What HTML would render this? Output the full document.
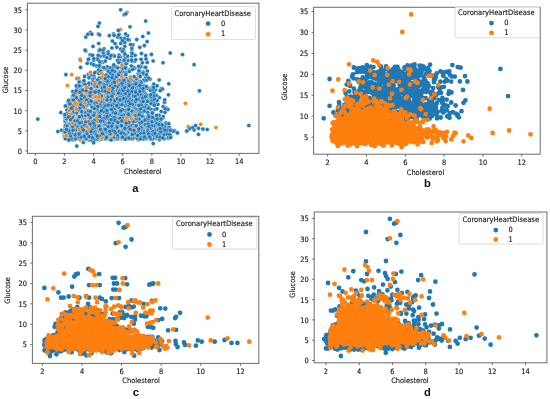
<!DOCTYPE html>
<html><head><meta charset="utf-8"><title>Scatter plots</title>
<style>html,body{margin:0;padding:0;background:#fff}svg{display:block}
text{font-family:"DejaVu Sans Condensed","DejaVu Sans","Liberation Sans",sans-serif;font-stretch:condensed;font-size:7.4px;fill:#161616;stroke:#161616;stroke-width:.12px}
text.lt{font-size:7.55px}
text.lab{font-family:"Liberation Sans",sans-serif;font-stretch:normal;font-weight:bold;font-size:11.2px;fill:#111;stroke:none}
.sa circle{r:2.1px;fill:#1f77b4;stroke:#fff;stroke-width:.38px}
.sa circle.o{fill:#ff7f0e}
</style></head>
<body><svg width="550" height="399" viewBox="0 0 550 399">
<rect width="550" height="399" fill="#fff"/>
<rect x="27.4" y="3.2" width="231.5" height="150.2" fill="#fff" stroke="#6c6c6c" stroke-width="1"/>
<text x="35.3" y="164.3" text-anchor="middle">0</text>
<text x="64.4" y="164.3" text-anchor="middle">2</text>
<text x="93.6" y="164.3" text-anchor="middle">4</text>
<text x="122.7" y="164.3" text-anchor="middle">6</text>
<text x="151.9" y="164.3" text-anchor="middle">8</text>
<text x="181.0" y="164.3" text-anchor="middle">10</text>
<text x="210.1" y="164.3" text-anchor="middle">12</text>
<text x="239.3" y="164.3" text-anchor="middle">14</text>
<text x="22.0" y="153.8" text-anchor="end">0</text>
<text x="22.0" y="133.7" text-anchor="end">5</text>
<text x="22.0" y="113.5" text-anchor="end">10</text>
<text x="22.0" y="93.4" text-anchor="end">15</text>
<text x="22.0" y="73.2" text-anchor="end">20</text>
<text x="22.0" y="53.1" text-anchor="end">25</text>
<text x="22.0" y="32.9" text-anchor="end">30</text>
<text x="22.0" y="12.7" text-anchor="end">35</text>
<path d="M35.3 153.4v2.4M64.4 153.4v2.4M93.6 153.4v2.4M122.7 153.4v2.4M151.9 153.4v2.4M181.0 153.4v2.4M210.1 153.4v2.4M239.3 153.4v2.4M27.4 150.9h-2.1M27.4 130.8h-2.1M27.4 110.6h-2.1M27.4 90.5h-2.1M27.4 70.3h-2.1M27.4 50.2h-2.1M27.4 30.0h-2.1M27.4 9.8h-2.1" stroke="#4d4d4d" stroke-width="0.8" fill="none"/>
<text x="142.8" y="174.2" text-anchor="middle">Cholesterol</text>
<text transform="translate(8.3 80.0) rotate(-90)" text-anchor="middle">Glucose</text>
<text class="lab" x="135.4" y="191.6" text-anchor="middle">a</text>
<g class="sa"><circle cx="111.1" cy="133.9"/><circle cx="141.1" cy="130.6"/><circle cx="87.3" cy="132.5"/><circle cx="82.2" cy="112.9"/><circle cx="103.3" cy="105.8"/><circle cx="91.2" cy="92.4"/><circle cx="147.1" cy="133.2"/><circle cx="73.0" cy="116.2"/><circle cx="88.5" cy="74.3"/><circle cx="93.8" cy="95.0"/><circle cx="148.0" cy="134.3"/><circle cx="109.2" cy="136.5"/><circle cx="139.4" cy="77.3"/><circle cx="105.2" cy="132.5"/><circle cx="93.8" cy="90.6"/><circle cx="105.6" cy="119.6"/><circle cx="110.2" cy="81.5"/><circle cx="114.3" cy="108.3"/><circle cx="163.5" cy="127.2"/><circle cx="79.0" cy="127.5"/><circle cx="131.8" cy="49.4"/><circle cx="143.7" cy="129.0"/><circle cx="119.1" cy="129.4"/><circle cx="134.4" cy="91.2"/><circle cx="121.5" cy="63.7"/><circle cx="86.9" cy="103.6"/><circle cx="123.6" cy="138.7"/><circle cx="92.1" cy="128.4"/><circle cx="115.0" cy="130.5"/><circle cx="117.5" cy="104.6"/><circle cx="133.7" cy="134.1"/><circle cx="113.6" cy="127.0"/><circle cx="82.4" cy="108.1" class="o"/><circle cx="154.2" cy="131.5"/><circle cx="161.6" cy="88.6"/><circle cx="117.0" cy="128.4"/><circle cx="90.2" cy="54.8"/><circle cx="102.8" cy="127.8"/><circle cx="109.0" cy="135.0"/><circle cx="141.0" cy="127.3"/><circle cx="116.9" cy="127.0"/><circle cx="126.5" cy="134.9"/><circle cx="131.6" cy="125.4"/><circle cx="116.6" cy="119.1"/><circle cx="109.2" cy="125.8"/><circle cx="99.4" cy="132.1"/><circle cx="118.3" cy="133.6"/><circle cx="104.8" cy="79.6"/><circle cx="75.5" cy="123.3"/><circle cx="105.7" cy="98.2"/><circle cx="79.2" cy="126.5"/><circle cx="93.8" cy="93.2"/><circle cx="151.3" cy="98.6"/><circle cx="84.9" cy="136.9"/><circle cx="103.2" cy="120.9"/><circle cx="112.5" cy="136.3"/><circle cx="131.9" cy="48.0"/><circle cx="98.9" cy="135.1"/><circle cx="90.1" cy="126.4"/><circle cx="132.7" cy="125.5"/><circle cx="104.3" cy="56.5"/><circle cx="160.2" cy="137.6"/><circle cx="139.9" cy="133.7" class="o"/><circle cx="145.1" cy="132.9"/><circle cx="74.2" cy="123.4"/><circle cx="135.2" cy="127.3"/><circle cx="126.8" cy="119.9"/><circle cx="139.8" cy="119.0"/><circle cx="125.0" cy="125.1"/><circle cx="113.6" cy="87.5"/><circle cx="85.0" cy="135.6"/><circle cx="92.2" cy="101.4"/><circle cx="131.2" cy="130.5"/><circle cx="80.2" cy="134.7"/><circle cx="83.2" cy="127.4"/><circle cx="69.0" cy="128.9"/><circle cx="91.3" cy="115.2"/><circle cx="123.9" cy="132.8"/><circle cx="143.1" cy="132.7" class="o"/><circle cx="77.3" cy="131.4"/><circle cx="106.3" cy="129.3"/><circle cx="110.2" cy="124.8"/><circle cx="147.4" cy="130.2"/><circle cx="68.2" cy="119.8"/><circle cx="108.5" cy="100.8"/><circle cx="129.9" cy="129.1" class="o"/><circle cx="102.1" cy="137.3"/><circle cx="125.1" cy="86.1"/><circle cx="121.3" cy="90.0" class="o"/><circle cx="95.2" cy="126.8"/><circle cx="70.2" cy="106.2"/><circle cx="113.5" cy="34.0"/><circle cx="153.7" cy="125.2"/><circle cx="113.2" cy="129.4"/><circle cx="118.2" cy="133.9"/><circle cx="131.4" cy="129.2"/><circle cx="106.3" cy="128.5"/><circle cx="124.1" cy="126.0"/><circle cx="108.4" cy="67.8"/><circle cx="97.1" cy="134.7"/><circle cx="81.3" cy="138.6" class="o"/><circle cx="150.2" cy="129.3"/><circle cx="91.3" cy="91.3"/><circle cx="120.9" cy="130.2" class="o"/><circle cx="79.2" cy="127.1"/><circle cx="65.1" cy="134.9"/><circle cx="108.6" cy="92.6"/><circle cx="98.0" cy="131.9"/><circle cx="99.3" cy="140.0" class="o"/><circle cx="120.2" cy="135.2"/><circle cx="126.4" cy="80.0"/><circle cx="116.6" cy="127.9"/><circle cx="105.4" cy="130.7"/><circle cx="123.7" cy="110.1"/><circle cx="64.3" cy="136.0"/><circle cx="135.4" cy="96.6"/><circle cx="98.9" cy="137.4"/><circle cx="118.5" cy="120.2"/><circle cx="74.0" cy="128.5"/><circle cx="73.7" cy="129.6"/><circle cx="107.3" cy="52.9"/><circle cx="102.0" cy="129.9" class="o"/><circle cx="69.0" cy="134.5"/><circle cx="97.5" cy="124.3"/><circle cx="125.7" cy="108.8"/><circle cx="86.9" cy="125.5"/><circle cx="124.0" cy="129.1"/><circle cx="98.3" cy="95.7" class="o"/><circle cx="121.9" cy="125.7"/><circle cx="98.3" cy="131.8"/><circle cx="88.6" cy="95.2"/><circle cx="102.3" cy="89.9"/><circle cx="154.2" cy="126.3"/><circle cx="86.3" cy="96.8"/><circle cx="80.4" cy="97.9" class="o"/><circle cx="94.4" cy="80.9"/><circle cx="106.8" cy="130.6"/><circle cx="130.7" cy="91.8"/><circle cx="143.7" cy="117.9"/><circle cx="124.4" cy="138.4" class="o"/><circle cx="123.1" cy="134.7"/><circle cx="90.6" cy="120.2" class="o"/><circle cx="101.4" cy="95.0"/><circle cx="95.2" cy="93.3"/><circle cx="145.4" cy="128.5"/><circle cx="119.4" cy="34.3"/><circle cx="93.7" cy="133.3"/><circle cx="110.5" cy="77.9"/><circle cx="67.1" cy="138.7"/><circle cx="115.4" cy="111.7"/><circle cx="115.3" cy="130.7"/><circle cx="113.7" cy="114.9"/><circle cx="117.0" cy="97.3"/><circle cx="91.8" cy="85.3"/><circle cx="126.4" cy="129.4" class="o"/><circle cx="95.5" cy="134.0"/><circle cx="78.1" cy="122.4"/><circle cx="137.7" cy="126.7"/><circle cx="199.5" cy="90.9"/><circle cx="124.9" cy="98.1"/><circle cx="114.3" cy="76.1" class="o"/><circle cx="87.7" cy="121.8"/><circle cx="93.5" cy="65.1"/><circle cx="107.8" cy="118.7"/><circle cx="151.0" cy="136.4"/><circle cx="87.0" cy="111.9"/><circle cx="75.6" cy="131.4"/><circle cx="89.4" cy="86.6"/><circle cx="126.1" cy="123.9"/><circle cx="124.2" cy="14.7"/><circle cx="101.9" cy="129.5"/><circle cx="135.3" cy="129.9"/><circle cx="78.2" cy="134.4"/><circle cx="83.4" cy="101.9"/><circle cx="131.9" cy="61.5"/><circle cx="148.2" cy="129.8"/><circle cx="120.9" cy="113.5"/><circle cx="122.7" cy="135.8"/><circle cx="182.5" cy="54.6"/><circle cx="128.6" cy="129.3"/><circle cx="101.2" cy="138.4"/><circle cx="126.2" cy="128.5"/><circle cx="75.2" cy="110.8"/><circle cx="120.2" cy="130.5"/><circle cx="132.0" cy="130.0"/><circle cx="127.6" cy="93.6"/><circle cx="67.5" cy="134.4"/><circle cx="98.3" cy="88.0"/><circle cx="96.5" cy="82.1"/><circle cx="73.9" cy="138.4"/><circle cx="143.4" cy="133.3"/><circle cx="103.9" cy="129.0"/><circle cx="75.4" cy="135.3" class="o"/><circle cx="121.0" cy="121.8"/><circle cx="101.1" cy="132.6"/><circle cx="91.9" cy="132.4"/><circle cx="144.6" cy="134.6"/><circle cx="91.9" cy="88.3" class="o"/><circle cx="69.7" cy="127.1"/><circle cx="159.3" cy="117.6"/><circle cx="86.8" cy="137.5"/><circle cx="109.9" cy="115.0"/><circle cx="84.2" cy="117.7"/><circle cx="104.9" cy="135.5"/><circle cx="100.3" cy="56.3"/><circle cx="144.0" cy="130.7"/><circle cx="73.9" cy="123.3"/><circle cx="110.4" cy="127.6"/><circle cx="107.2" cy="92.4"/><circle cx="88.3" cy="133.8"/><circle cx="118.4" cy="137.9"/><circle cx="69.5" cy="133.5"/><circle cx="113.2" cy="130.0"/><circle cx="96.0" cy="113.1"/><circle cx="113.4" cy="129.2"/><circle cx="117.5" cy="129.9"/><circle cx="98.2" cy="133.5"/><circle cx="151.0" cy="89.1"/><circle cx="104.1" cy="48.8"/><circle cx="114.7" cy="128.0"/><circle cx="69.3" cy="132.6" class="o"/><circle cx="94.5" cy="126.2"/><circle cx="136.0" cy="132.6"/><circle cx="113.4" cy="93.1"/><circle cx="90.5" cy="94.2"/><circle cx="99.7" cy="98.9" class="o"/><circle cx="95.8" cy="129.5" class="o"/><circle cx="102.6" cy="132.7"/><circle cx="86.5" cy="134.4"/><circle cx="67.4" cy="85.6" class="o"/><circle cx="150.0" cy="119.9"/><circle cx="185.4" cy="103.3" class="o"/><circle cx="105.4" cy="136.4"/><circle cx="135.5" cy="134.6"/><circle cx="102.6" cy="134.8"/><circle cx="129.1" cy="70.0"/><circle cx="113.0" cy="134.3"/><circle cx="138.6" cy="92.8"/><circle cx="69.7" cy="127.3"/><circle cx="153.2" cy="99.4"/><circle cx="84.6" cy="130.5"/><circle cx="108.6" cy="114.0"/><circle cx="112.5" cy="130.8"/><circle cx="71.8" cy="131.8"/><circle cx="129.8" cy="116.8"/><circle cx="144.7" cy="124.0"/><circle cx="103.7" cy="87.1"/><circle cx="92.8" cy="127.6"/><circle cx="118.7" cy="132.0"/><circle cx="122.1" cy="133.3"/><circle cx="146.9" cy="136.8"/><circle cx="120.6" cy="57.0"/><circle cx="69.4" cy="119.8" class="o"/><circle cx="158.6" cy="130.8"/><circle cx="81.4" cy="139.1"/><circle cx="119.1" cy="55.2"/><circle cx="86.8" cy="96.4"/><circle cx="135.4" cy="134.8"/><circle cx="108.9" cy="113.0" class="o"/><circle cx="131.7" cy="133.2"/><circle cx="188.3" cy="126.7" class="o"/><circle cx="91.7" cy="134.0" class="o"/><circle cx="111.9" cy="86.6"/><circle cx="100.9" cy="101.1"/><circle cx="98.2" cy="112.5"/><circle cx="141.8" cy="130.0"/><circle cx="96.7" cy="97.9"/><circle cx="133.6" cy="133.3"/><circle cx="85.8" cy="37.1"/><circle cx="116.4" cy="120.6"/><circle cx="136.9" cy="136.0"/><circle cx="102.3" cy="78.2"/><circle cx="120.9" cy="137.6"/><circle cx="96.3" cy="65.9"/><circle cx="102.6" cy="127.2"/><circle cx="121.9" cy="95.0"/><circle cx="107.7" cy="136.5"/><circle cx="154.8" cy="127.9"/><circle cx="163.1" cy="129.1"/><circle cx="140.6" cy="132.4"/><circle cx="146.6" cy="86.5"/><circle cx="140.8" cy="125.9"/><circle cx="99.6" cy="129.4"/><circle cx="143.0" cy="92.8"/><circle cx="86.0" cy="112.8"/><circle cx="95.5" cy="108.9"/><circle cx="89.8" cy="137.1"/><circle cx="73.3" cy="135.5"/><circle cx="121.8" cy="119.0"/><circle cx="77.0" cy="92.5"/><circle cx="94.0" cy="88.0"/><circle cx="83.1" cy="138.2" class="o"/><circle cx="90.7" cy="86.2"/><circle cx="84.3" cy="100.0"/><circle cx="118.9" cy="57.2"/><circle cx="84.6" cy="76.4"/><circle cx="121.2" cy="129.1"/><circle cx="111.9" cy="133.5" class="o"/><circle cx="79.8" cy="136.8" class="o"/><circle cx="115.9" cy="128.3"/><circle cx="83.6" cy="91.6"/><circle cx="109.5" cy="124.6"/><circle cx="103.1" cy="129.9"/><circle cx="101.8" cy="133.8" class="o"/><circle cx="114.6" cy="117.9"/><circle cx="119.0" cy="94.1"/><circle cx="112.3" cy="72.5"/><circle cx="118.7" cy="124.1"/><circle cx="75.7" cy="94.5"/><circle cx="93.0" cy="131.1"/><circle cx="91.5" cy="89.6"/><circle cx="96.5" cy="133.3"/><circle cx="123.0" cy="128.6"/><circle cx="93.5" cy="138.5" class="o"/><circle cx="150.5" cy="99.5"/><circle cx="87.1" cy="130.8" class="o"/><circle cx="120.9" cy="129.3"/><circle cx="106.9" cy="91.8"/><circle cx="83.7" cy="94.9"/><circle cx="147.1" cy="41.6"/><circle cx="136.0" cy="86.8"/><circle cx="154.5" cy="123.7"/><circle cx="138.7" cy="132.9"/><circle cx="120.2" cy="127.6"/><circle cx="115.6" cy="121.7"/><circle cx="121.2" cy="132.4"/><circle cx="112.0" cy="126.8"/><circle cx="105.4" cy="99.3"/><circle cx="102.8" cy="62.3"/><circle cx="134.1" cy="81.7"/><circle cx="96.3" cy="125.7"/><circle cx="105.3" cy="131.4"/><circle cx="145.4" cy="86.2"/><circle cx="90.1" cy="128.7"/><circle cx="137.5" cy="134.3"/><circle cx="129.2" cy="135.3"/><circle cx="157.1" cy="138.4"/><circle cx="82.7" cy="137.7"/><circle cx="129.2" cy="82.9"/><circle cx="95.6" cy="130.4"/><circle cx="117.7" cy="139.1"/><circle cx="96.9" cy="129.5"/><circle cx="78.6" cy="132.2"/><circle cx="99.8" cy="127.1"/><circle cx="127.9" cy="119.5" class="o"/><circle cx="104.8" cy="126.9"/><circle cx="132.6" cy="105.9"/><circle cx="144.8" cy="67.5"/><circle cx="81.7" cy="113.9"/><circle cx="88.3" cy="96.9"/><circle cx="81.2" cy="132.0"/><circle cx="98.5" cy="113.5"/><circle cx="118.3" cy="81.8"/><circle cx="109.5" cy="132.2"/><circle cx="127.3" cy="134.9"/><circle cx="115.6" cy="134.9"/><circle cx="89.6" cy="134.3"/><circle cx="92.2" cy="118.7"/><circle cx="155.6" cy="137.9"/><circle cx="114.4" cy="126.5"/><circle cx="144.7" cy="130.4"/><circle cx="90.4" cy="32.6"/><circle cx="86.7" cy="136.0"/><circle cx="117.0" cy="93.6"/><circle cx="134.9" cy="117.3"/><circle cx="162.1" cy="137.3"/><circle cx="91.4" cy="126.3"/><circle cx="99.2" cy="132.1"/><circle cx="123.4" cy="132.5"/><circle cx="82.5" cy="129.3"/><circle cx="106.7" cy="99.2"/><circle cx="149.0" cy="123.7"/><circle cx="89.6" cy="90.5" class="o"/><circle cx="86.9" cy="118.6"/><circle cx="117.5" cy="120.6"/><circle cx="116.0" cy="128.5"/><circle cx="121.3" cy="91.3"/><circle cx="105.9" cy="108.2" class="o"/><circle cx="125.5" cy="131.1"/><circle cx="96.2" cy="94.3" class="o"/><circle cx="101.5" cy="91.2"/><circle cx="75.4" cy="127.2"/><circle cx="115.0" cy="134.2"/><circle cx="111.5" cy="92.3"/><circle cx="118.5" cy="122.9"/><circle cx="194.1" cy="129.9"/><circle cx="124.1" cy="100.9"/><circle cx="96.5" cy="134.1"/><circle cx="91.1" cy="133.9" class="o"/><circle cx="131.1" cy="134.2"/><circle cx="124.9" cy="126.6"/><circle cx="103.2" cy="136.2"/><circle cx="86.2" cy="98.2"/><circle cx="116.9" cy="68.1"/><circle cx="90.7" cy="128.3"/><circle cx="81.7" cy="123.4"/><circle cx="108.8" cy="72.1"/><circle cx="136.3" cy="135.3"/><circle cx="100.9" cy="97.3"/><circle cx="155.2" cy="132.2"/><circle cx="85.3" cy="122.4"/><circle cx="98.0" cy="133.0" class="o"/><circle cx="98.6" cy="86.2" class="o"/><circle cx="127.1" cy="134.6"/><circle cx="97.1" cy="133.2"/><circle cx="130.6" cy="127.4"/><circle cx="148.5" cy="127.2"/><circle cx="141.3" cy="93.9"/><circle cx="118.5" cy="136.5"/><circle cx="146.2" cy="132.4"/><circle cx="134.9" cy="131.3"/><circle cx="137.0" cy="124.5"/><circle cx="80.5" cy="126.8"/><circle cx="123.0" cy="120.8"/><circle cx="135.7" cy="129.4"/><circle cx="119.6" cy="130.2"/><circle cx="142.4" cy="128.2"/><circle cx="139.3" cy="135.1"/><circle cx="135.5" cy="136.9"/><circle cx="118.3" cy="127.0"/><circle cx="108.2" cy="131.8"/><circle cx="104.2" cy="104.3"/><circle cx="131.3" cy="128.5"/><circle cx="97.6" cy="83.8"/><circle cx="101.1" cy="85.1"/><circle cx="118.4" cy="103.9"/><circle cx="127.1" cy="12.3" class="o"/><circle cx="124.1" cy="128.5"/><circle cx="140.5" cy="133.6" class="o"/><circle cx="135.2" cy="129.7"/><circle cx="74.8" cy="128.4"/><circle cx="133.4" cy="130.8"/><circle cx="67.2" cy="130.4"/><circle cx="112.1" cy="128.9"/><circle cx="74.1" cy="134.2"/><circle cx="165.8" cy="122.9"/><circle cx="139.1" cy="89.9"/><circle cx="96.4" cy="131.0"/><circle cx="121.0" cy="86.4"/><circle cx="105.8" cy="133.7"/><circle cx="142.5" cy="127.5"/><circle cx="90.7" cy="136.1"/><circle cx="123.2" cy="129.0"/><circle cx="94.6" cy="124.1"/><circle cx="152.3" cy="136.1"/><circle cx="101.1" cy="132.6"/><circle cx="74.5" cy="103.9"/><circle cx="77.9" cy="98.8"/><circle cx="111.7" cy="99.7"/><circle cx="80.2" cy="119.1"/><circle cx="104.3" cy="125.8"/><circle cx="86.1" cy="94.7"/><circle cx="100.9" cy="131.3"/><circle cx="136.1" cy="95.3"/><circle cx="80.3" cy="124.5"/><circle cx="78.7" cy="132.0"/><circle cx="128.4" cy="137.6"/><circle cx="131.9" cy="117.7"/><circle cx="131.7" cy="131.2"/><circle cx="96.4" cy="133.0"/><circle cx="127.1" cy="57.6"/><circle cx="103.5" cy="89.7" class="o"/><circle cx="105.8" cy="133.3"/><circle cx="90.9" cy="131.0"/><circle cx="79.9" cy="124.6"/><circle cx="129.6" cy="112.6"/><circle cx="68.8" cy="140.4"/><circle cx="125.3" cy="118.1"/><circle cx="123.7" cy="103.0"/><circle cx="126.5" cy="95.8"/><circle cx="79.6" cy="132.6"/><circle cx="105.4" cy="115.0"/><circle cx="90.4" cy="128.0"/><circle cx="107.7" cy="101.8"/><circle cx="95.1" cy="139.2"/><circle cx="120.1" cy="136.5" class="o"/><circle cx="99.4" cy="87.7"/><circle cx="101.2" cy="100.3"/><circle cx="85.7" cy="128.3"/><circle cx="76.1" cy="98.7"/><circle cx="105.9" cy="129.1"/><circle cx="127.0" cy="130.4"/><circle cx="71.4" cy="129.0"/><circle cx="70.6" cy="131.3"/><circle cx="99.2" cy="136.8"/><circle cx="74.5" cy="129.7"/><circle cx="79.3" cy="124.7"/><circle cx="120.1" cy="88.2"/><circle cx="131.1" cy="136.8"/><circle cx="88.7" cy="132.4"/><circle cx="129.9" cy="132.2"/><circle cx="159.2" cy="80.0"/><circle cx="81.8" cy="134.2" class="o"/><circle cx="66.2" cy="131.0"/><circle cx="95.4" cy="84.3"/><circle cx="120.3" cy="136.0"/><circle cx="106.3" cy="68.8"/><circle cx="66.6" cy="128.1" class="o"/><circle cx="117.6" cy="85.3"/><circle cx="124.5" cy="129.1"/><circle cx="119.2" cy="107.6"/><circle cx="104.6" cy="129.1"/><circle cx="83.1" cy="135.3" class="o"/><circle cx="91.0" cy="129.6"/><circle cx="104.2" cy="97.6"/><circle cx="126.7" cy="105.6"/><circle cx="134.6" cy="91.6"/><circle cx="109.2" cy="94.6"/><circle cx="137.0" cy="128.5"/><circle cx="108.4" cy="88.3"/><circle cx="103.8" cy="131.9"/><circle cx="118.5" cy="90.3"/><circle cx="73.0" cy="114.5"/><circle cx="103.0" cy="85.5"/><circle cx="104.1" cy="90.9"/><circle cx="80.9" cy="119.4"/><circle cx="108.1" cy="91.2"/><circle cx="112.0" cy="128.1"/><circle cx="132.6" cy="134.9"/><circle cx="117.1" cy="132.1"/><circle cx="137.4" cy="120.4"/><circle cx="130.0" cy="119.4"/><circle cx="109.7" cy="129.1"/><circle cx="106.0" cy="131.7"/><circle cx="130.1" cy="130.1"/><circle cx="115.9" cy="81.8"/><circle cx="76.5" cy="128.3"/><circle cx="165.6" cy="132.0"/><circle cx="106.0" cy="136.1"/><circle cx="153.4" cy="92.9"/><circle cx="104.8" cy="108.8"/><circle cx="154.0" cy="132.8"/><circle cx="130.0" cy="135.4"/><circle cx="86.0" cy="127.4" class="o"/><circle cx="168.9" cy="129.6"/><circle cx="164.4" cy="134.6"/><circle cx="105.2" cy="94.6"/><circle cx="83.0" cy="98.6"/><circle cx="124.1" cy="110.4"/><circle cx="118.1" cy="129.7"/><circle cx="109.0" cy="130.3"/><circle cx="119.7" cy="129.7"/><circle cx="75.3" cy="135.4"/><circle cx="112.8" cy="134.9"/><circle cx="113.1" cy="139.4"/><circle cx="136.9" cy="129.1"/><circle cx="102.5" cy="133.1"/><circle cx="69.3" cy="127.1"/><circle cx="111.8" cy="125.5"/><circle cx="88.8" cy="58.8"/><circle cx="120.4" cy="82.2"/><circle cx="72.3" cy="126.8"/><circle cx="128.7" cy="86.7"/><circle cx="82.4" cy="100.5" class="o"/><circle cx="109.2" cy="125.6"/><circle cx="168.9" cy="134.9"/><circle cx="141.3" cy="132.3"/><circle cx="73.9" cy="133.5"/><circle cx="81.4" cy="106.4"/><circle cx="124.1" cy="91.3"/><circle cx="120.5" cy="99.1"/><circle cx="66.0" cy="136.4"/><circle cx="115.4" cy="99.7"/><circle cx="120.7" cy="115.0"/><circle cx="108.7" cy="138.5"/><circle cx="119.8" cy="138.9"/><circle cx="125.0" cy="133.4"/><circle cx="104.5" cy="119.6"/><circle cx="76.4" cy="102.4"/><circle cx="79.3" cy="134.1"/><circle cx="122.4" cy="115.2"/><circle cx="107.5" cy="128.0"/><circle cx="82.4" cy="121.6"/><circle cx="91.3" cy="63.7"/><circle cx="108.4" cy="131.5"/><circle cx="124.0" cy="72.6"/><circle cx="117.5" cy="130.6"/><circle cx="86.6" cy="106.3"/><circle cx="78.5" cy="129.0"/><circle cx="151.1" cy="109.4"/><circle cx="132.6" cy="100.0" class="o"/><circle cx="140.9" cy="123.5"/><circle cx="142.1" cy="130.2"/><circle cx="122.3" cy="136.9"/><circle cx="176.9" cy="132.6"/><circle cx="142.4" cy="62.8"/><circle cx="129.5" cy="90.3"/><circle cx="100.0" cy="72.3"/><circle cx="141.4" cy="131.4"/><circle cx="109.8" cy="69.7"/><circle cx="141.4" cy="129.1"/><circle cx="102.0" cy="137.4" class="o"/><circle cx="82.1" cy="125.0"/><circle cx="132.7" cy="126.0"/><circle cx="57.9" cy="131.6"/><circle cx="81.3" cy="103.4"/><circle cx="101.0" cy="128.3"/><circle cx="86.3" cy="84.8"/><circle cx="124.5" cy="113.6"/><circle cx="103.9" cy="55.4"/><circle cx="135.3" cy="130.7"/><circle cx="117.3" cy="74.6" class="o"/><circle cx="104.3" cy="93.9"/><circle cx="130.5" cy="121.8"/><circle cx="88.3" cy="103.1"/><circle cx="110.2" cy="129.6"/><circle cx="159.4" cy="140.0"/><circle cx="142.6" cy="131.7"/><circle cx="114.3" cy="126.2"/><circle cx="119.9" cy="133.4"/><circle cx="72.6" cy="131.5"/><circle cx="118.4" cy="130.7"/><circle cx="116.8" cy="131.2"/><circle cx="150.0" cy="100.8"/><circle cx="138.1" cy="124.4"/><circle cx="96.7" cy="112.3"/><circle cx="109.9" cy="134.0"/><circle cx="121.0" cy="131.7"/><circle cx="77.9" cy="101.0"/><circle cx="83.5" cy="129.2"/><circle cx="99.2" cy="89.5"/><circle cx="67.5" cy="128.2" class="o"/><circle cx="126.3" cy="134.2"/><circle cx="162.8" cy="129.8"/><circle cx="126.4" cy="106.6"/><circle cx="80.5" cy="133.8"/><circle cx="145.7" cy="55.7"/><circle cx="87.9" cy="130.7"/><circle cx="112.1" cy="89.9"/><circle cx="127.9" cy="97.1"/><circle cx="124.3" cy="38.4"/><circle cx="80.3" cy="132.1"/><circle cx="135.2" cy="113.6"/><circle cx="140.4" cy="133.1"/><circle cx="97.1" cy="131.3"/><circle cx="105.8" cy="135.2"/><circle cx="108.5" cy="128.3"/><circle cx="83.4" cy="125.8" class="o"/><circle cx="77.6" cy="131.6"/><circle cx="109.3" cy="35.7"/><circle cx="121.2" cy="125.0"/><circle cx="102.1" cy="98.7"/><circle cx="145.7" cy="128.5"/><circle cx="157.9" cy="104.4"/><circle cx="124.9" cy="122.5"/><circle cx="138.3" cy="140.0" class="o"/><circle cx="115.0" cy="89.6"/><circle cx="92.4" cy="112.4"/><circle cx="141.1" cy="59.3"/><circle cx="120.9" cy="139.1"/><circle cx="160.7" cy="124.8"/><circle cx="151.3" cy="124.7"/><circle cx="67.2" cy="130.8"/><circle cx="107.7" cy="136.5"/><circle cx="114.6" cy="88.0"/><circle cx="106.7" cy="80.6"/><circle cx="149.0" cy="107.0"/><circle cx="159.1" cy="132.2"/><circle cx="156.0" cy="131.5"/><circle cx="148.4" cy="33.1"/><circle cx="126.7" cy="71.7"/><circle cx="128.3" cy="106.9"/><circle cx="118.3" cy="118.8"/><circle cx="100.9" cy="132.4"/><circle cx="83.5" cy="129.4"/><circle cx="109.8" cy="91.8"/><circle cx="81.9" cy="131.0" class="o"/><circle cx="113.6" cy="120.2"/><circle cx="97.3" cy="124.1"/><circle cx="102.3" cy="82.4"/><circle cx="69.2" cy="133.2"/><circle cx="113.8" cy="89.0"/><circle cx="78.6" cy="138.5" class="o"/><circle cx="97.2" cy="139.1"/><circle cx="76.5" cy="131.6"/><circle cx="113.1" cy="130.4" class="o"/><circle cx="86.8" cy="131.5"/><circle cx="106.3" cy="69.3"/><circle cx="81.7" cy="131.8"/><circle cx="114.7" cy="129.7"/><circle cx="82.7" cy="109.6" class="o"/><circle cx="162.4" cy="89.2"/><circle cx="95.7" cy="135.0"/><circle cx="104.5" cy="128.7"/><circle cx="110.3" cy="137.5"/><circle cx="114.6" cy="135.6"/><circle cx="134.0" cy="135.6"/><circle cx="120.7" cy="133.9" class="o"/><circle cx="159.1" cy="128.2"/><circle cx="137.1" cy="105.9"/><circle cx="103.9" cy="111.4"/><circle cx="87.8" cy="34.3"/><circle cx="145.0" cy="129.1"/><circle cx="76.8" cy="131.7"/><circle cx="115.2" cy="135.9"/><circle cx="151.0" cy="90.1"/><circle cx="86.3" cy="125.4"/><circle cx="125.3" cy="133.6" class="o"/><circle cx="86.0" cy="134.4"/><circle cx="115.9" cy="98.4"/><circle cx="138.4" cy="131.5"/><circle cx="141.9" cy="95.4"/><circle cx="137.7" cy="123.3"/><circle cx="139.1" cy="130.5"/><circle cx="168.8" cy="83.8"/><circle cx="104.8" cy="104.7"/><circle cx="119.5" cy="127.9"/><circle cx="72.1" cy="98.8" class="o"/><circle cx="65.4" cy="133.0"/><circle cx="132.5" cy="119.8"/><circle cx="116.8" cy="91.9"/><circle cx="135.8" cy="128.5"/><circle cx="135.0" cy="128.7" class="o"/><circle cx="90.2" cy="124.7"/><circle cx="73.8" cy="129.2" class="o"/><circle cx="128.3" cy="129.3"/><circle cx="93.8" cy="60.2"/><circle cx="138.0" cy="89.6"/><circle cx="96.0" cy="132.1"/><circle cx="81.3" cy="97.5"/><circle cx="98.5" cy="114.1"/><circle cx="124.7" cy="93.1"/><circle cx="104.8" cy="134.0"/><circle cx="100.3" cy="134.2"/><circle cx="120.7" cy="49.2"/><circle cx="148.8" cy="132.6"/><circle cx="114.8" cy="68.2"/><circle cx="74.4" cy="136.8"/><circle cx="115.1" cy="136.2" class="o"/><circle cx="113.7" cy="55.3"/><circle cx="91.1" cy="129.1"/><circle cx="113.0" cy="85.9"/><circle cx="118.6" cy="130.0"/><circle cx="140.9" cy="67.0"/><circle cx="144.7" cy="81.0"/><circle cx="134.5" cy="115.4"/><circle cx="102.3" cy="77.2"/><circle cx="122.9" cy="127.0"/><circle cx="101.5" cy="132.2"/><circle cx="103.6" cy="97.6"/><circle cx="137.1" cy="98.1"/><circle cx="81.1" cy="135.0"/><circle cx="91.6" cy="132.2"/><circle cx="126.2" cy="131.3"/><circle cx="133.4" cy="109.5"/><circle cx="71.6" cy="113.6"/><circle cx="72.7" cy="132.5"/><circle cx="112.2" cy="117.9"/><circle cx="147.7" cy="121.5"/><circle cx="73.8" cy="113.1"/><circle cx="88.1" cy="132.2" class="o"/><circle cx="89.3" cy="121.5"/><circle cx="149.0" cy="129.6"/><circle cx="131.3" cy="82.9"/><circle cx="138.5" cy="134.4" class="o"/><circle cx="70.2" cy="135.8"/><circle cx="118.8" cy="123.1"/><circle cx="125.6" cy="105.0"/><circle cx="118.3" cy="128.1"/><circle cx="87.9" cy="98.0"/><circle cx="83.8" cy="92.0"/><circle cx="104.9" cy="136.9"/><circle cx="121.9" cy="130.2"/><circle cx="111.7" cy="106.3"/><circle cx="92.6" cy="114.6"/><circle cx="103.8" cy="76.4"/><circle cx="99.8" cy="90.1"/><circle cx="145.1" cy="138.3"/><circle cx="130.4" cy="79.5"/><circle cx="86.8" cy="134.1"/><circle cx="117.3" cy="129.9"/><circle cx="80.3" cy="137.8" class="o"/><circle cx="101.5" cy="120.3"/><circle cx="124.8" cy="136.0"/><circle cx="68.7" cy="134.3" class="o"/><circle cx="96.9" cy="112.4"/><circle cx="126.4" cy="85.3" class="o"/><circle cx="92.5" cy="112.0"/><circle cx="134.8" cy="115.0"/><circle cx="154.0" cy="124.9"/><circle cx="96.2" cy="106.3"/><circle cx="65.9" cy="126.4"/><circle cx="99.7" cy="49.4"/><circle cx="122.6" cy="76.5"/><circle cx="136.7" cy="39.6"/><circle cx="117.4" cy="95.5"/><circle cx="94.3" cy="126.3"/><circle cx="131.9" cy="130.4"/><circle cx="90.3" cy="132.9"/><circle cx="67.1" cy="137.9"/><circle cx="169.4" cy="128.3"/><circle cx="120.3" cy="121.7"/><circle cx="98.0" cy="26.4"/><circle cx="117.5" cy="129.6"/><circle cx="146.1" cy="104.8"/><circle cx="128.3" cy="125.0"/><circle cx="100.4" cy="113.3"/><circle cx="107.9" cy="134.7"/><circle cx="93.8" cy="113.3"/><circle cx="115.8" cy="67.1"/><circle cx="103.6" cy="113.6"/><circle cx="106.3" cy="109.9"/><circle cx="73.1" cy="136.7"/><circle cx="113.1" cy="138.1" class="o"/><circle cx="110.9" cy="114.0"/><circle cx="155.2" cy="130.7"/><circle cx="113.9" cy="129.3"/><circle cx="128.8" cy="113.0"/><circle cx="106.6" cy="130.0"/><circle cx="145.2" cy="97.2"/><circle cx="74.3" cy="124.7" class="o"/><circle cx="127.9" cy="135.2"/><circle cx="71.2" cy="133.9"/><circle cx="145.2" cy="137.9"/><circle cx="81.2" cy="100.6" class="o"/><circle cx="114.4" cy="56.1"/><circle cx="143.2" cy="110.2"/><circle cx="147.1" cy="128.8"/><circle cx="153.1" cy="134.1"/><circle cx="151.1" cy="132.4"/><circle cx="164.3" cy="138.8"/><circle cx="104.1" cy="86.4" class="o"/><circle cx="96.2" cy="133.4"/><circle cx="69.0" cy="135.0" class="o"/><circle cx="101.1" cy="61.5"/><circle cx="110.9" cy="55.6"/><circle cx="102.5" cy="128.7"/><circle cx="94.4" cy="136.5"/><circle cx="144.4" cy="126.7"/><circle cx="104.3" cy="103.8"/><circle cx="91.3" cy="138.9" class="o"/><circle cx="110.8" cy="131.8"/><circle cx="127.3" cy="91.5"/><circle cx="157.6" cy="126.3"/><circle cx="105.5" cy="131.9"/><circle cx="79.2" cy="137.9"/><circle cx="86.3" cy="88.7"/><circle cx="120.1" cy="128.2"/><circle cx="83.7" cy="93.8"/><circle cx="72.5" cy="97.3"/><circle cx="120.2" cy="127.9" class="o"/><circle cx="140.5" cy="135.8"/><circle cx="140.9" cy="124.3"/><circle cx="84.6" cy="101.1"/><circle cx="122.1" cy="126.7"/><circle cx="95.9" cy="97.5"/><circle cx="74.1" cy="131.1"/><circle cx="117.8" cy="106.4"/><circle cx="91.5" cy="129.0" class="o"/><circle cx="99.8" cy="129.0"/><circle cx="80.3" cy="124.1"/><circle cx="128.4" cy="130.8"/><circle cx="81.0" cy="135.0"/><circle cx="136.4" cy="122.9"/><circle cx="111.2" cy="98.3"/><circle cx="98.7" cy="132.7"/><circle cx="91.3" cy="136.9"/><circle cx="103.3" cy="135.9"/><circle cx="126.1" cy="138.9"/><circle cx="108.5" cy="76.3"/><circle cx="108.9" cy="121.7"/><circle cx="76.1" cy="130.3"/><circle cx="137.7" cy="121.2"/><circle cx="142.8" cy="36.5"/><circle cx="103.7" cy="80.9"/><circle cx="130.9" cy="134.1"/><circle cx="156.0" cy="133.4"/><circle cx="76.8" cy="131.9"/><circle cx="146.6" cy="132.5"/><circle cx="119.6" cy="102.9"/><circle cx="177.5" cy="132.9"/><circle cx="153.1" cy="61.0"/><circle cx="79.1" cy="134.2"/><circle cx="163.1" cy="117.9"/><circle cx="84.5" cy="134.4"/><circle cx="108.4" cy="137.8"/><circle cx="133.9" cy="104.9"/><circle cx="128.9" cy="127.6"/><circle cx="93.3" cy="131.3"/><circle cx="140.1" cy="130.2"/><circle cx="72.6" cy="134.1"/><circle cx="109.9" cy="86.9"/><circle cx="125.0" cy="130.0"/><circle cx="95.3" cy="121.4" class="o"/><circle cx="77.1" cy="95.5"/><circle cx="77.0" cy="125.1"/><circle cx="111.3" cy="133.0"/><circle cx="102.3" cy="124.8" class="o"/><circle cx="126.1" cy="132.3"/><circle cx="100.6" cy="136.8"/><circle cx="114.0" cy="131.3"/><circle cx="101.1" cy="128.6"/><circle cx="138.2" cy="117.5"/><circle cx="99.0" cy="129.7"/><circle cx="139.7" cy="131.1"/><circle cx="125.8" cy="92.7"/><circle cx="118.9" cy="97.4"/><circle cx="90.8" cy="135.5"/><circle cx="94.7" cy="128.4"/><circle cx="75.3" cy="120.7"/><circle cx="74.0" cy="131.1"/><circle cx="71.0" cy="128.0" class="o"/><circle cx="152.6" cy="132.3"/><circle cx="118.7" cy="132.9"/><circle cx="113.1" cy="90.0"/><circle cx="98.1" cy="126.9"/><circle cx="134.7" cy="68.4"/><circle cx="155.1" cy="103.1"/><circle cx="77.8" cy="126.2"/><circle cx="103.9" cy="133.0"/><circle cx="122.4" cy="69.3"/><circle cx="129.2" cy="40.0"/><circle cx="121.6" cy="130.6"/><circle cx="136.0" cy="104.4"/><circle cx="93.2" cy="129.7"/><circle cx="80.4" cy="133.1"/><circle cx="108.4" cy="93.0" class="o"/><circle cx="151.7" cy="125.9"/><circle cx="60.8" cy="112.6"/><circle cx="142.1" cy="128.6"/><circle cx="163.5" cy="129.7"/><circle cx="147.2" cy="95.9"/><circle cx="101.7" cy="83.4"/><circle cx="145.0" cy="110.9"/><circle cx="90.2" cy="74.0"/><circle cx="96.0" cy="113.4"/><circle cx="131.1" cy="124.3"/><circle cx="64.9" cy="116.3"/><circle cx="128.1" cy="90.7"/><circle cx="155.9" cy="121.8"/><circle cx="140.6" cy="94.1"/><circle cx="137.2" cy="133.2"/><circle cx="85.1" cy="120.2"/><circle cx="97.4" cy="132.7"/><circle cx="97.4" cy="124.0"/><circle cx="142.6" cy="89.6"/><circle cx="111.8" cy="127.4"/><circle cx="149.4" cy="136.3"/><circle cx="139.8" cy="106.8"/><circle cx="69.8" cy="133.8"/><circle cx="76.3" cy="138.7"/><circle cx="94.8" cy="132.8"/><circle cx="90.2" cy="133.5"/><circle cx="118.0" cy="132.5"/><circle cx="140.5" cy="90.7"/><circle cx="88.4" cy="100.3"/><circle cx="103.7" cy="84.3"/><circle cx="115.4" cy="67.3"/><circle cx="106.2" cy="127.7"/><circle cx="125.0" cy="131.6"/><circle cx="116.1" cy="130.0"/><circle cx="128.4" cy="133.7" class="o"/><circle cx="99.9" cy="89.4"/><circle cx="85.5" cy="117.4"/><circle cx="114.9" cy="123.1"/><circle cx="86.6" cy="136.5"/><circle cx="116.2" cy="132.8"/><circle cx="109.1" cy="138.5"/><circle cx="106.0" cy="133.1"/><circle cx="89.7" cy="122.4"/><circle cx="107.7" cy="85.9"/><circle cx="134.3" cy="129.1"/><circle cx="141.5" cy="124.0"/><circle cx="93.6" cy="90.6" class="o"/><circle cx="152.3" cy="132.3"/><circle cx="111.2" cy="111.6"/><circle cx="113.4" cy="135.4" class="o"/><circle cx="119.2" cy="106.7"/><circle cx="91.7" cy="134.1"/><circle cx="119.4" cy="72.0"/><circle cx="116.4" cy="94.2"/><circle cx="129.4" cy="127.7"/><circle cx="156.6" cy="133.1"/><circle cx="110.5" cy="86.7"/><circle cx="130.8" cy="88.5"/><circle cx="105.3" cy="130.5"/><circle cx="102.1" cy="89.3"/><circle cx="127.7" cy="131.6"/><circle cx="103.7" cy="136.3"/><circle cx="111.2" cy="86.7"/><circle cx="87.1" cy="131.9" class="o"/><circle cx="65.4" cy="127.0"/><circle cx="91.2" cy="97.8"/><circle cx="96.7" cy="91.4" class="o"/><circle cx="75.3" cy="107.0" class="o"/><circle cx="107.8" cy="128.7"/><circle cx="120.4" cy="85.5"/><circle cx="139.3" cy="123.7"/><circle cx="81.8" cy="128.5"/><circle cx="146.6" cy="128.6"/><circle cx="121.2" cy="133.8"/><circle cx="143.7" cy="131.8"/><circle cx="95.7" cy="131.3"/><circle cx="126.4" cy="121.0"/><circle cx="73.7" cy="115.3"/><circle cx="85.5" cy="133.5" class="o"/><circle cx="141.2" cy="135.1"/><circle cx="101.5" cy="132.3"/><circle cx="78.4" cy="114.1"/><circle cx="140.2" cy="113.7"/><circle cx="136.5" cy="113.4"/><circle cx="145.7" cy="134.9"/><circle cx="79.6" cy="91.4" class="o"/><circle cx="93.0" cy="46.4"/><circle cx="130.3" cy="130.5"/><circle cx="98.4" cy="134.7"/><circle cx="134.7" cy="135.3"/><circle cx="86.9" cy="127.1"/><circle cx="77.2" cy="89.6"/><circle cx="129.1" cy="129.9"/><circle cx="126.2" cy="123.5" class="o"/><circle cx="125.6" cy="130.5"/><circle cx="155.8" cy="126.0"/><circle cx="154.6" cy="123.4"/><circle cx="98.9" cy="112.5"/><circle cx="93.4" cy="85.7"/><circle cx="126.1" cy="133.0"/><circle cx="122.2" cy="71.6"/><circle cx="92.2" cy="138.2"/><circle cx="101.5" cy="130.3" class="o"/><circle cx="73.7" cy="132.4"/><circle cx="135.7" cy="129.2"/><circle cx="114.7" cy="118.3"/><circle cx="126.8" cy="128.5"/><circle cx="100.0" cy="127.7"/><circle cx="127.4" cy="88.3"/><circle cx="88.3" cy="59.5"/><circle cx="82.5" cy="108.0"/><circle cx="145.0" cy="107.1"/><circle cx="74.0" cy="123.4"/><circle cx="129.3" cy="83.2"/><circle cx="88.4" cy="131.8"/><circle cx="77.4" cy="125.3"/><circle cx="122.6" cy="100.5"/><circle cx="98.3" cy="81.0"/><circle cx="112.1" cy="103.3"/><circle cx="121.9" cy="94.7"/><circle cx="110.9" cy="92.8"/><circle cx="136.6" cy="129.7"/><circle cx="94.1" cy="135.9"/><circle cx="65.8" cy="129.1"/><circle cx="142.6" cy="130.3"/><circle cx="97.7" cy="127.9"/><circle cx="117.0" cy="128.6"/><circle cx="83.4" cy="132.1"/><circle cx="142.2" cy="95.3"/><circle cx="93.9" cy="131.1"/><circle cx="139.5" cy="68.5"/><circle cx="121.4" cy="125.2"/><circle cx="119.1" cy="130.4"/><circle cx="131.4" cy="137.1"/><circle cx="67.6" cy="135.5"/><circle cx="133.2" cy="134.1"/><circle cx="80.1" cy="59.3"/><circle cx="146.8" cy="127.3"/><circle cx="102.6" cy="132.8"/><circle cx="109.0" cy="87.6"/><circle cx="143.1" cy="133.5"/><circle cx="124.4" cy="101.1"/><circle cx="158.3" cy="136.5"/><circle cx="70.3" cy="104.2"/><circle cx="66.1" cy="129.8"/><circle cx="130.8" cy="133.6"/><circle cx="106.8" cy="138.4"/><circle cx="127.7" cy="85.4"/><circle cx="65.4" cy="130.1"/><circle cx="168.8" cy="129.6"/><circle cx="160.6" cy="124.5"/><circle cx="102.1" cy="93.9"/><circle cx="114.8" cy="114.3"/><circle cx="127.5" cy="131.6"/><circle cx="93.1" cy="125.9"/><circle cx="131.6" cy="92.2"/><circle cx="128.4" cy="126.1"/><circle cx="134.4" cy="134.8"/><circle cx="147.9" cy="96.2"/><circle cx="108.9" cy="128.3"/><circle cx="147.2" cy="97.3"/><circle cx="76.2" cy="127.8"/><circle cx="123.8" cy="124.4"/><circle cx="81.1" cy="99.4"/><circle cx="82.0" cy="139.7" class="o"/><circle cx="158.9" cy="121.0"/><circle cx="127.0" cy="123.3"/><circle cx="80.8" cy="134.0"/><circle cx="71.9" cy="128.8" class="o"/><circle cx="132.0" cy="129.1"/><circle cx="102.8" cy="112.9"/><circle cx="152.0" cy="112.7"/><circle cx="127.6" cy="132.5"/><circle cx="91.4" cy="114.8"/><circle cx="99.6" cy="135.2"/><circle cx="138.2" cy="110.9"/><circle cx="159.3" cy="97.7"/><circle cx="118.4" cy="114.0"/><circle cx="93.3" cy="127.7" class="o"/><circle cx="147.5" cy="97.7"/><circle cx="109.8" cy="96.5"/><circle cx="85.0" cy="128.2"/><circle cx="120.6" cy="131.9"/><circle cx="75.1" cy="107.0"/><circle cx="133.0" cy="122.2"/><circle cx="116.7" cy="110.1"/><circle cx="74.7" cy="97.9"/><circle cx="134.2" cy="134.9"/><circle cx="81.7" cy="136.1"/><circle cx="97.5" cy="133.9"/><circle cx="140.6" cy="104.0"/><circle cx="117.2" cy="101.1"/><circle cx="138.0" cy="127.8"/><circle cx="107.8" cy="127.9"/><circle cx="102.7" cy="128.2"/><circle cx="97.5" cy="130.6"/><circle cx="128.8" cy="133.7"/><circle cx="86.8" cy="103.3"/><circle cx="96.2" cy="82.2"/><circle cx="112.5" cy="138.4"/><circle cx="109.0" cy="88.5" class="o"/><circle cx="118.8" cy="131.2"/><circle cx="104.4" cy="122.9"/><circle cx="143.7" cy="80.2"/><circle cx="89.3" cy="128.9"/><circle cx="111.9" cy="136.8"/><circle cx="104.8" cy="132.9"/><circle cx="116.6" cy="126.2"/><circle cx="133.4" cy="102.3"/><circle cx="98.1" cy="95.6"/><circle cx="135.8" cy="115.8"/><circle cx="163.5" cy="128.8"/><circle cx="105.4" cy="113.4"/><circle cx="140.5" cy="94.6" class="o"/><circle cx="123.9" cy="127.6" class="o"/><circle cx="147.8" cy="129.5"/><circle cx="111.8" cy="109.3"/><circle cx="100.1" cy="116.7"/><circle cx="115.0" cy="107.9"/><circle cx="75.5" cy="126.7" class="o"/><circle cx="110.0" cy="89.8"/><circle cx="114.5" cy="85.4"/><circle cx="106.6" cy="115.9"/><circle cx="85.8" cy="132.3"/><circle cx="117.3" cy="90.0"/><circle cx="90.0" cy="127.8"/><circle cx="113.0" cy="129.0"/><circle cx="146.0" cy="129.1"/><circle cx="67.9" cy="127.3"/><circle cx="108.4" cy="110.0"/><circle cx="114.1" cy="88.4" class="o"/><circle cx="98.6" cy="119.9"/><circle cx="108.9" cy="133.1"/><circle cx="119.5" cy="60.4"/><circle cx="83.1" cy="135.6"/><circle cx="124.1" cy="132.9"/><circle cx="118.4" cy="137.5"/><circle cx="81.4" cy="125.2"/><circle cx="156.7" cy="134.1"/><circle cx="65.5" cy="131.3" class="o"/><circle cx="96.4" cy="97.1"/><circle cx="138.6" cy="123.7"/><circle cx="125.7" cy="128.9"/><circle cx="75.1" cy="128.3"/><circle cx="81.5" cy="129.6" class="o"/><circle cx="124.8" cy="93.7"/><circle cx="69.4" cy="126.3"/><circle cx="88.5" cy="91.9"/><circle cx="78.0" cy="126.4"/><circle cx="99.1" cy="130.2"/><circle cx="122.5" cy="128.3"/><circle cx="90.2" cy="129.5"/><circle cx="97.0" cy="92.1"/><circle cx="160.2" cy="90.7"/><circle cx="100.7" cy="67.0"/><circle cx="83.1" cy="128.0"/><circle cx="74.9" cy="128.7"/><circle cx="125.4" cy="121.8"/><circle cx="74.0" cy="129.5"/><circle cx="171.3" cy="130.1"/><circle cx="134.0" cy="83.6"/><circle cx="117.2" cy="127.4"/><circle cx="110.2" cy="123.2"/><circle cx="207.2" cy="129.5"/><circle cx="82.5" cy="130.2" class="o"/><circle cx="86.7" cy="132.2"/><circle cx="129.4" cy="88.1"/><circle cx="105.1" cy="94.2"/><circle cx="99.7" cy="124.7"/><circle cx="164.9" cy="133.7"/><circle cx="92.4" cy="131.7"/><circle cx="99.5" cy="131.9"/><circle cx="124.7" cy="71.7"/><circle cx="128.8" cy="133.4"/><circle cx="99.3" cy="125.8"/><circle cx="145.2" cy="98.3"/><circle cx="123.8" cy="126.1"/><circle cx="168.1" cy="138.3"/><circle cx="158.7" cy="122.8"/><circle cx="92.1" cy="128.2"/><circle cx="154.1" cy="97.1"/><circle cx="158.7" cy="128.4"/><circle cx="78.3" cy="106.2"/><circle cx="114.6" cy="84.9"/><circle cx="117.8" cy="128.5"/><circle cx="134.2" cy="134.9"/><circle cx="92.8" cy="55.4"/><circle cx="100.5" cy="116.6"/><circle cx="114.5" cy="131.0"/><circle cx="121.8" cy="134.0"/><circle cx="109.5" cy="127.1"/><circle cx="127.8" cy="96.2"/><circle cx="85.3" cy="123.5"/><circle cx="142.4" cy="130.1"/><circle cx="140.2" cy="137.2"/><circle cx="121.0" cy="93.0"/><circle cx="134.7" cy="94.1"/><circle cx="118.9" cy="128.3"/><circle cx="144.0" cy="85.5"/><circle cx="74.9" cy="130.3"/><circle cx="73.0" cy="95.3"/><circle cx="140.1" cy="103.6"/><circle cx="76.8" cy="134.7" class="o"/><circle cx="125.9" cy="13.9"/><circle cx="104.2" cy="130.2"/><circle cx="94.2" cy="136.4"/><circle cx="86.3" cy="133.7"/><circle cx="165.1" cy="129.4"/><circle cx="74.6" cy="124.3"/><circle cx="136.1" cy="133.3" class="o"/><circle cx="149.0" cy="132.0"/><circle cx="91.1" cy="75.1"/><circle cx="107.5" cy="128.2"/><circle cx="99.9" cy="129.4"/><circle cx="89.4" cy="97.1" class="o"/><circle cx="122.6" cy="123.7"/><circle cx="95.6" cy="123.3"/><circle cx="74.0" cy="134.4"/><circle cx="97.1" cy="126.8"/><circle cx="106.7" cy="131.7"/><circle cx="131.9" cy="124.4"/><circle cx="98.0" cy="122.0"/><circle cx="135.2" cy="130.4"/><circle cx="107.5" cy="131.8"/><circle cx="149.2" cy="129.0"/><circle cx="113.1" cy="130.6"/><circle cx="82.7" cy="95.1"/><circle cx="112.4" cy="115.0"/><circle cx="97.0" cy="131.1"/><circle cx="141.6" cy="127.5"/><circle cx="131.6" cy="99.1"/><circle cx="93.7" cy="129.9"/><circle cx="103.7" cy="132.2"/><circle cx="132.7" cy="137.1"/><circle cx="108.0" cy="134.3"/><circle cx="89.8" cy="131.6"/><circle cx="121.5" cy="133.9"/><circle cx="131.2" cy="130.3"/><circle cx="138.2" cy="73.4"/><circle cx="82.9" cy="127.8"/><circle cx="98.0" cy="122.0"/><circle cx="142.5" cy="127.9"/><circle cx="133.5" cy="128.6"/><circle cx="69.4" cy="110.1"/><circle cx="117.6" cy="132.1"/><circle cx="140.8" cy="122.2"/><circle cx="139.6" cy="131.5"/><circle cx="132.6" cy="130.6" class="o"/><circle cx="102.7" cy="134.5"/><circle cx="136.8" cy="134.0" class="o"/><circle cx="74.3" cy="137.1"/><circle cx="99.7" cy="71.3"/><circle cx="108.4" cy="113.7"/><circle cx="89.0" cy="87.0"/><circle cx="125.9" cy="85.7"/><circle cx="121.6" cy="132.6"/><circle cx="100.2" cy="126.6" class="o"/><circle cx="137.2" cy="78.9"/><circle cx="117.8" cy="111.4"/><circle cx="70.2" cy="127.2" class="o"/><circle cx="109.5" cy="130.6" class="o"/><circle cx="108.9" cy="132.0"/><circle cx="109.0" cy="133.2" class="o"/><circle cx="132.9" cy="44.8"/><circle cx="137.0" cy="132.6"/><circle cx="65.5" cy="121.6"/><circle cx="95.5" cy="72.0"/><circle cx="124.2" cy="68.5"/><circle cx="113.3" cy="121.2"/><circle cx="98.6" cy="93.0"/><circle cx="145.0" cy="126.4"/><circle cx="111.0" cy="93.7"/><circle cx="135.4" cy="122.5"/><circle cx="143.9" cy="96.2"/><circle cx="69.8" cy="121.7"/><circle cx="107.9" cy="90.9"/><circle cx="112.3" cy="120.0"/><circle cx="133.1" cy="83.5"/><circle cx="64.0" cy="131.9"/><circle cx="92.1" cy="130.3"/><circle cx="83.0" cy="90.8"/><circle cx="114.4" cy="130.1"/><circle cx="114.4" cy="137.2"/><circle cx="137.6" cy="89.7"/><circle cx="84.3" cy="124.6"/><circle cx="139.1" cy="136.6"/><circle cx="159.2" cy="122.2"/><circle cx="117.3" cy="106.7"/><circle cx="119.8" cy="130.4"/><circle cx="109.7" cy="131.3"/><circle cx="114.1" cy="126.2"/><circle cx="116.3" cy="132.0"/><circle cx="106.3" cy="88.3"/><circle cx="111.3" cy="78.6"/><circle cx="127.5" cy="35.7"/><circle cx="100.8" cy="132.9"/><circle cx="133.0" cy="129.5"/><circle cx="118.2" cy="86.0"/><circle cx="145.1" cy="131.9"/><circle cx="65.9" cy="127.1"/><circle cx="130.3" cy="126.3" class="o"/><circle cx="104.4" cy="138.6"/><circle cx="164.1" cy="125.4"/><circle cx="110.4" cy="84.4"/><circle cx="124.0" cy="111.9"/><circle cx="131.1" cy="127.5"/><circle cx="83.9" cy="84.3"/><circle cx="143.2" cy="91.2"/><circle cx="123.6" cy="84.2"/><circle cx="120.7" cy="91.8"/><circle cx="97.7" cy="120.0"/><circle cx="156.6" cy="123.5"/><circle cx="82.5" cy="131.9"/><circle cx="103.3" cy="134.3"/><circle cx="113.5" cy="135.0"/><circle cx="186.8" cy="131.2"/><circle cx="144.0" cy="128.4"/><circle cx="119.7" cy="84.8"/><circle cx="153.3" cy="121.7"/><circle cx="140.0" cy="72.5"/><circle cx="89.2" cy="94.5"/><circle cx="125.8" cy="72.7"/><circle cx="166.5" cy="124.5"/><circle cx="145.6" cy="97.4"/><circle cx="95.6" cy="130.5"/><circle cx="159.9" cy="132.5"/><circle cx="113.2" cy="117.7"/><circle cx="104.5" cy="93.8"/><circle cx="129.8" cy="132.4"/><circle cx="92.1" cy="131.5"/><circle cx="107.0" cy="130.6"/><circle cx="130.0" cy="135.1"/><circle cx="83.8" cy="135.4"/><circle cx="111.3" cy="110.4"/><circle cx="101.0" cy="130.3" class="o"/><circle cx="100.5" cy="106.7"/><circle cx="119.0" cy="132.1"/><circle cx="129.5" cy="71.5"/><circle cx="85.5" cy="130.5"/><circle cx="109.7" cy="129.0"/><circle cx="85.3" cy="99.5"/><circle cx="104.8" cy="126.3"/><circle cx="91.1" cy="131.8" class="o"/><circle cx="79.2" cy="81.2"/><circle cx="74.5" cy="133.3"/><circle cx="67.2" cy="132.7"/><circle cx="67.9" cy="132.5"/><circle cx="69.7" cy="124.8" class="o"/><circle cx="103.2" cy="52.8"/><circle cx="120.8" cy="82.1"/><circle cx="134.1" cy="128.2"/><circle cx="105.3" cy="101.0"/><circle cx="87.8" cy="129.8" class="o"/><circle cx="72.0" cy="108.8"/><circle cx="146.8" cy="101.0"/><circle cx="107.3" cy="115.7"/><circle cx="123.8" cy="139.1"/><circle cx="134.7" cy="129.3"/><circle cx="84.4" cy="128.5"/><circle cx="111.6" cy="128.9"/><circle cx="163.7" cy="128.2"/><circle cx="105.8" cy="123.3"/><circle cx="105.0" cy="135.8"/><circle cx="164.3" cy="134.4"/><circle cx="88.0" cy="133.5"/><circle cx="124.5" cy="129.3" class="o"/><circle cx="99.6" cy="98.8"/><circle cx="117.8" cy="104.2"/><circle cx="107.4" cy="123.0"/><circle cx="163.7" cy="132.2"/><circle cx="118.9" cy="134.8"/><circle cx="92.0" cy="97.2" class="o"/><circle cx="126.8" cy="130.3"/><circle cx="125.6" cy="138.1"/><circle cx="125.1" cy="133.9"/><circle cx="107.9" cy="115.8"/><circle cx="151.9" cy="130.0"/><circle cx="118.7" cy="132.2"/><circle cx="87.2" cy="132.0" class="o"/><circle cx="102.6" cy="103.9"/><circle cx="136.9" cy="128.7"/><circle cx="153.9" cy="104.5"/><circle cx="121.6" cy="85.8"/><circle cx="130.9" cy="129.7"/><circle cx="108.7" cy="83.4"/><circle cx="85.6" cy="134.9"/><circle cx="115.9" cy="137.2"/><circle cx="74.7" cy="125.5"/><circle cx="75.3" cy="131.6"/><circle cx="129.0" cy="135.5" class="o"/><circle cx="107.9" cy="130.3"/><circle cx="147.7" cy="131.3"/><circle cx="96.6" cy="131.8" class="o"/><circle cx="133.0" cy="133.3"/><circle cx="129.0" cy="127.1"/><circle cx="105.3" cy="127.1"/><circle cx="108.2" cy="51.8"/><circle cx="114.3" cy="92.9"/><circle cx="131.0" cy="120.8"/><circle cx="72.0" cy="131.0"/><circle cx="70.0" cy="109.9" class="o"/><circle cx="153.3" cy="131.9"/><circle cx="109.2" cy="132.4"/><circle cx="166.2" cy="108.2"/><circle cx="122.8" cy="133.3"/><circle cx="116.3" cy="127.8"/><circle cx="113.0" cy="130.7"/><circle cx="161.7" cy="131.8"/><circle cx="92.1" cy="129.4"/><circle cx="91.0" cy="127.0"/><circle cx="84.9" cy="130.4"/><circle cx="100.4" cy="63.0"/><circle cx="103.5" cy="128.4"/><circle cx="125.3" cy="81.8"/><circle cx="91.4" cy="100.0"/><circle cx="87.0" cy="128.1"/><circle cx="106.9" cy="128.2"/><circle cx="66.7" cy="114.1"/><circle cx="66.1" cy="116.0"/><circle cx="131.3" cy="126.7"/><circle cx="130.1" cy="132.7"/><circle cx="108.4" cy="79.9"/><circle cx="148.9" cy="132.8"/><circle cx="126.2" cy="116.4"/><circle cx="87.8" cy="131.7"/><circle cx="75.5" cy="131.3"/><circle cx="78.8" cy="94.8" class="o"/><circle cx="118.2" cy="132.1"/><circle cx="92.5" cy="124.0"/><circle cx="139.7" cy="81.6"/><circle cx="81.2" cy="135.4"/><circle cx="123.1" cy="130.3"/><circle cx="100.0" cy="127.5"/><circle cx="92.5" cy="97.2"/><circle cx="98.9" cy="117.6"/><circle cx="106.4" cy="86.4"/><circle cx="98.2" cy="127.7"/><circle cx="171.4" cy="130.7"/><circle cx="124.8" cy="99.7"/><circle cx="79.5" cy="136.8"/><circle cx="118.2" cy="126.2"/><circle cx="142.8" cy="90.5"/><circle cx="91.2" cy="134.1"/><circle cx="119.5" cy="102.8"/><circle cx="136.5" cy="78.8"/><circle cx="111.3" cy="126.6"/><circle cx="138.6" cy="110.5"/><circle cx="145.9" cy="131.8"/><circle cx="121.2" cy="91.3"/><circle cx="106.8" cy="112.6"/><circle cx="112.1" cy="122.6"/><circle cx="90.0" cy="136.1"/><circle cx="120.1" cy="138.5"/><circle cx="92.2" cy="105.5"/><circle cx="133.8" cy="129.5"/><circle cx="95.4" cy="96.0"/><circle cx="112.0" cy="131.7"/><circle cx="168.7" cy="126.8"/><circle cx="136.9" cy="125.4"/><circle cx="90.8" cy="94.0"/><circle cx="118.6" cy="130.5" class="o"/><circle cx="117.4" cy="125.2"/><circle cx="104.2" cy="101.9"/><circle cx="112.7" cy="129.2"/><circle cx="134.7" cy="61.2"/><circle cx="104.4" cy="96.1"/><circle cx="147.2" cy="62.4"/><circle cx="124.6" cy="96.5"/><circle cx="88.6" cy="131.3"/><circle cx="79.5" cy="133.6"/><circle cx="80.0" cy="111.7" class="o"/><circle cx="102.7" cy="113.4"/><circle cx="89.1" cy="125.3"/><circle cx="126.0" cy="127.5"/><circle cx="74.6" cy="96.6"/><circle cx="163.2" cy="133.2"/><circle cx="131.4" cy="126.7"/><circle cx="110.2" cy="96.6"/><circle cx="90.6" cy="113.6"/><circle cx="126.4" cy="132.5"/><circle cx="71.4" cy="135.8"/><circle cx="80.9" cy="86.4"/><circle cx="125.1" cy="66.7"/><circle cx="121.8" cy="77.7"/><circle cx="103.2" cy="78.4"/><circle cx="93.9" cy="126.0"/><circle cx="121.8" cy="132.0"/><circle cx="149.4" cy="133.8"/><circle cx="80.4" cy="88.0"/><circle cx="108.6" cy="111.5"/><circle cx="79.4" cy="138.0" class="o"/><circle cx="109.2" cy="129.2"/><circle cx="105.7" cy="132.0"/><circle cx="83.3" cy="82.1"/><circle cx="97.8" cy="112.2"/><circle cx="85.1" cy="109.9"/><circle cx="100.9" cy="101.7"/><circle cx="99.5" cy="66.1"/><circle cx="125.5" cy="135.2"/><circle cx="96.5" cy="130.7"/><circle cx="102.5" cy="129.8"/><circle cx="145.7" cy="88.7"/><circle cx="91.9" cy="100.3"/><circle cx="121.8" cy="135.9"/><circle cx="107.5" cy="131.3"/><circle cx="127.1" cy="125.4"/><circle cx="80.3" cy="131.4"/><circle cx="198.5" cy="134.4"/><circle cx="86.1" cy="109.1" class="o"/><circle cx="130.9" cy="127.3"/><circle cx="86.4" cy="109.6"/><circle cx="151.3" cy="130.2"/><circle cx="108.7" cy="132.9"/><circle cx="90.2" cy="91.8"/><circle cx="138.9" cy="133.0"/><circle cx="84.0" cy="130.0"/><circle cx="93.5" cy="83.2" class="o"/><circle cx="67.2" cy="105.6"/><circle cx="83.0" cy="135.9"/><circle cx="151.4" cy="54.4"/><circle cx="93.9" cy="138.0"/><circle cx="104.3" cy="130.6"/><circle cx="128.6" cy="91.5"/><circle cx="77.3" cy="126.1"/><circle cx="170.6" cy="135.9"/><circle cx="110.0" cy="128.3"/><circle cx="85.4" cy="109.8" class="o"/><circle cx="138.7" cy="127.4"/><circle cx="165.3" cy="128.5"/><circle cx="107.1" cy="67.3"/><circle cx="133.3" cy="138.2" class="o"/><circle cx="104.1" cy="97.4"/><circle cx="99.6" cy="124.0"/><circle cx="80.3" cy="124.1"/><circle cx="100.0" cy="101.7"/><circle cx="141.8" cy="88.6"/><circle cx="74.0" cy="129.6"/><circle cx="80.5" cy="60.6" class="o"/><circle cx="129.9" cy="128.4"/><circle cx="148.2" cy="125.6"/><circle cx="158.6" cy="130.6"/><circle cx="189.7" cy="128.7"/><circle cx="119.1" cy="129.4" class="o"/><circle cx="97.0" cy="132.1"/><circle cx="109.2" cy="95.2" class="o"/><circle cx="167.3" cy="127.5"/><circle cx="124.8" cy="46.4"/><circle cx="65.8" cy="128.4"/><circle cx="92.1" cy="97.4"/><circle cx="150.4" cy="88.1"/><circle cx="94.5" cy="112.1" class="o"/><circle cx="81.6" cy="127.4"/><circle cx="128.0" cy="130.8"/><circle cx="103.9" cy="137.2"/><circle cx="82.8" cy="133.4"/><circle cx="91.3" cy="129.9"/><circle cx="120.2" cy="89.2"/><circle cx="141.9" cy="131.5"/><circle cx="100.6" cy="130.4"/><circle cx="96.5" cy="137.4"/><circle cx="149.3" cy="133.6"/><circle cx="79.3" cy="81.8"/><circle cx="113.5" cy="102.5" class="o"/><circle cx="94.9" cy="122.7"/><circle cx="132.9" cy="127.9"/><circle cx="101.1" cy="78.3"/><circle cx="102.2" cy="125.4"/><circle cx="157.9" cy="134.9"/><circle cx="101.3" cy="128.6" class="o"/><circle cx="96.8" cy="129.5"/><circle cx="153.0" cy="96.5"/><circle cx="151.3" cy="129.8"/><circle cx="84.0" cy="80.6"/><circle cx="87.8" cy="99.1" class="o"/><circle cx="114.3" cy="127.6"/><circle cx="81.4" cy="111.0" class="o"/><circle cx="79.0" cy="131.4"/><circle cx="133.4" cy="133.6"/><circle cx="76.5" cy="95.8"/><circle cx="128.9" cy="130.8"/><circle cx="92.0" cy="130.5"/><circle cx="110.6" cy="129.8"/><circle cx="96.6" cy="125.8"/><circle cx="112.5" cy="67.5"/><circle cx="107.5" cy="136.4"/><circle cx="93.7" cy="135.9"/><circle cx="124.8" cy="110.8"/><circle cx="86.6" cy="127.1"/><circle cx="94.4" cy="129.1"/><circle cx="88.1" cy="129.7"/><circle cx="105.1" cy="92.9"/><circle cx="120.7" cy="9.8"/><circle cx="92.8" cy="83.4"/><circle cx="97.4" cy="131.4"/><circle cx="90.7" cy="98.2"/><circle cx="99.1" cy="50.7"/><circle cx="86.7" cy="131.7"/><circle cx="131.8" cy="126.3"/><circle cx="119.9" cy="119.1"/><circle cx="125.8" cy="110.9"/><circle cx="120.6" cy="106.1"/><circle cx="66.6" cy="117.4" class="o"/><circle cx="143.2" cy="129.3"/><circle cx="136.2" cy="96.1"/><circle cx="139.8" cy="124.8"/><circle cx="122.6" cy="129.1"/><circle cx="76.6" cy="99.4"/><circle cx="82.8" cy="115.5"/><circle cx="139.8" cy="96.7"/><circle cx="97.4" cy="100.5"/><circle cx="94.8" cy="136.0"/><circle cx="135.2" cy="91.5"/><circle cx="130.0" cy="80.0"/><circle cx="81.6" cy="130.1"/><circle cx="108.7" cy="134.4"/><circle cx="140.4" cy="137.7" class="o"/><circle cx="125.9" cy="74.7"/><circle cx="155.0" cy="109.4"/><circle cx="132.7" cy="122.7"/><circle cx="104.5" cy="121.3"/><circle cx="97.7" cy="134.3" class="o"/><circle cx="73.3" cy="132.9"/><circle cx="148.4" cy="128.9"/><circle cx="66.5" cy="134.8"/><circle cx="74.0" cy="138.2"/><circle cx="92.0" cy="108.1"/><circle cx="145.4" cy="125.6"/><circle cx="122.5" cy="90.8"/><circle cx="75.5" cy="128.1"/><circle cx="132.3" cy="132.7"/><circle cx="111.9" cy="131.0"/><circle cx="76.5" cy="85.4"/><circle cx="101.9" cy="135.5"/><circle cx="72.2" cy="99.6" class="o"/><circle cx="162.3" cy="135.4"/><circle cx="98.7" cy="96.0"/><circle cx="106.1" cy="75.1"/><circle cx="129.4" cy="128.2"/><circle cx="120.3" cy="130.4"/><circle cx="117.6" cy="126.1"/><circle cx="100.6" cy="136.9"/><circle cx="107.3" cy="127.8"/><circle cx="101.6" cy="71.0"/><circle cx="120.7" cy="134.5" class="o"/><circle cx="69.6" cy="129.1"/><circle cx="115.9" cy="127.2"/><circle cx="141.2" cy="82.8"/><circle cx="106.3" cy="135.6"/><circle cx="79.3" cy="93.4" class="o"/><circle cx="78.6" cy="129.2"/><circle cx="103.9" cy="88.6"/><circle cx="136.2" cy="118.6"/><circle cx="101.9" cy="127.0"/><circle cx="146.2" cy="95.7"/><circle cx="100.6" cy="135.6" class="o"/><circle cx="141.8" cy="135.6"/><circle cx="86.0" cy="125.2"/><circle cx="72.6" cy="110.1"/><circle cx="113.4" cy="134.0"/><circle cx="143.7" cy="116.7"/><circle cx="85.0" cy="93.9" class="o"/><circle cx="141.6" cy="125.7"/><circle cx="104.4" cy="94.2"/><circle cx="104.5" cy="82.8"/><circle cx="75.6" cy="128.3"/><circle cx="78.1" cy="102.1"/><circle cx="159.8" cy="133.0"/><circle cx="98.7" cy="128.2"/><circle cx="147.7" cy="113.4"/><circle cx="82.3" cy="123.5"/><circle cx="78.9" cy="130.3"/><circle cx="119.9" cy="131.6"/><circle cx="72.0" cy="130.5" class="o"/><circle cx="113.9" cy="134.0"/><circle cx="100.7" cy="95.0"/><circle cx="96.3" cy="93.8"/><circle cx="79.1" cy="82.0"/><circle cx="68.8" cy="135.1"/><circle cx="139.4" cy="130.4"/><circle cx="109.9" cy="129.5"/><circle cx="110.3" cy="110.4"/><circle cx="119.4" cy="92.1"/><circle cx="155.6" cy="120.3"/><circle cx="103.7" cy="131.0"/><circle cx="111.7" cy="116.1"/><circle cx="86.9" cy="117.5"/><circle cx="83.9" cy="132.4" class="o"/><circle cx="149.3" cy="95.9"/><circle cx="126.8" cy="63.7"/><circle cx="77.7" cy="114.5"/><circle cx="129.5" cy="98.9"/><circle cx="124.9" cy="55.9"/><circle cx="91.3" cy="135.2"/><circle cx="138.8" cy="105.5"/><circle cx="95.8" cy="131.3"/><circle cx="129.8" cy="129.7"/><circle cx="83.0" cy="139.0"/><circle cx="145.5" cy="94.6"/><circle cx="102.6" cy="131.3"/><circle cx="153.0" cy="86.9"/><circle cx="159.3" cy="129.9"/><circle cx="114.5" cy="127.4"/><circle cx="131.2" cy="132.2"/><circle cx="121.6" cy="112.8"/><circle cx="137.0" cy="130.7"/><circle cx="120.5" cy="29.6" class="o"/><circle cx="94.6" cy="81.0"/><circle cx="116.7" cy="88.7"/><circle cx="143.7" cy="130.0"/><circle cx="133.0" cy="97.8"/><circle cx="86.9" cy="110.7"/><circle cx="138.3" cy="132.8"/><circle cx="107.5" cy="81.3"/><circle cx="120.1" cy="112.2"/><circle cx="83.9" cy="117.8"/><circle cx="115.0" cy="134.6"/><circle cx="115.5" cy="127.4"/><circle cx="113.3" cy="137.9"/><circle cx="70.9" cy="118.3" class="o"/><circle cx="100.4" cy="131.6"/><circle cx="140.4" cy="66.3"/><circle cx="85.0" cy="133.9" class="o"/><circle cx="138.3" cy="124.7"/><circle cx="116.9" cy="99.8"/><circle cx="85.2" cy="84.4"/><circle cx="108.9" cy="109.1"/><circle cx="160.5" cy="132.8"/><circle cx="66.0" cy="132.5"/><circle cx="90.9" cy="136.3"/><circle cx="115.5" cy="133.5"/><circle cx="88.0" cy="135.6"/><circle cx="84.7" cy="137.2"/><circle cx="128.7" cy="100.2"/><circle cx="130.0" cy="26.8"/><circle cx="100.3" cy="138.0"/><circle cx="78.9" cy="134.0"/><circle cx="141.1" cy="92.1" class="o"/><circle cx="81.9" cy="130.7" class="o"/><circle cx="80.2" cy="120.7"/><circle cx="116.6" cy="123.0"/><circle cx="87.8" cy="136.2"/><circle cx="80.6" cy="67.4"/><circle cx="98.9" cy="122.0"/><circle cx="72.4" cy="113.3"/><circle cx="153.3" cy="132.8"/><circle cx="106.5" cy="123.8"/><circle cx="126.6" cy="126.9"/><circle cx="77.9" cy="93.8"/><circle cx="133.9" cy="132.5"/><circle cx="120.2" cy="126.1"/><circle cx="79.9" cy="133.8"/><circle cx="140.3" cy="124.1"/><circle cx="96.3" cy="129.9"/><circle cx="109.6" cy="126.3"/><circle cx="112.7" cy="98.0"/><circle cx="124.5" cy="126.5"/><circle cx="145.3" cy="131.8"/><circle cx="102.7" cy="137.6"/><circle cx="118.6" cy="106.1"/><circle cx="79.6" cy="135.3"/><circle cx="160.6" cy="121.6"/><circle cx="91.1" cy="130.5"/><circle cx="71.5" cy="129.9" class="o"/><circle cx="115.4" cy="122.6"/><circle cx="120.9" cy="132.7" class="o"/><circle cx="149.4" cy="126.3"/><circle cx="74.0" cy="125.6"/><circle cx="156.7" cy="128.9"/><circle cx="90.7" cy="128.9"/><circle cx="129.5" cy="93.2"/><circle cx="98.3" cy="126.9" class="o"/><circle cx="101.9" cy="132.0"/><circle cx="66.4" cy="130.9"/><circle cx="116.8" cy="73.2"/><circle cx="76.6" cy="92.7"/><circle cx="114.8" cy="130.1"/><circle cx="105.7" cy="130.7"/><circle cx="88.2" cy="92.4"/><circle cx="74.9" cy="124.2"/><circle cx="115.8" cy="89.1" class="o"/><circle cx="71.1" cy="135.3"/><circle cx="106.2" cy="135.0"/><circle cx="102.4" cy="129.9"/><circle cx="89.3" cy="112.5"/><circle cx="85.9" cy="126.7"/><circle cx="84.9" cy="122.1"/><circle cx="147.1" cy="135.9"/><circle cx="151.7" cy="131.8"/><circle cx="80.9" cy="107.7"/><circle cx="120.3" cy="127.2"/><circle cx="115.2" cy="127.6"/><circle cx="98.4" cy="34.1"/><circle cx="200.7" cy="124.3" class="o"/><circle cx="124.5" cy="128.2"/><circle cx="103.3" cy="125.3"/><circle cx="139.3" cy="110.1"/><circle cx="109.4" cy="93.8"/><circle cx="93.0" cy="136.3" class="o"/><circle cx="125.9" cy="136.0"/><circle cx="109.8" cy="106.6"/><circle cx="91.6" cy="128.7"/><circle cx="92.0" cy="128.9"/><circle cx="125.8" cy="69.2"/><circle cx="81.7" cy="126.5"/><circle cx="129.6" cy="129.9"/><circle cx="132.5" cy="136.9"/><circle cx="117.4" cy="128.4"/><circle cx="96.1" cy="110.1"/><circle cx="119.6" cy="105.8"/><circle cx="104.8" cy="79.1"/><circle cx="76.5" cy="130.1" class="o"/><circle cx="85.8" cy="135.4" class="o"/><circle cx="87.0" cy="126.4" class="o"/><circle cx="115.2" cy="119.2"/><circle cx="102.3" cy="77.6" class="o"/><circle cx="99.0" cy="86.5"/><circle cx="98.9" cy="132.8"/><circle cx="99.7" cy="34.8"/><circle cx="141.5" cy="126.6"/><circle cx="121.6" cy="93.1"/><circle cx="147.5" cy="131.0"/><circle cx="123.5" cy="85.6"/><circle cx="109.7" cy="130.9"/><circle cx="123.4" cy="135.4"/><circle cx="143.7" cy="130.8"/><circle cx="105.3" cy="132.7"/><circle cx="67.8" cy="129.9"/><circle cx="116.6" cy="131.1"/><circle cx="154.9" cy="133.3"/><circle cx="138.9" cy="128.2"/><circle cx="131.7" cy="127.9"/><circle cx="105.0" cy="134.4"/><circle cx="135.4" cy="123.4"/><circle cx="139.8" cy="130.3"/><circle cx="113.5" cy="116.1"/><circle cx="105.4" cy="129.7"/><circle cx="72.8" cy="91.5"/><circle cx="103.3" cy="129.6"/><circle cx="108.5" cy="126.6"/><circle cx="130.3" cy="102.7"/><circle cx="123.0" cy="132.9"/><circle cx="110.9" cy="127.6"/><circle cx="120.4" cy="133.0"/><circle cx="90.6" cy="93.6"/><circle cx="117.0" cy="130.2"/><circle cx="125.8" cy="68.5"/><circle cx="121.4" cy="134.5"/><circle cx="67.1" cy="129.9" class="o"/><circle cx="102.7" cy="135.2"/><circle cx="117.1" cy="124.2"/><circle cx="92.4" cy="133.8"/><circle cx="82.6" cy="93.9"/><circle cx="132.3" cy="139.1"/><circle cx="104.4" cy="130.0"/><circle cx="120.2" cy="126.9"/><circle cx="134.7" cy="111.7"/><circle cx="112.9" cy="89.0"/><circle cx="140.8" cy="96.4"/><circle cx="69.1" cy="111.2"/><circle cx="82.4" cy="118.8"/><circle cx="152.1" cy="139.4"/><circle cx="123.5" cy="87.5"/><circle cx="79.5" cy="136.9"/><circle cx="124.0" cy="51.9"/><circle cx="96.8" cy="120.2"/><circle cx="89.4" cy="138.7"/><circle cx="65.7" cy="128.2"/><circle cx="80.8" cy="134.4"/><circle cx="158.8" cy="133.7"/><circle cx="100.9" cy="137.7"/><circle cx="102.0" cy="92.7"/><circle cx="66.4" cy="127.4" class="o"/><circle cx="79.5" cy="130.8"/><circle cx="101.2" cy="113.6"/><circle cx="81.2" cy="93.6"/><circle cx="104.6" cy="95.6"/><circle cx="127.6" cy="93.6"/><circle cx="109.7" cy="67.8"/><circle cx="68.2" cy="128.8"/><circle cx="157.8" cy="136.8"/><circle cx="78.2" cy="94.0" class="o"/><circle cx="121.7" cy="67.1"/><circle cx="118.3" cy="114.5"/><circle cx="121.9" cy="138.0"/><circle cx="78.7" cy="129.1"/><circle cx="104.9" cy="133.7"/><circle cx="87.0" cy="136.4" class="o"/><circle cx="152.2" cy="115.9"/><circle cx="113.8" cy="110.1"/><circle cx="85.3" cy="117.6" class="o"/><circle cx="79.9" cy="117.3"/><circle cx="116.5" cy="107.3"/><circle cx="131.8" cy="82.9"/><circle cx="117.7" cy="127.8"/><circle cx="138.4" cy="129.5"/><circle cx="107.1" cy="128.6"/><circle cx="127.3" cy="129.7"/><circle cx="110.7" cy="136.5"/><circle cx="152.1" cy="88.8"/><circle cx="68.2" cy="101.9"/><circle cx="113.5" cy="87.5" class="o"/><circle cx="113.2" cy="127.5" class="o"/><circle cx="73.6" cy="95.1"/><circle cx="103.0" cy="94.3"/><circle cx="168.4" cy="94.8"/><circle cx="104.4" cy="131.5"/><circle cx="121.1" cy="122.6"/><circle cx="134.9" cy="96.4"/><circle cx="121.7" cy="131.6"/><circle cx="61.5" cy="130.3"/><circle cx="88.9" cy="113.1"/><circle cx="129.3" cy="81.3"/><circle cx="94.0" cy="107.0" class="o"/><circle cx="170.2" cy="53.0"/><circle cx="66.1" cy="114.9"/><circle cx="101.5" cy="127.0" class="o"/><circle cx="87.2" cy="63.3"/><circle cx="102.2" cy="131.5"/><circle cx="87.2" cy="131.2"/><circle cx="121.7" cy="128.4"/><circle cx="124.0" cy="100.8"/><circle cx="98.8" cy="138.4"/><circle cx="148.5" cy="88.8"/><circle cx="131.0" cy="80.0"/><circle cx="126.4" cy="78.7"/><circle cx="97.7" cy="132.2"/><circle cx="115.7" cy="66.7"/><circle cx="83.2" cy="136.7" class="o"/><circle cx="107.1" cy="93.3"/><circle cx="101.9" cy="110.2"/><circle cx="93.0" cy="134.5"/><circle cx="142.7" cy="129.8"/><circle cx="109.1" cy="124.7"/><circle cx="130.2" cy="86.2"/><circle cx="156.7" cy="95.7"/><circle cx="174.3" cy="130.5"/><circle cx="109.4" cy="135.7"/><circle cx="161.2" cy="111.6"/><circle cx="83.5" cy="128.1"/><circle cx="89.5" cy="110.8" class="o"/><circle cx="129.5" cy="100.8" class="o"/><circle cx="73.2" cy="139.9"/><circle cx="148.9" cy="135.6"/><circle cx="142.5" cy="106.6"/><circle cx="96.9" cy="117.6"/><circle cx="163.1" cy="116.5"/><circle cx="109.8" cy="102.6"/><circle cx="91.6" cy="98.8" class="o"/><circle cx="97.1" cy="137.9"/><circle cx="122.2" cy="132.3"/><circle cx="90.4" cy="124.5" class="o"/><circle cx="64.6" cy="136.8"/><circle cx="137.0" cy="138.3"/><circle cx="115.5" cy="89.1"/><circle cx="159.1" cy="133.6"/><circle cx="122.7" cy="92.3"/><circle cx="114.9" cy="138.8"/><circle cx="139.6" cy="91.9"/><circle cx="168.5" cy="127.8"/><circle cx="110.1" cy="131.6"/><circle cx="66.3" cy="131.1"/><circle cx="118.1" cy="79.6"/><circle cx="116.8" cy="90.3"/><circle cx="74.8" cy="136.5"/><circle cx="92.4" cy="128.3" class="o"/><circle cx="98.9" cy="67.3"/><circle cx="68.6" cy="123.4"/><circle cx="157.4" cy="130.7"/><circle cx="162.4" cy="133.9"/><circle cx="147.3" cy="71.1"/><circle cx="124.5" cy="133.9"/><circle cx="91.9" cy="120.4"/><circle cx="129.8" cy="86.4"/><circle cx="105.5" cy="125.1"/><circle cx="70.0" cy="126.1"/><circle cx="139.5" cy="128.9"/><circle cx="98.7" cy="133.4"/><circle cx="71.3" cy="136.7" class="o"/><circle cx="84.7" cy="108.4" class="o"/><circle cx="113.5" cy="87.6"/><circle cx="92.6" cy="81.6"/><circle cx="130.1" cy="98.4"/><circle cx="150.5" cy="131.9"/><circle cx="98.7" cy="43.5"/><circle cx="146.2" cy="138.8"/><circle cx="103.9" cy="107.6"/><circle cx="96.4" cy="135.8"/><circle cx="192.7" cy="127.5"/><circle cx="109.9" cy="132.0"/><circle cx="127.4" cy="91.9"/><circle cx="107.4" cy="108.5"/><circle cx="131.4" cy="134.4"/><circle cx="109.6" cy="128.3"/><circle cx="85.8" cy="133.8"/><circle cx="109.9" cy="133.1"/><circle cx="101.1" cy="121.7"/><circle cx="96.0" cy="107.7"/><circle cx="108.1" cy="118.3"/><circle cx="124.1" cy="95.7"/><circle cx="120.0" cy="135.9"/><circle cx="167.2" cy="130.9"/><circle cx="124.2" cy="99.4"/><circle cx="121.0" cy="131.8"/><circle cx="106.6" cy="123.9"/><circle cx="99.7" cy="94.9"/><circle cx="102.2" cy="132.8"/><circle cx="113.9" cy="119.9"/><circle cx="116.3" cy="131.9"/><circle cx="76.7" cy="103.1"/><circle cx="138.0" cy="129.2"/><circle cx="139.1" cy="119.9"/><circle cx="98.7" cy="70.2"/><circle cx="129.9" cy="111.1"/><circle cx="100.6" cy="129.9" class="o"/><circle cx="105.1" cy="134.2"/><circle cx="127.4" cy="130.3"/><circle cx="133.7" cy="134.2"/><circle cx="94.9" cy="115.7" class="o"/><circle cx="71.9" cy="134.7"/><circle cx="144.4" cy="45.6"/><circle cx="75.9" cy="104.9"/><circle cx="81.3" cy="98.0"/><circle cx="97.6" cy="58.0"/><circle cx="87.5" cy="95.8"/><circle cx="98.1" cy="128.7"/><circle cx="106.0" cy="126.4" class="o"/><circle cx="129.9" cy="85.8"/><circle cx="107.1" cy="66.9"/><circle cx="119.6" cy="74.9"/><circle cx="130.4" cy="129.5"/><circle cx="78.8" cy="137.0"/><circle cx="155.4" cy="89.9"/><circle cx="77.7" cy="134.2"/><circle cx="92.8" cy="87.5"/><circle cx="118.3" cy="30.4"/><circle cx="137.9" cy="121.7"/><circle cx="84.5" cy="129.9"/><circle cx="88.5" cy="138.2"/><circle cx="129.2" cy="133.1"/><circle cx="139.1" cy="133.4"/><circle cx="140.5" cy="100.3"/><circle cx="87.3" cy="132.3"/><circle cx="138.2" cy="124.3"/><circle cx="95.3" cy="135.7"/><circle cx="118.5" cy="127.9"/><circle cx="127.1" cy="129.6"/><circle cx="150.7" cy="102.4"/><circle cx="126.0" cy="82.7"/><circle cx="90.2" cy="101.9"/><circle cx="104.4" cy="91.5"/><circle cx="127.7" cy="115.9"/><circle cx="70.5" cy="100.9"/><circle cx="142.1" cy="128.9"/><circle cx="73.2" cy="126.4"/><circle cx="115.3" cy="75.9"/><circle cx="113.4" cy="124.9"/><circle cx="147.9" cy="132.1"/><circle cx="118.3" cy="131.1"/><circle cx="88.9" cy="96.3"/><circle cx="95.1" cy="93.4"/><circle cx="83.4" cy="142.4"/><circle cx="248.8" cy="125.5"/><circle cx="141.5" cy="111.1"/><circle cx="126.8" cy="134.5"/><circle cx="98.5" cy="127.9"/><circle cx="101.2" cy="95.4"/><circle cx="88.5" cy="132.6"/><circle cx="100.8" cy="137.0"/><circle cx="113.4" cy="123.1" class="o"/><circle cx="161.0" cy="124.2"/><circle cx="102.9" cy="129.6" class="o"/><circle cx="113.4" cy="133.9"/><circle cx="145.4" cy="130.1"/><circle cx="107.2" cy="136.7" class="o"/><circle cx="127.7" cy="121.7"/><circle cx="118.7" cy="124.6"/><circle cx="133.1" cy="133.1"/><circle cx="65.2" cy="125.2" class="o"/><circle cx="121.1" cy="103.4"/><circle cx="90.0" cy="113.7"/><circle cx="102.8" cy="111.9"/><circle cx="106.6" cy="104.9"/><circle cx="95.1" cy="129.8"/><circle cx="119.3" cy="125.5"/><circle cx="80.7" cy="104.1"/><circle cx="127.9" cy="39.7"/><circle cx="109.5" cy="128.4"/><circle cx="116.4" cy="94.4" class="o"/><circle cx="76.8" cy="146.1"/><circle cx="94.4" cy="112.3" class="o"/><circle cx="85.0" cy="119.4"/><circle cx="96.7" cy="132.7"/><circle cx="86.1" cy="117.5" class="o"/><circle cx="95.5" cy="83.7"/><circle cx="77.0" cy="78.4"/><circle cx="84.2" cy="129.0"/><circle cx="116.0" cy="138.8"/><circle cx="86.8" cy="136.4"/><circle cx="134.8" cy="88.1"/><circle cx="110.1" cy="80.1"/><circle cx="114.5" cy="130.4"/><circle cx="87.2" cy="96.5"/><circle cx="80.8" cy="91.0"/><circle cx="124.2" cy="87.3"/><circle cx="198.5" cy="128.3"/><circle cx="99.4" cy="23.1"/><circle cx="89.1" cy="133.2"/><circle cx="121.0" cy="89.0"/><circle cx="76.8" cy="130.8"/><circle cx="104.1" cy="98.8"/><circle cx="137.1" cy="130.3"/><circle cx="116.4" cy="89.1"/><circle cx="139.0" cy="127.6"/><circle cx="84.8" cy="95.0"/><circle cx="117.8" cy="67.8"/><circle cx="76.2" cy="133.8" class="o"/><circle cx="86.7" cy="131.9"/><circle cx="81.2" cy="133.3"/><circle cx="83.2" cy="119.5"/><circle cx="102.7" cy="133.0"/><circle cx="114.6" cy="130.9"/><circle cx="114.1" cy="35.4"/><circle cx="89.1" cy="135.5"/><circle cx="154.7" cy="129.2"/><circle cx="106.4" cy="95.2"/><circle cx="126.1" cy="63.7"/><circle cx="93.6" cy="137.5"/><circle cx="127.3" cy="137.3"/><circle cx="152.9" cy="101.4"/><circle cx="83.0" cy="117.9"/><circle cx="82.0" cy="138.2"/><circle cx="72.0" cy="130.8"/><circle cx="125.1" cy="100.7"/><circle cx="102.3" cy="84.7" class="o"/><circle cx="102.8" cy="139.1" class="o"/><circle cx="120.0" cy="82.9"/><circle cx="100.1" cy="132.3"/><circle cx="109.1" cy="128.4"/><circle cx="110.3" cy="88.6"/><circle cx="104.1" cy="116.5"/><circle cx="104.8" cy="130.3"/><circle cx="112.2" cy="90.1"/><circle cx="120.0" cy="120.2"/><circle cx="119.0" cy="129.1"/><circle cx="100.3" cy="129.2"/><circle cx="96.0" cy="115.8"/><circle cx="110.5" cy="135.7"/><circle cx="82.0" cy="92.8"/><circle cx="88.4" cy="128.9"/><circle cx="84.5" cy="133.9"/><circle cx="127.7" cy="133.0" class="o"/><circle cx="84.1" cy="127.1"/><circle cx="76.4" cy="133.5"/><circle cx="93.9" cy="76.1"/><circle cx="113.9" cy="130.2"/><circle cx="65.2" cy="135.8"/><circle cx="126.3" cy="139.1"/><circle cx="109.2" cy="108.8"/><circle cx="127.2" cy="134.9"/><circle cx="94.9" cy="135.7"/><circle cx="141.0" cy="129.8"/><circle cx="153.8" cy="92.8"/><circle cx="80.3" cy="132.4"/><circle cx="105.5" cy="100.1" class="o"/><circle cx="109.4" cy="127.6"/><circle cx="82.4" cy="92.0"/><circle cx="117.9" cy="125.8"/><circle cx="136.0" cy="133.6"/><circle cx="111.2" cy="130.0"/><circle cx="136.8" cy="109.8"/><circle cx="97.6" cy="120.7"/><circle cx="123.4" cy="49.6"/><circle cx="139.2" cy="128.4"/><circle cx="145.2" cy="119.7"/><circle cx="111.3" cy="127.2"/><circle cx="118.1" cy="97.6"/><circle cx="127.6" cy="131.7"/><circle cx="163.0" cy="62.8"/><circle cx="135.7" cy="129.3"/><circle cx="145.9" cy="77.4"/><circle cx="130.0" cy="132.8"/><circle cx="86.4" cy="133.6"/><circle cx="82.8" cy="125.4"/><circle cx="111.3" cy="130.3"/><circle cx="70.7" cy="122.2"/><circle cx="103.9" cy="94.7"/><circle cx="91.0" cy="128.3"/><circle cx="91.6" cy="133.6"/><circle cx="100.5" cy="119.5"/><circle cx="96.7" cy="134.3"/><circle cx="135.7" cy="131.7"/><circle cx="128.3" cy="92.5"/><circle cx="115.1" cy="132.5"/><circle cx="117.3" cy="83.5"/><circle cx="101.7" cy="128.1"/><circle cx="120.6" cy="96.9"/><circle cx="83.4" cy="126.5"/><circle cx="135.4" cy="94.9"/><circle cx="106.9" cy="87.2"/><circle cx="107.0" cy="97.3"/><circle cx="109.6" cy="107.5"/><circle cx="159.0" cy="115.3"/><circle cx="118.4" cy="101.6"/><circle cx="150.4" cy="90.0"/><circle cx="118.2" cy="82.3"/><circle cx="92.5" cy="90.2"/><circle cx="116.7" cy="130.5"/><circle cx="143.2" cy="96.6"/><circle cx="111.5" cy="116.3"/><circle cx="91.3" cy="136.5"/><circle cx="149.5" cy="136.9"/><circle cx="140.7" cy="101.6"/><circle cx="89.2" cy="127.4"/><circle cx="114.6" cy="91.8"/><circle cx="133.5" cy="105.4"/><circle cx="78.0" cy="133.9" class="o"/><circle cx="84.2" cy="125.1" class="o"/><circle cx="116.7" cy="98.8"/><circle cx="142.1" cy="112.6"/><circle cx="111.8" cy="130.1"/><circle cx="123.0" cy="89.8" class="o"/><circle cx="135.2" cy="129.1"/><circle cx="83.1" cy="139.0"/><circle cx="90.7" cy="133.8"/><circle cx="107.6" cy="126.8"/><circle cx="107.4" cy="84.2"/><circle cx="132.4" cy="88.9"/><circle cx="107.9" cy="99.6"/><circle cx="117.5" cy="73.7"/><circle cx="119.2" cy="114.2"/><circle cx="123.9" cy="133.6" class="o"/><circle cx="131.0" cy="86.3"/><circle cx="105.3" cy="61.1"/><circle cx="94.6" cy="130.9"/><circle cx="87.4" cy="96.6"/><circle cx="109.4" cy="130.3"/><circle cx="110.8" cy="133.9"/><circle cx="106.0" cy="132.5"/><circle cx="67.4" cy="131.0" class="o"/><circle cx="95.2" cy="127.4" class="o"/><circle cx="146.5" cy="99.4"/><circle cx="111.4" cy="78.3"/><circle cx="92.2" cy="102.9"/><circle cx="98.5" cy="131.3"/><circle cx="95.9" cy="90.2"/><circle cx="137.1" cy="96.9"/><circle cx="130.1" cy="133.0" class="o"/><circle cx="103.7" cy="88.7"/><circle cx="68.1" cy="118.4"/><circle cx="139.3" cy="119.0"/><circle cx="109.6" cy="133.3"/><circle cx="109.3" cy="129.7"/><circle cx="69.2" cy="129.6"/><circle cx="131.3" cy="126.3"/><circle cx="98.4" cy="135.1"/><circle cx="113.8" cy="80.6"/><circle cx="153.8" cy="84.2"/><circle cx="141.2" cy="123.5"/><circle cx="87.7" cy="110.7"/><circle cx="135.4" cy="91.6"/><circle cx="111.8" cy="129.4" class="o"/><circle cx="78.0" cy="136.8"/><circle cx="113.8" cy="125.1"/><circle cx="124.9" cy="79.9"/><circle cx="119.7" cy="138.5" class="o"/><circle cx="110.1" cy="91.2"/><circle cx="111.4" cy="110.8"/><circle cx="156.1" cy="95.6"/><circle cx="114.1" cy="135.3"/><circle cx="156.9" cy="123.4"/><circle cx="132.4" cy="92.0"/><circle cx="135.2" cy="128.7"/><circle cx="111.0" cy="103.8"/><circle cx="155.6" cy="132.6"/><circle cx="68.0" cy="114.6"/><circle cx="132.0" cy="132.5"/><circle cx="119.4" cy="133.1" class="o"/><circle cx="88.5" cy="134.6"/><circle cx="80.1" cy="136.7"/><circle cx="92.5" cy="109.4"/><circle cx="86.3" cy="104.8"/><circle cx="108.3" cy="53.9"/><circle cx="113.2" cy="123.0"/><circle cx="133.1" cy="90.0"/><circle cx="116.8" cy="95.3"/><circle cx="102.3" cy="129.4"/><circle cx="78.9" cy="126.6"/><circle cx="121.3" cy="88.4"/><circle cx="114.6" cy="83.3" class="o"/><circle cx="90.3" cy="104.3"/><circle cx="123.2" cy="89.8"/><circle cx="89.2" cy="134.1"/><circle cx="109.9" cy="58.2"/><circle cx="112.8" cy="110.1"/><circle cx="91.3" cy="133.5"/><circle cx="132.8" cy="129.7"/><circle cx="100.4" cy="122.4"/><circle cx="127.4" cy="106.7"/><circle cx="127.2" cy="116.8"/><circle cx="130.7" cy="113.8"/><circle cx="108.6" cy="96.0"/><circle cx="118.4" cy="81.0"/><circle cx="93.7" cy="93.0"/><circle cx="88.3" cy="90.8"/><circle cx="120.4" cy="125.0"/><circle cx="129.4" cy="133.8"/><circle cx="126.7" cy="115.1"/><circle cx="111.4" cy="122.7"/><circle cx="98.6" cy="138.1"/><circle cx="107.0" cy="130.0" class="o"/><circle cx="89.1" cy="128.8"/><circle cx="117.4" cy="99.2"/><circle cx="84.0" cy="132.8"/><circle cx="122.7" cy="134.1"/><circle cx="116.6" cy="134.0"/><circle cx="88.8" cy="111.1"/><circle cx="80.4" cy="137.6"/><circle cx="124.3" cy="132.0"/><circle cx="77.3" cy="87.8"/><circle cx="70.6" cy="138.7"/><circle cx="88.8" cy="134.1"/><circle cx="99.3" cy="82.8"/><circle cx="96.1" cy="92.2"/><circle cx="139.0" cy="130.4"/><circle cx="89.0" cy="134.5"/><circle cx="83.8" cy="129.5"/><circle cx="81.4" cy="125.0"/><circle cx="104.7" cy="120.6"/><circle cx="76.7" cy="127.4" class="o"/><circle cx="118.3" cy="131.9"/><circle cx="106.2" cy="132.7"/><circle cx="168.4" cy="126.6"/><circle cx="156.7" cy="132.3"/><circle cx="124.0" cy="127.4"/><circle cx="168.8" cy="123.7"/><circle cx="133.9" cy="107.6"/><circle cx="89.4" cy="103.5"/><circle cx="142.2" cy="127.0"/><circle cx="134.2" cy="107.6"/><circle cx="130.9" cy="122.3"/><circle cx="110.5" cy="93.8"/><circle cx="125.0" cy="116.4"/><circle cx="74.1" cy="126.1"/><circle cx="138.5" cy="98.4"/><circle cx="74.5" cy="128.0"/><circle cx="129.7" cy="86.2"/><circle cx="118.7" cy="131.2"/><circle cx="119.9" cy="126.5"/><circle cx="138.9" cy="70.8"/><circle cx="82.7" cy="93.7"/><circle cx="95.2" cy="83.3"/><circle cx="140.8" cy="130.0"/><circle cx="97.2" cy="84.4"/><circle cx="118.7" cy="84.2"/><circle cx="114.1" cy="127.3"/><circle cx="140.6" cy="114.9"/><circle cx="150.0" cy="79.2"/><circle cx="123.5" cy="138.5"/><circle cx="145.4" cy="132.8"/><circle cx="102.4" cy="132.8"/><circle cx="118.8" cy="131.1"/><circle cx="114.4" cy="89.1"/><circle cx="140.9" cy="81.9"/><circle cx="119.5" cy="130.4"/><circle cx="115.5" cy="122.4"/><circle cx="103.9" cy="122.8"/><circle cx="115.7" cy="130.5"/><circle cx="74.0" cy="132.4"/><circle cx="106.1" cy="138.0"/><circle cx="80.2" cy="131.1"/><circle cx="82.5" cy="136.7"/><circle cx="112.6" cy="122.6" class="o"/><circle cx="125.3" cy="105.7"/><circle cx="109.8" cy="129.5"/><circle cx="73.6" cy="127.6"/><circle cx="100.9" cy="128.7"/><circle cx="111.4" cy="137.8" class="o"/><circle cx="116.6" cy="132.5"/><circle cx="92.6" cy="113.1"/><circle cx="135.1" cy="124.5"/><circle cx="110.6" cy="133.8"/><circle cx="78.2" cy="110.1" class="o"/><circle cx="88.8" cy="121.2"/><circle cx="108.4" cy="134.2"/><circle cx="164.5" cy="133.8"/><circle cx="105.9" cy="132.9"/><circle cx="122.6" cy="128.6"/><circle cx="142.2" cy="95.2"/><circle cx="117.4" cy="130.9"/><circle cx="108.3" cy="71.4"/><circle cx="82.4" cy="114.1"/><circle cx="91.4" cy="131.2"/><circle cx="74.5" cy="100.7" class="o"/><circle cx="77.7" cy="92.6"/><circle cx="88.9" cy="130.4" class="o"/><circle cx="104.7" cy="131.1"/><circle cx="72.9" cy="104.2"/><circle cx="93.3" cy="125.7"/><circle cx="98.2" cy="83.3"/><circle cx="116.2" cy="135.7"/><circle cx="94.2" cy="78.5"/><circle cx="145.4" cy="125.8"/><circle cx="146.9" cy="80.1"/><circle cx="141.6" cy="103.2"/><circle cx="65.3" cy="126.6"/><circle cx="150.6" cy="134.2"/><circle cx="134.6" cy="122.1"/><circle cx="120.6" cy="38.0"/><circle cx="148.9" cy="126.0"/><circle cx="86.9" cy="101.8"/><circle cx="100.0" cy="117.6" class="o"/><circle cx="116.5" cy="129.5"/><circle cx="130.5" cy="44.5"/><circle cx="133.9" cy="123.2"/><circle cx="72.8" cy="130.4"/><circle cx="140.4" cy="125.3"/><circle cx="113.7" cy="118.2"/><circle cx="81.1" cy="101.9"/><circle cx="90.4" cy="134.9"/><circle cx="114.2" cy="131.6"/><circle cx="152.7" cy="138.6"/><circle cx="113.9" cy="130.2"/><circle cx="100.0" cy="114.9"/><circle cx="81.7" cy="113.4" class="o"/><circle cx="111.9" cy="48.0"/><circle cx="107.3" cy="91.9"/><circle cx="160.4" cy="137.0"/><circle cx="105.7" cy="85.9"/><circle cx="122.7" cy="137.1"/><circle cx="111.3" cy="122.2"/><circle cx="79.3" cy="133.3"/><circle cx="107.9" cy="93.3"/><circle cx="135.3" cy="131.7"/><circle cx="137.4" cy="124.5"/><circle cx="159.4" cy="133.6"/><circle cx="114.2" cy="71.2"/><circle cx="150.9" cy="136.6"/><circle cx="138.7" cy="75.3"/><circle cx="142.8" cy="127.1"/><circle cx="125.0" cy="137.3" class="o"/><circle cx="73.1" cy="121.4" class="o"/><circle cx="144.4" cy="111.1"/><circle cx="143.5" cy="129.4"/><circle cx="75.2" cy="139.2"/><circle cx="104.4" cy="132.2"/><circle cx="143.6" cy="131.7"/><circle cx="110.4" cy="122.5"/><circle cx="162.0" cy="131.9"/><circle cx="139.2" cy="133.4"/><circle cx="134.7" cy="123.9"/><circle cx="81.0" cy="90.0"/><circle cx="164.5" cy="102.3"/><circle cx="111.2" cy="89.1"/><circle cx="87.1" cy="139.5"/><circle cx="95.3" cy="87.6"/><circle cx="134.8" cy="82.4"/><circle cx="99.8" cy="131.9"/><circle cx="109.0" cy="118.6"/><circle cx="87.4" cy="134.7"/><circle cx="89.0" cy="118.4" class="o"/><circle cx="107.6" cy="134.6"/><circle cx="128.4" cy="134.0"/><circle cx="104.9" cy="85.9"/><circle cx="65.9" cy="74.7"/><circle cx="91.6" cy="87.9"/><circle cx="111.7" cy="87.3"/><circle cx="108.3" cy="90.3"/><circle cx="101.9" cy="88.0"/><circle cx="77.9" cy="118.6"/><circle cx="100.7" cy="131.9"/><circle cx="110.8" cy="128.3"/><circle cx="113.9" cy="136.8"/><circle cx="161.5" cy="119.5"/><circle cx="79.4" cy="93.2" class="o"/><circle cx="124.2" cy="100.0"/><circle cx="122.5" cy="91.8"/><circle cx="135.0" cy="97.2" class="o"/><circle cx="172.7" cy="130.8"/><circle cx="91.4" cy="130.7"/><circle cx="88.6" cy="135.4"/><circle cx="65.1" cy="121.0"/><circle cx="126.4" cy="135.9"/><circle cx="104.7" cy="125.2"/><circle cx="127.9" cy="90.0"/><circle cx="94.3" cy="127.6" class="o"/><circle cx="148.5" cy="129.2"/><circle cx="72.3" cy="133.7"/><circle cx="130.2" cy="88.0"/><circle cx="111.4" cy="96.8" class="o"/><circle cx="130.4" cy="125.9"/><circle cx="108.0" cy="127.0"/><circle cx="86.6" cy="128.6" class="o"/><circle cx="109.4" cy="133.8" class="o"/><circle cx="81.8" cy="115.9"/><circle cx="68.7" cy="100.4"/><circle cx="90.6" cy="133.6" class="o"/><circle cx="99.7" cy="84.0"/><circle cx="130.5" cy="114.4"/><circle cx="138.8" cy="77.1" class="o"/><circle cx="96.6" cy="126.1"/><circle cx="75.5" cy="128.8"/><circle cx="126.0" cy="134.6"/><circle cx="148.7" cy="119.2"/><circle cx="117.5" cy="60.5"/><circle cx="68.6" cy="107.8" class="o"/><circle cx="107.7" cy="128.5"/><circle cx="76.2" cy="135.4"/><circle cx="87.8" cy="90.1"/><circle cx="157.9" cy="130.6"/><circle cx="117.6" cy="92.5"/><circle cx="77.3" cy="115.3"/><circle cx="107.6" cy="79.4"/><circle cx="135.6" cy="131.0"/><circle cx="116.2" cy="119.5"/><circle cx="139.8" cy="47.3"/><circle cx="87.7" cy="133.5"/><circle cx="120.8" cy="43.4"/><circle cx="134.1" cy="135.8"/><circle cx="126.2" cy="130.9"/><circle cx="152.6" cy="112.5"/><circle cx="101.9" cy="93.2"/><circle cx="118.1" cy="115.3"/><circle cx="101.1" cy="97.2"/><circle cx="66.7" cy="129.8"/><circle cx="101.5" cy="83.0"/><circle cx="117.9" cy="115.1" class="o"/><circle cx="173.3" cy="131.2"/><circle cx="93.1" cy="109.6" class="o"/><circle cx="123.5" cy="120.4"/><circle cx="167.3" cy="128.2"/><circle cx="111.0" cy="136.8"/><circle cx="132.8" cy="100.9"/><circle cx="68.0" cy="125.0"/><circle cx="88.2" cy="131.3"/><circle cx="96.0" cy="118.0"/><circle cx="114.8" cy="136.6"/><circle cx="80.5" cy="130.0"/><circle cx="132.6" cy="134.1"/><circle cx="120.7" cy="105.2" class="o"/><circle cx="140.9" cy="81.5"/><circle cx="129.9" cy="129.9"/><circle cx="88.4" cy="111.5"/><circle cx="135.8" cy="84.2"/><circle cx="76.5" cy="128.4"/><circle cx="125.3" cy="128.1"/><circle cx="108.0" cy="128.5"/><circle cx="87.7" cy="101.4"/><circle cx="110.0" cy="113.6"/><circle cx="93.5" cy="128.1"/><circle cx="86.0" cy="123.5"/><circle cx="115.0" cy="133.3"/><circle cx="95.0" cy="128.7"/><circle cx="105.7" cy="78.0"/><circle cx="134.5" cy="131.1"/><circle cx="122.9" cy="126.9"/><circle cx="123.1" cy="130.0"/><circle cx="154.6" cy="127.3"/><circle cx="80.9" cy="108.2"/><circle cx="112.9" cy="77.4"/><circle cx="73.8" cy="129.4"/><circle cx="139.6" cy="129.8"/><circle cx="104.1" cy="90.3"/><circle cx="92.8" cy="122.5"/><circle cx="115.0" cy="122.5"/><circle cx="150.4" cy="100.9"/><circle cx="102.2" cy="130.4"/><circle cx="86.8" cy="130.3"/><circle cx="131.0" cy="77.5"/><circle cx="133.4" cy="67.3"/><circle cx="75.2" cy="92.6"/><circle cx="133.0" cy="121.0"/><circle cx="94.8" cy="87.0"/><circle cx="90.2" cy="91.9"/><circle cx="122.4" cy="84.6"/><circle cx="132.0" cy="112.3"/><circle cx="86.6" cy="127.4"/><circle cx="133.9" cy="134.8"/><circle cx="129.0" cy="79.7"/><circle cx="115.3" cy="76.8"/><circle cx="75.4" cy="134.1" class="o"/><circle cx="113.4" cy="85.5"/><circle cx="143.5" cy="136.6"/><circle cx="148.2" cy="134.5"/><circle cx="96.5" cy="98.7"/><circle cx="135.0" cy="121.7"/><circle cx="118.6" cy="91.0"/><circle cx="108.1" cy="128.2"/><circle cx="76.6" cy="114.1" class="o"/><circle cx="74.7" cy="136.1"/><circle cx="118.7" cy="104.4"/><circle cx="95.8" cy="120.2" class="o"/><circle cx="146.3" cy="135.9"/><circle cx="131.9" cy="124.7"/><circle cx="111.3" cy="134.5"/><circle cx="152.1" cy="96.9"/><circle cx="100.8" cy="91.1"/><circle cx="68.4" cy="118.5"/><circle cx="126.2" cy="88.3"/><circle cx="115.1" cy="82.6"/><circle cx="150.2" cy="128.8"/><circle cx="71.9" cy="127.4"/><circle cx="76.6" cy="112.5"/><circle cx="116.9" cy="134.2"/><circle cx="100.4" cy="131.8"/><circle cx="114.5" cy="83.4"/><circle cx="86.2" cy="134.4"/><circle cx="128.4" cy="84.0"/><circle cx="77.1" cy="129.2"/><circle cx="97.2" cy="89.3"/><circle cx="123.0" cy="101.6"/><circle cx="102.0" cy="126.9"/><circle cx="138.9" cy="131.6"/><circle cx="123.8" cy="126.3"/><circle cx="92.7" cy="115.0"/><circle cx="112.0" cy="89.3"/><circle cx="88.9" cy="86.1"/><circle cx="141.5" cy="125.1"/><circle cx="68.6" cy="133.7"/><circle cx="113.2" cy="80.4"/><circle cx="107.2" cy="133.6"/><circle cx="133.4" cy="84.5"/><circle cx="90.5" cy="95.2"/><circle cx="120.1" cy="138.2"/><circle cx="102.5" cy="132.7"/><circle cx="123.4" cy="86.6"/><circle cx="80.7" cy="136.4"/><circle cx="157.1" cy="100.5"/><circle cx="99.8" cy="136.7"/><circle cx="105.1" cy="84.7"/><circle cx="118.0" cy="83.9"/><circle cx="99.9" cy="129.8"/><circle cx="89.1" cy="127.0" class="o"/><circle cx="74.9" cy="125.7" class="o"/><circle cx="121.6" cy="131.7"/><circle cx="94.4" cy="106.0" class="o"/><circle cx="116.8" cy="134.3"/><circle cx="121.0" cy="129.2"/><circle cx="102.0" cy="84.5"/><circle cx="113.8" cy="131.3"/><circle cx="122.3" cy="134.4"/><circle cx="110.9" cy="126.0"/><circle cx="113.2" cy="128.1"/><circle cx="112.2" cy="73.8"/><circle cx="66.3" cy="131.3"/><circle cx="119.8" cy="134.9"/><circle cx="99.1" cy="128.6" class="o"/><circle cx="102.0" cy="100.2"/><circle cx="76.2" cy="109.2"/><circle cx="92.6" cy="133.9"/><circle cx="103.8" cy="111.6"/><circle cx="117.2" cy="108.0" class="o"/><circle cx="93.9" cy="131.6"/><circle cx="109.5" cy="126.8"/><circle cx="124.6" cy="82.8"/><circle cx="108.6" cy="76.9"/><circle cx="101.7" cy="130.4"/><circle cx="81.7" cy="135.4"/><circle cx="120.9" cy="129.9"/><circle cx="141.3" cy="83.5"/><circle cx="81.1" cy="102.0"/><circle cx="72.4" cy="138.5"/><circle cx="110.0" cy="130.1"/><circle cx="80.2" cy="129.5"/><circle cx="98.9" cy="73.6"/><circle cx="124.3" cy="126.5"/><circle cx="102.0" cy="131.6" class="o"/><circle cx="37.8" cy="119.1"/><circle cx="90.8" cy="92.8"/><circle cx="136.7" cy="132.5"/><circle cx="99.6" cy="125.6"/><circle cx="76.5" cy="118.9" class="o"/><circle cx="111.2" cy="106.4"/><circle cx="91.2" cy="110.9"/><circle cx="96.8" cy="123.9"/><circle cx="90.4" cy="72.4" class="o"/><circle cx="76.4" cy="130.7"/><circle cx="65.4" cy="128.1"/><circle cx="112.6" cy="128.1"/><circle cx="120.5" cy="125.2"/><circle cx="98.2" cy="101.9" class="o"/><circle cx="163.1" cy="128.7"/><circle cx="126.3" cy="110.1"/><circle cx="95.7" cy="85.6"/><circle cx="115.9" cy="131.9"/><circle cx="96.9" cy="129.0"/><circle cx="99.3" cy="129.7"/><circle cx="87.9" cy="133.8"/><circle cx="100.4" cy="105.4"/><circle cx="136.8" cy="125.3"/><circle cx="76.7" cy="134.7"/><circle cx="95.3" cy="132.0"/><circle cx="96.4" cy="89.5" class="o"/><circle cx="145.0" cy="87.0"/><circle cx="129.8" cy="116.5"/><circle cx="102.4" cy="132.8"/><circle cx="145.8" cy="101.8"/><circle cx="121.5" cy="81.1"/><circle cx="89.7" cy="130.0"/><circle cx="125.7" cy="129.4"/><circle cx="164.5" cy="128.9"/><circle cx="94.9" cy="133.3"/><circle cx="126.9" cy="104.2"/><circle cx="89.6" cy="123.9"/><circle cx="156.3" cy="134.8"/><circle cx="112.2" cy="133.7"/><circle cx="143.6" cy="74.1"/><circle cx="129.6" cy="126.6"/><circle cx="101.1" cy="139.0"/><circle cx="146.0" cy="59.0"/><circle cx="141.3" cy="104.9"/><circle cx="95.1" cy="127.2"/><circle cx="127.7" cy="134.7"/><circle cx="81.9" cy="129.3"/><circle cx="117.1" cy="120.8" class="o"/><circle cx="97.1" cy="108.8"/><circle cx="98.7" cy="130.3"/><circle cx="102.7" cy="129.5"/><circle cx="85.9" cy="132.5"/><circle cx="99.5" cy="138.2"/><circle cx="106.4" cy="132.0"/><circle cx="139.3" cy="108.4"/><circle cx="110.6" cy="73.2"/><circle cx="157.1" cy="136.4"/><circle cx="78.5" cy="91.8"/><circle cx="102.9" cy="90.2"/><circle cx="105.6" cy="105.8"/><circle cx="119.0" cy="130.6"/><circle cx="107.0" cy="135.5"/><circle cx="68.4" cy="124.6"/><circle cx="99.2" cy="123.6"/><circle cx="99.6" cy="94.8" class="o"/><circle cx="73.7" cy="130.6"/><circle cx="71.4" cy="139.0"/><circle cx="107.8" cy="138.7"/><circle cx="98.8" cy="84.2"/><circle cx="98.5" cy="114.6"/><circle cx="112.7" cy="131.8"/><circle cx="73.0" cy="101.2"/><circle cx="133.1" cy="91.6"/><circle cx="142.0" cy="132.1"/><circle cx="118.9" cy="96.6"/><circle cx="111.1" cy="131.9"/><circle cx="125.5" cy="132.9" class="o"/><circle cx="76.7" cy="136.3"/><circle cx="115.7" cy="134.9"/><circle cx="121.0" cy="133.1"/><circle cx="114.5" cy="137.0"/><circle cx="116.8" cy="89.7"/><circle cx="153.6" cy="96.9"/><circle cx="130.2" cy="105.3"/><circle cx="135.8" cy="119.0"/><circle cx="139.7" cy="96.8"/><circle cx="87.5" cy="88.3"/><circle cx="146.0" cy="136.6"/><circle cx="111.2" cy="126.8"/><circle cx="154.2" cy="118.3"/><circle cx="138.0" cy="99.3"/><circle cx="95.5" cy="133.2"/><circle cx="119.0" cy="105.4"/><circle cx="115.4" cy="127.1"/><circle cx="132.9" cy="106.3"/><circle cx="132.0" cy="93.6" class="o"/><circle cx="112.7" cy="136.3"/><circle cx="99.8" cy="131.9"/><circle cx="123.6" cy="117.9"/><circle cx="124.4" cy="126.8"/><circle cx="99.2" cy="78.2"/><circle cx="91.2" cy="126.9"/><circle cx="134.5" cy="132.0"/><circle cx="122.7" cy="91.4"/><circle cx="149.1" cy="125.5"/><circle cx="161.7" cy="126.2"/><circle cx="131.7" cy="95.3"/><circle cx="79.3" cy="110.3"/><circle cx="86.9" cy="133.4"/><circle cx="102.6" cy="127.4"/><circle cx="85.1" cy="134.5"/><circle cx="108.2" cy="129.2"/><circle cx="118.7" cy="62.6"/><circle cx="96.9" cy="131.6"/><circle cx="94.9" cy="124.4"/><circle cx="101.3" cy="132.6"/><circle cx="103.3" cy="95.1" class="o"/><circle cx="103.1" cy="50.1"/><circle cx="130.4" cy="127.1"/><circle cx="126.4" cy="96.6"/><circle cx="94.7" cy="72.8"/><circle cx="94.6" cy="128.9"/><circle cx="111.0" cy="127.6"/><circle cx="118.1" cy="86.5"/><circle cx="151.4" cy="128.7"/><circle cx="129.7" cy="93.9"/><circle cx="92.8" cy="79.3"/><circle cx="153.6" cy="103.3"/><circle cx="64.4" cy="132.4"/><circle cx="85.4" cy="112.8"/><circle cx="102.2" cy="132.1"/><circle cx="143.2" cy="72.0"/><circle cx="119.0" cy="128.5"/><circle cx="93.6" cy="64.6"/><circle cx="98.4" cy="115.7"/><circle cx="70.9" cy="132.7"/><circle cx="134.6" cy="97.0"/><circle cx="151.2" cy="132.6"/><circle cx="66.9" cy="110.1"/><circle cx="82.1" cy="132.7"/><circle cx="90.2" cy="133.3" class="o"/><circle cx="80.1" cy="137.0"/><circle cx="93.9" cy="130.3" class="o"/><circle cx="117.7" cy="121.9"/><circle cx="80.4" cy="132.9"/><circle cx="106.1" cy="129.2"/><circle cx="143.4" cy="85.9"/><circle cx="118.2" cy="132.1"/><circle cx="88.3" cy="94.9"/><circle cx="109.2" cy="120.0"/><circle cx="97.9" cy="98.1"/><circle cx="123.0" cy="100.4"/><circle cx="118.9" cy="99.2"/><circle cx="109.4" cy="127.0"/><circle cx="139.8" cy="85.8"/><circle cx="122.5" cy="51.4"/><circle cx="139.8" cy="132.9"/><circle cx="65.7" cy="106.1"/><circle cx="88.2" cy="121.8"/><circle cx="92.5" cy="137.0"/><circle cx="128.2" cy="137.0"/><circle cx="94.9" cy="81.8"/><circle cx="113.1" cy="130.9"/><circle cx="119.1" cy="134.2"/><circle cx="82.7" cy="132.6"/><circle cx="120.2" cy="122.2"/><circle cx="95.2" cy="137.4"/><circle cx="114.6" cy="129.9"/><circle cx="101.3" cy="133.7"/><circle cx="115.7" cy="116.7"/><circle cx="131.9" cy="138.4"/><circle cx="169.7" cy="137.2"/><circle cx="115.3" cy="130.3"/><circle cx="104.6" cy="88.2" class="o"/><circle cx="129.0" cy="99.8"/><circle cx="76.0" cy="134.7"/><circle cx="65.7" cy="125.3"/><circle cx="151.7" cy="100.2"/><circle cx="91.6" cy="133.7" class="o"/><circle cx="131.1" cy="133.1"/><circle cx="159.6" cy="139.0"/><circle cx="111.6" cy="116.5"/><circle cx="118.0" cy="99.2" class="o"/><circle cx="135.2" cy="100.9"/><circle cx="142.4" cy="135.0"/><circle cx="66.5" cy="131.6"/><circle cx="97.2" cy="96.6"/><circle cx="153.7" cy="134.9"/><circle cx="147.6" cy="131.3"/><circle cx="100.6" cy="129.9"/><circle cx="88.1" cy="128.1"/><circle cx="194.1" cy="64.7"/><circle cx="108.3" cy="123.5"/><circle cx="139.0" cy="127.9" class="o"/><circle cx="104.7" cy="123.9" class="o"/><circle cx="136.3" cy="118.4"/><circle cx="103.9" cy="88.1"/><circle cx="70.5" cy="120.1"/><circle cx="106.7" cy="136.6"/><circle cx="93.1" cy="130.1"/><circle cx="93.7" cy="130.3"/><circle cx="131.5" cy="79.7"/><circle cx="94.5" cy="112.9"/><circle cx="93.4" cy="92.3"/><circle cx="128.8" cy="95.9"/><circle cx="101.0" cy="100.8"/><circle cx="105.1" cy="135.0"/><circle cx="121.1" cy="92.3"/><circle cx="119.6" cy="135.5"/><circle cx="155.4" cy="129.7"/><circle cx="141.6" cy="87.9"/><circle cx="91.2" cy="132.5" class="o"/><circle cx="77.0" cy="132.1" class="o"/><circle cx="100.4" cy="136.9" class="o"/><circle cx="113.7" cy="64.9"/><circle cx="112.3" cy="131.3" class="o"/><circle cx="132.3" cy="129.9"/><circle cx="146.9" cy="96.7"/><circle cx="114.8" cy="87.1"/><circle cx="123.7" cy="85.5"/><circle cx="123.0" cy="130.0"/><circle cx="126.4" cy="130.2"/><circle cx="124.7" cy="42.4"/><circle cx="140.4" cy="91.8"/><circle cx="107.4" cy="128.9"/><circle cx="104.4" cy="134.8"/><circle cx="98.4" cy="91.3"/><circle cx="102.8" cy="83.9"/><circle cx="94.0" cy="108.9" class="o"/><circle cx="121.9" cy="81.3"/><circle cx="107.1" cy="126.1"/><circle cx="116.8" cy="94.6" class="o"/><circle cx="117.5" cy="128.6"/><circle cx="127.9" cy="60.4"/><circle cx="79.1" cy="127.4"/><circle cx="112.7" cy="75.1"/><circle cx="127.5" cy="56.1"/><circle cx="102.5" cy="136.0"/><circle cx="139.5" cy="134.3"/><circle cx="97.5" cy="131.3"/><circle cx="116.0" cy="124.8"/><circle cx="67.1" cy="126.1"/><circle cx="91.3" cy="135.3"/><circle cx="164.7" cy="99.9"/><circle cx="97.1" cy="122.4"/><circle cx="102.2" cy="123.4"/><circle cx="84.6" cy="97.2"/><circle cx="110.8" cy="110.0"/><circle cx="122.0" cy="131.4"/><circle cx="132.7" cy="130.3"/><circle cx="112.5" cy="113.0"/><circle cx="117.1" cy="87.9"/><circle cx="137.1" cy="91.2"/><circle cx="99.8" cy="126.1"/><circle cx="101.3" cy="87.6"/><circle cx="70.7" cy="118.3"/><circle cx="165.0" cy="127.0"/><circle cx="126.1" cy="99.0"/><circle cx="86.5" cy="93.9"/><circle cx="136.8" cy="83.0"/><circle cx="98.2" cy="55.3"/><circle cx="124.4" cy="124.1"/><circle cx="101.3" cy="128.9"/><circle cx="89.2" cy="126.4" class="o"/><circle cx="85.7" cy="115.8"/><circle cx="88.7" cy="97.7"/><circle cx="100.2" cy="130.5"/><circle cx="85.4" cy="129.2"/><circle cx="100.9" cy="91.8"/><circle cx="95.6" cy="139.7"/><circle cx="98.3" cy="125.7"/><circle cx="132.4" cy="94.4" class="o"/><circle cx="106.6" cy="123.5"/><circle cx="136.4" cy="116.3"/><circle cx="165.0" cy="112.3"/><circle cx="138.9" cy="136.4"/><circle cx="144.8" cy="101.4"/><circle cx="94.6" cy="133.3"/><circle cx="153.3" cy="143.6"/><circle cx="78.1" cy="118.9" class="o"/><circle cx="152.3" cy="113.0"/><circle cx="186.8" cy="131.0"/><circle cx="112.5" cy="105.0"/><circle cx="83.7" cy="136.6"/><circle cx="114.4" cy="124.9"/><circle cx="137.4" cy="125.8"/><circle cx="77.0" cy="131.3"/><circle cx="109.8" cy="128.1"/><circle cx="160.4" cy="127.4"/><circle cx="104.8" cy="120.7"/><circle cx="126.5" cy="115.6"/><circle cx="150.9" cy="103.6"/><circle cx="114.1" cy="81.3"/><circle cx="135.4" cy="129.4"/><circle cx="81.7" cy="92.1"/><circle cx="115.9" cy="118.2"/><circle cx="84.6" cy="131.7"/><circle cx="109.0" cy="138.5"/><circle cx="152.7" cy="99.9"/><circle cx="76.7" cy="125.2"/><circle cx="100.1" cy="100.6"/><circle cx="123.4" cy="110.5"/><circle cx="135.1" cy="55.3"/><circle cx="78.4" cy="132.5" class="o"/><circle cx="106.3" cy="84.7"/><circle cx="134.5" cy="102.8"/><circle cx="94.2" cy="91.0"/><circle cx="84.8" cy="135.6"/><circle cx="137.1" cy="125.8"/><circle cx="127.7" cy="129.9"/><circle cx="83.6" cy="106.9"/><circle cx="100.2" cy="50.0"/><circle cx="87.4" cy="128.3"/><circle cx="119.1" cy="138.1"/><circle cx="113.3" cy="123.5"/><circle cx="87.8" cy="131.7"/><circle cx="92.5" cy="91.3" class="o"/><circle cx="90.3" cy="126.5"/><circle cx="77.1" cy="128.6"/><circle cx="95.2" cy="131.0"/><circle cx="108.1" cy="129.4"/><circle cx="138.9" cy="111.5"/><circle cx="105.7" cy="134.8"/><circle cx="102.8" cy="125.8"/><circle cx="92.8" cy="129.8"/><circle cx="117.0" cy="131.4" class="o"/><circle cx="122.2" cy="80.0"/><circle cx="126.2" cy="118.0" class="o"/><circle cx="129.5" cy="139.0" class="o"/><circle cx="120.4" cy="133.0"/><circle cx="140.8" cy="126.7"/><circle cx="150.4" cy="137.9"/><circle cx="154.9" cy="130.4"/><circle cx="113.1" cy="94.8" class="o"/><circle cx="94.3" cy="113.6"/><circle cx="148.8" cy="134.6"/><circle cx="138.2" cy="132.4"/><circle cx="110.5" cy="139.2"/><circle cx="156.6" cy="115.3"/><circle cx="108.1" cy="130.6"/><circle cx="124.9" cy="133.1"/><circle cx="113.6" cy="107.6"/><circle cx="119.3" cy="89.3"/><circle cx="71.7" cy="74.7" class="o"/><circle cx="101.7" cy="136.7"/><circle cx="136.1" cy="90.9"/><circle cx="109.7" cy="109.6"/><circle cx="80.0" cy="89.4"/><circle cx="148.0" cy="125.8"/><circle cx="144.6" cy="138.0"/><circle cx="77.6" cy="135.4" class="o"/><circle cx="120.8" cy="109.7"/><circle cx="93.9" cy="136.9"/><circle cx="80.8" cy="132.7" class="o"/><circle cx="81.4" cy="133.5"/><circle cx="116.0" cy="134.4"/><circle cx="116.6" cy="76.8"/><circle cx="131.9" cy="137.3"/><circle cx="114.3" cy="125.7"/><circle cx="114.7" cy="118.2"/><circle cx="114.5" cy="126.3"/><circle cx="138.1" cy="127.0"/><circle cx="143.1" cy="134.1"/><circle cx="142.9" cy="96.0"/><circle cx="134.7" cy="131.8"/><circle cx="144.6" cy="131.9"/><circle cx="163.2" cy="136.4"/><circle cx="109.7" cy="136.3"/><circle cx="141.5" cy="128.7"/><circle cx="64.9" cy="137.5" class="o"/><circle cx="81.3" cy="129.7"/><circle cx="78.4" cy="124.7"/><circle cx="145.4" cy="133.9"/><circle cx="79.0" cy="137.6"/><circle cx="138.4" cy="94.7"/><circle cx="65.3" cy="118.6"/><circle cx="100.0" cy="131.8"/><circle cx="131.0" cy="106.8"/><circle cx="139.7" cy="90.0"/><circle cx="135.7" cy="59.8"/><circle cx="90.5" cy="130.3"/><circle cx="108.2" cy="97.1"/><circle cx="114.4" cy="130.4"/><circle cx="124.6" cy="132.1"/><circle cx="130.0" cy="130.5"/><circle cx="97.4" cy="124.4"/><circle cx="122.3" cy="129.7"/><circle cx="105.1" cy="68.5"/><circle cx="85.8" cy="51.0"/><circle cx="116.1" cy="111.3"/><circle cx="124.4" cy="129.3"/><circle cx="112.3" cy="118.8"/><circle cx="67.5" cy="113.3"/><circle cx="118.8" cy="107.3"/><circle cx="140.9" cy="122.5"/><circle cx="83.7" cy="126.8"/><circle cx="92.0" cy="107.1"/><circle cx="79.3" cy="134.4" class="o"/><circle cx="77.2" cy="137.7"/><circle cx="126.0" cy="136.5"/><circle cx="141.6" cy="137.2"/><circle cx="147.8" cy="112.6"/><circle cx="130.8" cy="129.2"/><circle cx="216.0" cy="127.5" class="o"/><circle cx="167.9" cy="109.5"/><circle cx="71.4" cy="125.7" class="o"/><circle cx="145.1" cy="93.4"/><circle cx="129.5" cy="94.1"/><circle cx="90.6" cy="88.1" class="o"/><circle cx="118.1" cy="102.1"/><circle cx="114.1" cy="109.7"/><circle cx="97.4" cy="119.8"/><circle cx="116.6" cy="99.7"/><circle cx="108.5" cy="127.3"/><circle cx="73.8" cy="102.1" class="o"/><circle cx="119.7" cy="128.1"/><circle cx="76.3" cy="109.6"/><circle cx="145.0" cy="88.1"/><circle cx="160.2" cy="137.2"/><circle cx="133.1" cy="121.8"/><circle cx="128.9" cy="123.9"/><circle cx="71.4" cy="107.7"/><circle cx="147.3" cy="130.5"/><circle cx="95.4" cy="101.9"/><circle cx="88.9" cy="140.0"/><circle cx="154.0" cy="125.9"/><circle cx="107.9" cy="136.4"/><circle cx="123.6" cy="94.6"/><circle cx="69.3" cy="110.7" class="o"/><circle cx="140.6" cy="133.2"/><circle cx="168.3" cy="137.0"/><circle cx="87.9" cy="132.9"/><circle cx="87.9" cy="114.1"/><circle cx="147.6" cy="118.3"/><circle cx="82.9" cy="136.1"/><circle cx="128.3" cy="129.2" class="o"/><circle cx="106.7" cy="114.9"/><circle cx="87.5" cy="101.3"/><circle cx="107.3" cy="136.5"/><circle cx="88.9" cy="83.0"/><circle cx="96.9" cy="85.7" class="o"/><circle cx="90.1" cy="124.7"/><circle cx="97.8" cy="59.4"/><circle cx="154.4" cy="99.1"/><circle cx="114.9" cy="86.8"/><circle cx="111.1" cy="130.3"/><circle cx="87.2" cy="131.6"/><circle cx="95.5" cy="104.5"/><circle cx="110.4" cy="127.7"/><circle cx="103.0" cy="127.1"/><circle cx="120.4" cy="129.0"/><circle cx="129.9" cy="133.9"/><circle cx="101.6" cy="118.3" class="o"/><circle cx="114.7" cy="126.0"/><circle cx="123.9" cy="127.5"/><circle cx="104.6" cy="138.6"/><circle cx="167.4" cy="133.7"/><circle cx="78.5" cy="130.5"/><circle cx="85.4" cy="93.1" class="o"/><circle cx="138.0" cy="132.7"/><circle cx="119.3" cy="133.6" class="o"/><circle cx="90.7" cy="91.3"/><circle cx="120.5" cy="93.5"/><circle cx="80.7" cy="137.0"/><circle cx="87.6" cy="94.9"/><circle cx="139.9" cy="131.1"/><circle cx="99.7" cy="138.2"/><circle cx="149.3" cy="135.5"/><circle cx="74.8" cy="130.4"/><circle cx="115.9" cy="128.8" class="o"/><circle cx="79.4" cy="100.4"/><circle cx="118.3" cy="133.9"/><circle cx="114.9" cy="85.3"/><circle cx="112.3" cy="120.2" class="o"/><circle cx="127.2" cy="89.3"/><circle cx="126.5" cy="129.6"/><circle cx="124.2" cy="92.7"/><circle cx="99.9" cy="103.7"/><circle cx="133.3" cy="94.7"/><circle cx="87.0" cy="128.6"/><circle cx="111.8" cy="86.5"/><circle cx="127.3" cy="130.0"/><circle cx="119.9" cy="132.0"/><circle cx="79.1" cy="108.0"/><circle cx="143.6" cy="90.7"/><circle cx="114.8" cy="125.6"/><circle cx="107.3" cy="81.1"/><circle cx="95.6" cy="128.0"/><circle cx="139.2" cy="129.8" class="o"/><circle cx="158.8" cy="129.6"/><circle cx="110.7" cy="99.8"/><circle cx="120.9" cy="134.0" class="o"/><circle cx="119.9" cy="87.7"/><circle cx="112.0" cy="84.4"/><circle cx="95.2" cy="96.4"/><circle cx="120.1" cy="80.6"/><circle cx="96.4" cy="81.6"/><circle cx="97.7" cy="116.7"/><circle cx="121.1" cy="88.5"/><circle cx="89.7" cy="135.3"/><circle cx="140.0" cy="126.0"/><circle cx="100.3" cy="130.5"/><circle cx="145.7" cy="21.1"/><circle cx="76.3" cy="86.0"/><circle cx="129.4" cy="82.6"/><circle cx="91.4" cy="140.0"/><circle cx="136.8" cy="112.9" class="o"/><circle cx="133.3" cy="95.9"/><circle cx="70.9" cy="129.2"/><circle cx="118.8" cy="118.6"/><circle cx="121.2" cy="83.7"/><circle cx="117.1" cy="129.2"/><circle cx="99.9" cy="126.2"/><circle cx="73.0" cy="112.8"/><circle cx="169.7" cy="129.7"/><circle cx="124.4" cy="127.2"/><circle cx="122.5" cy="88.0"/><circle cx="143.7" cy="134.4"/><circle cx="98.0" cy="86.4" class="o"/><circle cx="122.5" cy="126.2"/><circle cx="103.1" cy="130.9"/><circle cx="76.3" cy="130.6"/><circle cx="70.6" cy="131.1"/><circle cx="93.6" cy="129.1" class="o"/><circle cx="67.3" cy="119.5" class="o"/><circle cx="79.7" cy="90.6" class="o"/><circle cx="110.9" cy="129.6"/><circle cx="109.3" cy="91.0"/><circle cx="99.9" cy="86.5"/><circle cx="99.4" cy="133.5"/><circle cx="73.3" cy="134.1" class="o"/><circle cx="102.1" cy="132.5"/><circle cx="116.1" cy="112.8"/><circle cx="86.1" cy="89.9"/><circle cx="96.0" cy="138.3"/><circle cx="100.5" cy="134.7"/><circle cx="85.4" cy="137.5"/><circle cx="102.4" cy="133.8"/><circle cx="152.0" cy="131.5"/><circle cx="75.0" cy="102.0"/><circle cx="65.4" cy="138.7"/><circle cx="125.5" cy="68.7"/><circle cx="67.3" cy="135.6"/><circle cx="170.5" cy="135.9"/><circle cx="140.0" cy="112.7"/><circle cx="82.2" cy="133.1"/><circle cx="148.4" cy="115.4"/><circle cx="124.6" cy="88.5"/><circle cx="113.9" cy="127.4"/><circle cx="92.4" cy="123.3"/><circle cx="136.0" cy="131.1"/><circle cx="99.4" cy="137.1"/><circle cx="147.7" cy="131.4"/><circle cx="115.7" cy="134.1"/><circle cx="75.9" cy="133.0"/><circle cx="102.4" cy="137.4"/><circle cx="70.3" cy="123.8"/><circle cx="118.0" cy="127.8"/><circle cx="107.5" cy="128.1"/><circle cx="144.0" cy="129.6"/><circle cx="93.2" cy="135.5"/><circle cx="97.2" cy="122.5" class="o"/><circle cx="112.6" cy="119.4"/><circle cx="102.0" cy="129.2"/><circle cx="114.7" cy="134.6"/><circle cx="102.7" cy="128.0"/><circle cx="114.0" cy="132.3"/><circle cx="108.4" cy="113.5"/><circle cx="72.6" cy="99.9"/><circle cx="93.2" cy="130.7"/><circle cx="95.3" cy="132.4"/><circle cx="82.1" cy="135.9"/><circle cx="82.5" cy="133.5" class="o"/><circle cx="81.0" cy="132.0"/><circle cx="140.5" cy="134.3" class="o"/><circle cx="169.1" cy="127.6"/><circle cx="123.5" cy="114.9"/><circle cx="90.0" cy="128.6" class="o"/><circle cx="105.3" cy="125.5"/><circle cx="89.1" cy="137.8"/><circle cx="97.8" cy="98.4"/><circle cx="148.8" cy="78.2"/><circle cx="125.8" cy="126.2"/><circle cx="96.5" cy="129.8"/><circle cx="121.3" cy="132.9"/><circle cx="130.4" cy="131.8" class="o"/><circle cx="82.2" cy="122.5"/><circle cx="111.0" cy="127.8"/><circle cx="101.9" cy="133.3"/><circle cx="107.7" cy="136.5" class="o"/><circle cx="135.8" cy="115.6"/><circle cx="120.9" cy="136.1" class="o"/><circle cx="132.2" cy="111.0"/><circle cx="100.9" cy="96.9"/><circle cx="125.6" cy="34.0"/><circle cx="90.3" cy="125.3"/><circle cx="111.3" cy="133.2"/><circle cx="94.7" cy="130.7"/><circle cx="123.5" cy="130.2"/><circle cx="88.5" cy="95.5"/><circle cx="113.5" cy="128.8"/><circle cx="131.7" cy="56.1"/><circle cx="135.8" cy="95.7"/><circle cx="128.8" cy="131.9"/><circle cx="97.0" cy="117.3" class="o"/><circle cx="83.9" cy="133.9"/><circle cx="96.5" cy="132.6"/><circle cx="81.1" cy="96.5"/><circle cx="131.5" cy="133.8" class="o"/><circle cx="106.2" cy="114.6"/><circle cx="80.9" cy="127.1"/><circle cx="95.8" cy="125.3"/><circle cx="111.1" cy="105.3"/><circle cx="195.6" cy="125.5"/><circle cx="82.4" cy="96.2"/><circle cx="97.8" cy="106.3"/><circle cx="163.2" cy="106.7"/><circle cx="66.3" cy="119.0" class="o"/><circle cx="95.5" cy="125.9"/><circle cx="136.0" cy="126.2"/><circle cx="94.5" cy="139.4"/><circle cx="150.4" cy="137.5"/><circle cx="71.5" cy="114.2"/><circle cx="98.7" cy="133.9"/><circle cx="145.0" cy="98.1"/><circle cx="124.6" cy="132.4"/><circle cx="120.3" cy="130.9"/><circle cx="106.6" cy="118.3"/><circle cx="78.6" cy="109.7"/><circle cx="168.8" cy="127.6"/><circle cx="90.2" cy="130.9"/><circle cx="96.9" cy="127.0"/><circle cx="99.7" cy="61.8"/><circle cx="104.2" cy="129.5"/><circle cx="120.0" cy="129.4"/><circle cx="121.4" cy="115.4"/><circle cx="90.9" cy="127.0"/><circle cx="124.1" cy="136.0"/><circle cx="147.5" cy="101.4"/><circle cx="119.2" cy="133.5"/><circle cx="95.3" cy="128.9"/><circle cx="94.1" cy="129.1"/><circle cx="81.7" cy="111.7"/><circle cx="141.3" cy="131.3"/><circle cx="105.3" cy="116.7"/><circle cx="79.7" cy="135.4"/><circle cx="127.2" cy="113.8"/><circle cx="76.1" cy="90.7"/><circle cx="116.4" cy="118.9"/><circle cx="88.4" cy="132.2"/><circle cx="103.4" cy="137.5"/><circle cx="102.2" cy="137.8" class="o"/><circle cx="132.4" cy="133.0"/><circle cx="113.7" cy="137.0"/><circle cx="94.3" cy="120.4"/><circle cx="105.9" cy="138.7"/><circle cx="110.5" cy="134.6"/><circle cx="73.2" cy="131.7"/><circle cx="124.2" cy="122.6"/><circle cx="80.2" cy="134.8"/><circle cx="83.0" cy="133.0"/><circle cx="90.7" cy="136.2"/><circle cx="143.0" cy="90.9"/><circle cx="116.5" cy="130.6" class="o"/><circle cx="123.2" cy="68.2"/><circle cx="107.7" cy="136.9"/><circle cx="154.3" cy="105.2"/><circle cx="157.0" cy="108.8"/><circle cx="71.3" cy="131.9"/><circle cx="142.5" cy="86.4"/><circle cx="119.8" cy="90.8"/><circle cx="142.4" cy="116.2"/><circle cx="115.7" cy="126.6"/><circle cx="125.0" cy="59.2"/><circle cx="126.2" cy="101.8"/><circle cx="154.2" cy="132.6"/><circle cx="103.8" cy="122.4"/><circle cx="118.3" cy="138.1"/><circle cx="76.5" cy="108.8" class="o"/><circle cx="103.3" cy="133.4"/><circle cx="134.5" cy="104.6"/><circle cx="134.3" cy="136.4"/><circle cx="132.3" cy="135.0"/><circle cx="165.1" cy="133.1"/><circle cx="150.5" cy="138.8"/><circle cx="142.7" cy="98.1"/><circle cx="145.3" cy="124.8"/><circle cx="102.1" cy="120.5"/><circle cx="99.8" cy="112.0"/><circle cx="80.4" cy="126.6"/><circle cx="116.5" cy="127.6"/><circle cx="104.9" cy="123.1"/><circle cx="112.9" cy="111.8"/><circle cx="120.8" cy="130.7"/><circle cx="167.5" cy="129.2"/><circle cx="138.1" cy="85.9"/><circle cx="87.7" cy="103.8"/><circle cx="90.9" cy="124.6"/><circle cx="114.0" cy="103.3"/><circle cx="89.7" cy="103.7"/><circle cx="78.0" cy="103.7" class="o"/><circle cx="68.8" cy="139.9"/><circle cx="64.2" cy="131.1"/><circle cx="151.4" cy="128.6"/><circle cx="92.1" cy="125.9"/><circle cx="71.0" cy="131.1"/><circle cx="105.2" cy="127.0"/><circle cx="146.3" cy="95.4"/><circle cx="149.4" cy="129.8"/><circle cx="164.1" cy="134.6"/><circle cx="95.0" cy="124.2" class="o"/><circle cx="93.7" cy="58.5"/><circle cx="106.8" cy="57.7"/><circle cx="117.7" cy="37.1"/><circle cx="112.2" cy="127.5"/><circle cx="109.4" cy="115.0"/><circle cx="73.0" cy="127.2"/><circle cx="87.0" cy="87.9"/><circle cx="77.3" cy="128.3"/><circle cx="92.6" cy="83.6"/><circle cx="104.5" cy="125.2"/><circle cx="124.9" cy="58.9"/><circle cx="73.2" cy="133.3"/><circle cx="104.6" cy="86.1"/><circle cx="104.9" cy="134.5"/><circle cx="100.6" cy="71.6"/><circle cx="70.0" cy="115.2"/><circle cx="86.6" cy="127.2"/><circle cx="118.6" cy="35.1"/><circle cx="119.3" cy="125.4"/><circle cx="147.2" cy="126.3"/><circle cx="75.3" cy="104.2"/><circle cx="148.2" cy="129.8"/><circle cx="95.4" cy="86.0"/><circle cx="129.2" cy="122.4"/><circle cx="84.7" cy="119.4" class="o"/><circle cx="104.7" cy="128.8"/><circle cx="113.3" cy="125.7"/><circle cx="111.2" cy="131.1"/><circle cx="133.3" cy="104.0"/><circle cx="131.6" cy="120.3"/><circle cx="66.4" cy="118.8"/><circle cx="89.2" cy="126.9"/><circle cx="73.9" cy="130.6"/><circle cx="99.2" cy="130.7"/><circle cx="95.8" cy="129.8"/><circle cx="81.3" cy="98.9"/><circle cx="97.4" cy="139.0"/><circle cx="113.0" cy="121.5"/><circle cx="128.8" cy="81.4"/><circle cx="89.6" cy="125.8"/><circle cx="91.0" cy="100.4"/><circle cx="154.8" cy="132.1"/><circle cx="76.4" cy="97.8"/><circle cx="73.3" cy="129.7"/><circle cx="103.7" cy="88.6"/><circle cx="149.4" cy="131.8"/><circle cx="97.9" cy="137.5"/><circle cx="117.2" cy="133.2"/><circle cx="95.0" cy="103.0"/><circle cx="138.2" cy="115.7"/><circle cx="122.4" cy="40.6"/><circle cx="118.6" cy="74.1"/><circle cx="141.3" cy="127.7"/><circle cx="123.2" cy="128.8"/><circle cx="110.7" cy="124.2"/><circle cx="111.8" cy="134.6"/><circle cx="106.9" cy="132.1"/><circle cx="117.6" cy="139.1"/><circle cx="113.6" cy="122.0"/><circle cx="116.9" cy="124.6"/><circle cx="73.8" cy="119.1" class="o"/><circle cx="126.3" cy="91.5"/><circle cx="115.2" cy="86.0" class="o"/><circle cx="124.0" cy="133.9"/><circle cx="127.5" cy="84.7"/><circle cx="82.2" cy="131.4"/><circle cx="97.6" cy="86.5"/><circle cx="88.3" cy="111.0"/><circle cx="109.6" cy="109.8"/><circle cx="103.0" cy="129.2" class="o"/><circle cx="117.1" cy="125.9"/><circle cx="87.1" cy="132.4"/><circle cx="143.1" cy="101.5"/><circle cx="115.8" cy="130.6"/><circle cx="71.5" cy="124.4"/><circle cx="83.1" cy="130.4"/><circle cx="119.9" cy="85.0"/><circle cx="150.2" cy="129.4"/><circle cx="97.8" cy="128.5"/><circle cx="100.3" cy="130.3"/><circle cx="152.8" cy="131.5"/><circle cx="108.5" cy="90.4"/><circle cx="118.4" cy="93.1"/><circle cx="132.7" cy="138.2"/><circle cx="108.2" cy="105.1"/><circle cx="81.5" cy="134.8"/><circle cx="101.2" cy="86.8"/><circle cx="111.8" cy="92.4"/><circle cx="151.5" cy="134.6"/><circle cx="140.8" cy="132.0"/><circle cx="101.2" cy="128.8"/><circle cx="96.0" cy="134.0"/><circle cx="105.7" cy="89.3"/><circle cx="65.3" cy="106.0"/><circle cx="97.6" cy="126.2"/><circle cx="145.1" cy="133.1"/><circle cx="140.3" cy="94.0"/><circle cx="149.2" cy="135.4"/><circle cx="130.5" cy="130.0"/><circle cx="122.4" cy="128.8"/><circle cx="90.3" cy="125.8"/><circle cx="111.9" cy="131.9" class="o"/><circle cx="113.7" cy="133.3"/><circle cx="100.4" cy="129.9" class="o"/><circle cx="85.1" cy="95.4" class="o"/><circle cx="106.1" cy="131.9"/><circle cx="123.7" cy="136.4"/><circle cx="109.4" cy="128.7"/><circle cx="65.4" cy="116.3"/><circle cx="141.5" cy="53.6"/><circle cx="111.5" cy="132.8"/><circle cx="140.2" cy="137.0"/><circle cx="84.0" cy="137.9"/><circle cx="114.6" cy="130.1"/><circle cx="117.6" cy="138.3"/><circle cx="91.3" cy="129.2"/><circle cx="101.9" cy="118.6"/><circle cx="84.8" cy="130.7"/><circle cx="70.6" cy="135.9"/><circle cx="86.9" cy="92.6" class="o"/><circle cx="96.4" cy="96.9" class="o"/><circle cx="91.3" cy="135.3" class="o"/><circle cx="84.7" cy="125.8"/><circle cx="123.6" cy="87.3"/><circle cx="119.6" cy="73.1"/><circle cx="94.3" cy="108.4"/><circle cx="118.8" cy="80.5"/><circle cx="82.2" cy="130.8"/><circle cx="85.9" cy="138.5"/><circle cx="130.5" cy="105.5"/><circle cx="71.2" cy="120.2"/><circle cx="123.2" cy="121.4"/><circle cx="130.9" cy="84.9"/><circle cx="85.2" cy="98.6"/><circle cx="80.0" cy="107.9"/><circle cx="86.7" cy="133.8" class="o"/><circle cx="110.1" cy="86.6"/><circle cx="97.3" cy="126.3"/><circle cx="123.9" cy="80.5"/><circle cx="101.2" cy="94.5" class="o"/><circle cx="131.2" cy="127.3"/><circle cx="154.9" cy="133.4"/><circle cx="126.5" cy="87.3"/><circle cx="153.8" cy="96.0"/><circle cx="157.2" cy="119.0"/><circle cx="151.9" cy="121.8"/><circle cx="106.4" cy="123.5"/><circle cx="136.2" cy="130.5"/><circle cx="77.2" cy="136.4" class="o"/><circle cx="78.7" cy="132.1"/><circle cx="148.3" cy="108.5"/><circle cx="90.3" cy="96.3"/><circle cx="96.9" cy="131.7"/><circle cx="109.3" cy="134.9"/><circle cx="100.4" cy="85.8" class="o"/><circle cx="140.8" cy="88.1"/><circle cx="162.7" cy="128.8"/><circle cx="124.9" cy="54.0"/><circle cx="150.8" cy="96.7"/><circle cx="111.5" cy="109.5"/><circle cx="150.5" cy="90.4"/><circle cx="140.0" cy="123.1"/><circle cx="141.2" cy="83.0"/><circle cx="147.2" cy="128.2"/><circle cx="97.8" cy="80.3"/><circle cx="118.9" cy="136.5"/><circle cx="84.1" cy="96.9"/><circle cx="98.1" cy="131.1"/><circle cx="131.4" cy="125.1"/><circle cx="86.5" cy="135.7"/><circle cx="148.7" cy="129.2"/><circle cx="119.9" cy="134.6" class="o"/><circle cx="128.5" cy="113.1"/><circle cx="91.2" cy="117.0" class="o"/><circle cx="131.5" cy="53.1"/><circle cx="148.1" cy="124.1"/><circle cx="122.3" cy="118.4"/><circle cx="151.7" cy="125.8"/><circle cx="126.2" cy="129.0"/><circle cx="111.1" cy="129.7"/><circle cx="120.0" cy="118.4"/><circle cx="104.5" cy="118.7"/><circle cx="97.7" cy="80.0"/><circle cx="128.4" cy="114.6"/><circle cx="128.3" cy="90.4"/><circle cx="105.5" cy="128.9"/><circle cx="130.3" cy="126.5"/><circle cx="93.1" cy="133.2"/><circle cx="103.1" cy="85.1"/><circle cx="116.8" cy="135.2"/><circle cx="113.1" cy="82.2"/><circle cx="133.7" cy="134.9"/><circle cx="160.8" cy="131.7"/><circle cx="66.1" cy="129.6"/><circle cx="144.4" cy="136.3"/><circle cx="119.2" cy="127.5" class="o"/><circle cx="129.7" cy="137.1"/><circle cx="72.5" cy="117.7"/><circle cx="140.7" cy="109.0"/><circle cx="76.1" cy="125.8"/><circle cx="118.9" cy="113.4"/><circle cx="118.3" cy="104.8"/><circle cx="90.3" cy="117.6"/><circle cx="73.4" cy="100.1"/><circle cx="84.6" cy="133.1"/><circle cx="97.0" cy="127.6"/><circle cx="133.4" cy="96.1"/><circle cx="153.1" cy="89.3"/><circle cx="117.2" cy="86.8"/><circle cx="117.1" cy="138.0"/><circle cx="100.7" cy="101.7"/><circle cx="79.3" cy="85.9"/><circle cx="72.7" cy="106.9"/><circle cx="84.4" cy="137.8"/><circle cx="133.2" cy="133.3"/><circle cx="86.8" cy="133.7"/><circle cx="149.5" cy="133.4"/><circle cx="84.7" cy="127.1" class="o"/><circle cx="107.8" cy="89.0"/><circle cx="134.1" cy="76.7"/><circle cx="106.4" cy="129.9"/><circle cx="105.1" cy="124.0"/><circle cx="121.4" cy="75.9" class="o"/><circle cx="120.1" cy="112.5"/><circle cx="88.4" cy="115.0"/><circle cx="93.6" cy="142.8"/><circle cx="145.8" cy="137.9"/><circle cx="87.4" cy="132.3"/><circle cx="130.7" cy="127.8"/><circle cx="74.5" cy="123.9"/><circle cx="87.5" cy="138.6" class="o"/><circle cx="88.9" cy="101.9"/><circle cx="137.6" cy="130.0"/><circle cx="77.9" cy="119.8"/><circle cx="128.4" cy="128.3"/><circle cx="91.3" cy="132.7"/><circle cx="69.6" cy="133.1"/><circle cx="103.7" cy="121.3"/><circle cx="77.9" cy="127.4"/><circle cx="74.4" cy="124.5"/><circle cx="84.7" cy="101.7"/><circle cx="107.5" cy="133.6"/><circle cx="82.5" cy="137.1"/><circle cx="137.5" cy="94.2"/><circle cx="132.9" cy="89.7"/><circle cx="79.3" cy="116.8"/><circle cx="153.7" cy="87.3"/><circle cx="92.6" cy="94.0"/><circle cx="115.0" cy="101.6"/><circle cx="136.0" cy="127.8"/><circle cx="92.6" cy="121.8"/><circle cx="128.8" cy="136.7"/><circle cx="157.1" cy="85.8"/><circle cx="75.1" cy="135.0"/><circle cx="145.4" cy="131.5"/><circle cx="130.9" cy="129.8"/><circle cx="117.9" cy="125.6"/><circle cx="90.7" cy="127.0" class="o"/><circle cx="113.4" cy="112.7"/><circle cx="122.2" cy="87.0"/><circle cx="93.4" cy="81.0"/><circle cx="114.8" cy="100.9"/><circle cx="96.1" cy="90.9"/><circle cx="126.8" cy="136.8"/><circle cx="146.0" cy="130.7"/><circle cx="115.7" cy="114.1"/><circle cx="80.0" cy="133.3"/><circle cx="134.6" cy="84.8"/><circle cx="128.5" cy="84.3"/><circle cx="107.7" cy="129.8"/><circle cx="100.3" cy="89.9" class="o"/><circle cx="64.9" cy="114.5"/><circle cx="93.1" cy="126.8"/><circle cx="144.4" cy="134.3"/><circle cx="146.9" cy="131.0"/><circle cx="113.7" cy="87.3"/><circle cx="117.1" cy="127.0"/><circle cx="143.1" cy="88.6"/><circle cx="89.0" cy="129.0"/><circle cx="142.8" cy="130.3"/><circle cx="122.3" cy="85.1"/><circle cx="131.4" cy="129.7"/><circle cx="97.4" cy="101.6"/><circle cx="122.5" cy="99.5"/><circle cx="100.7" cy="130.4"/><circle cx="116.8" cy="121.2"/><circle cx="145.6" cy="67.3"/><circle cx="108.3" cy="112.1" class="o"/><circle cx="89.1" cy="131.7"/><circle cx="97.1" cy="102.4"/><circle cx="122.2" cy="89.3"/><circle cx="86.9" cy="126.7"/><circle cx="138.9" cy="105.3"/><circle cx="112.0" cy="90.8"/><circle cx="95.1" cy="134.4"/><circle cx="118.3" cy="123.5"/><circle cx="114.9" cy="129.4"/><circle cx="98.7" cy="100.8" class="o"/><circle cx="132.7" cy="125.1"/><circle cx="133.8" cy="134.5"/><circle cx="85.2" cy="122.3" class="o"/><circle cx="99.1" cy="83.4"/><circle cx="80.1" cy="92.2"/><circle cx="114.1" cy="79.7"/><circle cx="85.8" cy="128.7"/><circle cx="136.2" cy="131.2"/><circle cx="114.9" cy="85.8"/><circle cx="135.7" cy="101.3"/><circle cx="103.0" cy="91.2"/><circle cx="78.6" cy="78.1" class="o"/><circle cx="121.4" cy="126.3"/><circle cx="102.8" cy="121.0"/><circle cx="127.4" cy="128.1"/><circle cx="91.4" cy="133.9"/><circle cx="117.5" cy="130.7"/><circle cx="150.2" cy="128.2"/><circle cx="111.7" cy="126.0"/><circle cx="106.9" cy="125.4"/><circle cx="115.6" cy="113.1"/><circle cx="91.3" cy="126.3"/><circle cx="95.2" cy="127.5"/><circle cx="148.9" cy="126.6"/><circle cx="90.2" cy="111.5"/><circle cx="71.6" cy="108.2"/><circle cx="135.8" cy="83.8"/><circle cx="94.5" cy="84.0"/><circle cx="118.8" cy="126.3"/><circle cx="117.8" cy="125.2"/><circle cx="82.4" cy="105.9"/><circle cx="135.1" cy="96.4"/><circle cx="97.8" cy="92.6"/><circle cx="87.1" cy="134.3"/><circle cx="106.8" cy="128.3"/><circle cx="99.5" cy="125.9"/><circle cx="131.6" cy="110.8"/><circle cx="143.1" cy="73.1"/><circle cx="104.2" cy="128.7"/><circle cx="117.2" cy="81.4" class="o"/><circle cx="89.6" cy="92.7"/><circle cx="144.1" cy="131.5"/><circle cx="131.3" cy="89.9"/><circle cx="129.2" cy="109.0"/><circle cx="131.5" cy="129.5"/><circle cx="167.5" cy="130.5"/><circle cx="125.7" cy="120.5" class="o"/><circle cx="99.6" cy="94.3"/><circle cx="91.7" cy="130.4"/><circle cx="142.0" cy="116.0"/><circle cx="130.8" cy="126.1"/><circle cx="74.8" cy="121.0"/><circle cx="75.8" cy="138.7"/><circle cx="107.8" cy="131.1"/><circle cx="125.4" cy="93.5"/><circle cx="68.5" cy="114.9"/><circle cx="111.0" cy="55.6"/><circle cx="144.7" cy="120.3"/><circle cx="112.9" cy="131.7"/><circle cx="130.4" cy="77.3"/><circle cx="92.4" cy="55.3"/><circle cx="111.9" cy="77.6"/><circle cx="165.0" cy="130.2"/><circle cx="90.9" cy="101.2"/><circle cx="110.0" cy="125.6"/><circle cx="133.2" cy="121.3"/><circle cx="65.3" cy="132.1"/><circle cx="112.2" cy="129.3"/><circle cx="147.8" cy="130.0"/><circle cx="161.0" cy="119.0"/><circle cx="146.6" cy="74.8"/><circle cx="131.6" cy="118.4"/><circle cx="119.6" cy="126.0"/><circle cx="123.3" cy="127.9"/><circle cx="95.4" cy="131.4"/><circle cx="101.7" cy="73.5" class="o"/><circle cx="92.3" cy="137.6"/><circle cx="98.1" cy="131.0"/><circle cx="146.2" cy="132.9"/><circle cx="77.4" cy="120.9"/><circle cx="147.9" cy="131.8"/><circle cx="76.2" cy="130.0"/><circle cx="94.7" cy="82.4" class="o"/><circle cx="135.0" cy="127.3"/><circle cx="100.5" cy="121.2"/><circle cx="119.1" cy="137.3"/><circle cx="102.2" cy="90.7"/><circle cx="122.6" cy="126.8"/><circle cx="100.0" cy="82.7"/><circle cx="79.0" cy="134.6" class="o"/><circle cx="105.8" cy="130.5"/><circle cx="79.8" cy="122.9"/><circle cx="114.2" cy="117.5"/><circle cx="116.8" cy="47.2"/><circle cx="111.8" cy="126.1" class="o"/><circle cx="73.3" cy="129.7"/><circle cx="98.5" cy="91.4"/><circle cx="114.6" cy="71.3"/><circle cx="99.6" cy="135.3"/><circle cx="86.5" cy="100.1"/><circle cx="104.1" cy="86.8"/><circle cx="121.0" cy="125.9"/><circle cx="94.7" cy="125.3"/><circle cx="84.6" cy="127.4"/><circle cx="101.3" cy="110.6"/><circle cx="131.3" cy="66.0"/><circle cx="117.4" cy="98.8"/><circle cx="131.6" cy="60.2"/><circle cx="122.0" cy="83.2"/><circle cx="123.4" cy="130.5"/><circle cx="125.4" cy="139.1"/><circle cx="92.3" cy="94.2" class="o"/><circle cx="78.4" cy="137.3"/><circle cx="87.1" cy="128.0"/><circle cx="121.3" cy="121.4"/><circle cx="116.5" cy="132.4" class="o"/><circle cx="116.9" cy="127.2"/><circle cx="132.6" cy="87.9"/><circle cx="107.3" cy="136.7"/><circle cx="148.5" cy="134.1"/><circle cx="124.9" cy="133.4"/><circle cx="85.1" cy="50.2"/><circle cx="112.6" cy="123.9"/><circle cx="85.2" cy="135.2"/><circle cx="107.0" cy="113.1"/><circle cx="131.8" cy="91.7"/><circle cx="129.1" cy="127.2"/><circle cx="121.8" cy="120.9"/><circle cx="101.3" cy="96.0"/><circle cx="110.5" cy="136.2" class="o"/><circle cx="136.9" cy="131.8"/><circle cx="92.2" cy="131.8"/><circle cx="124.0" cy="60.3"/><circle cx="96.2" cy="134.3"/><circle cx="133.8" cy="127.6" class="o"/><circle cx="137.2" cy="135.0"/><circle cx="141.1" cy="133.0"/><circle cx="111.3" cy="119.7"/><circle cx="141.2" cy="131.9"/><circle cx="138.4" cy="133.1"/><circle cx="105.3" cy="91.2"/><circle cx="108.2" cy="123.3"/><circle cx="127.9" cy="90.9"/><circle cx="98.9" cy="96.8" class="o"/><circle cx="132.7" cy="69.5"/><circle cx="143.7" cy="133.1"/><circle cx="98.5" cy="127.0"/><circle cx="146.3" cy="86.6"/><circle cx="123.2" cy="90.5"/><circle cx="121.8" cy="131.5"/><circle cx="90.1" cy="95.6"/><circle cx="143.3" cy="138.9"/><circle cx="93.3" cy="131.7"/><circle cx="136.1" cy="128.8"/><circle cx="72.6" cy="126.6"/><circle cx="124.9" cy="128.3"/><circle cx="159.3" cy="126.2"/><circle cx="115.0" cy="133.9"/><circle cx="68.9" cy="130.8"/><circle cx="131.6" cy="118.9" class="o"/><circle cx="80.0" cy="139.7" class="o"/><circle cx="165.1" cy="108.8"/><circle cx="128.9" cy="108.4"/><circle cx="140.4" cy="138.9"/><circle cx="112.8" cy="127.8"/><circle cx="82.8" cy="90.0"/><circle cx="99.5" cy="132.3" class="o"/><circle cx="126.2" cy="123.2"/><circle cx="112.2" cy="70.4"/><circle cx="145.4" cy="96.6"/><circle cx="103.5" cy="129.8" class="o"/><circle cx="99.3" cy="126.1"/><circle cx="136.8" cy="127.1"/><circle cx="117.2" cy="122.3"/><circle cx="70.5" cy="114.4" class="o"/><circle cx="132.2" cy="53.4"/><circle cx="107.8" cy="132.6"/><circle cx="109.6" cy="133.2"/><circle cx="69.2" cy="116.5"/><circle cx="140.2" cy="133.4"/><circle cx="110.4" cy="129.7"/><circle cx="84.8" cy="134.6"/><circle cx="121.3" cy="125.5"/><circle cx="107.3" cy="100.6"/><circle cx="125.9" cy="134.3"/><circle cx="99.2" cy="131.3" class="o"/><circle cx="88.1" cy="131.5"/><circle cx="102.3" cy="87.9"/><circle cx="141.9" cy="122.0"/><circle cx="104.6" cy="129.1"/><circle cx="115.0" cy="43.5"/><circle cx="82.3" cy="126.6"/><circle cx="160.2" cy="128.3"/><circle cx="114.9" cy="120.3"/><circle cx="129.2" cy="85.6"/><circle cx="93.7" cy="115.2"/><circle cx="128.6" cy="103.5"/><circle cx="70.0" cy="103.9"/><circle cx="132.9" cy="131.7"/><circle cx="113.1" cy="94.3"/><circle cx="86.7" cy="132.0"/><circle cx="92.7" cy="128.4"/><circle cx="108.1" cy="128.3"/><circle cx="105.6" cy="131.0"/><circle cx="106.9" cy="110.5"/><circle cx="134.4" cy="131.7"/><circle cx="91.0" cy="88.6"/><circle cx="122.1" cy="135.1"/><circle cx="66.4" cy="135.7" class="o"/><circle cx="73.0" cy="130.2"/><circle cx="130.4" cy="78.7" class="o"/><circle cx="91.8" cy="34.2"/><circle cx="111.0" cy="140.0"/><circle cx="88.9" cy="77.8"/><circle cx="124.6" cy="87.7"/><circle cx="93.5" cy="123.2"/><circle cx="81.8" cy="127.8"/><circle cx="101.9" cy="132.2"/><circle cx="137.9" cy="131.3"/><circle cx="134.5" cy="133.5"/><circle cx="110.8" cy="134.4" class="o"/><circle cx="138.6" cy="66.4"/><circle cx="123.7" cy="98.4"/><circle cx="121.1" cy="111.2"/><circle cx="80.7" cy="104.6"/><circle cx="81.7" cy="95.4"/><circle cx="109.2" cy="122.9"/><circle cx="132.4" cy="104.7"/><circle cx="117.5" cy="135.0"/><circle cx="170.4" cy="130.4"/><circle cx="109.6" cy="129.3" class="o"/><circle cx="120.0" cy="100.0"/><circle cx="149.7" cy="136.9"/><circle cx="167.1" cy="134.3"/><circle cx="119.9" cy="132.3"/><circle cx="168.6" cy="137.4"/><circle cx="159.1" cy="124.5"/><circle cx="72.5" cy="123.6" class="o"/><circle cx="79.6" cy="136.9"/><circle cx="113.3" cy="129.7"/><circle cx="121.4" cy="137.8" class="o"/><circle cx="107.0" cy="99.9"/><circle cx="122.5" cy="109.6"/><circle cx="129.1" cy="105.6"/><circle cx="79.9" cy="132.4"/><circle cx="117.9" cy="122.4"/><circle cx="68.5" cy="117.1"/><circle cx="86.1" cy="134.5"/><circle cx="86.1" cy="138.8"/><circle cx="140.3" cy="76.4"/><circle cx="86.1" cy="90.6"/><circle cx="91.9" cy="129.8"/><circle cx="109.6" cy="134.1"/><circle cx="97.2" cy="136.1"/><circle cx="90.7" cy="92.4"/><circle cx="136.6" cy="127.4" class="o"/><circle cx="111.9" cy="96.3"/><circle cx="75.3" cy="103.2" class="o"/><circle cx="169.8" cy="134.6"/><circle cx="129.7" cy="136.8" class="o"/><circle cx="130.3" cy="138.6"/><circle cx="162.2" cy="124.9"/><circle cx="110.2" cy="126.5"/><circle cx="87.2" cy="134.0"/><circle cx="124.6" cy="134.0"/><circle cx="119.1" cy="131.6"/><circle cx="152.4" cy="117.5"/><circle cx="137.6" cy="135.6"/><circle cx="118.5" cy="74.8"/><circle cx="79.1" cy="129.3" class="o"/><circle cx="83.4" cy="130.0"/><circle cx="108.5" cy="92.0"/><circle cx="111.8" cy="129.4"/><circle cx="115.6" cy="132.8"/><circle cx="139.1" cy="114.6"/><circle cx="99.6" cy="116.4"/><circle cx="86.2" cy="127.1" class="o"/><circle cx="202.9" cy="129.1"/><circle cx="128.8" cy="138.1"/><circle cx="85.7" cy="122.1"/><circle cx="148.9" cy="116.7"/><circle cx="139.9" cy="91.4"/><circle cx="81.1" cy="137.1"/><circle cx="66.6" cy="129.4"/><circle cx="76.5" cy="133.6"/><circle cx="112.4" cy="41.1"/><circle cx="114.5" cy="82.3"/><circle cx="150.7" cy="94.6"/><circle cx="125.4" cy="67.8"/><circle cx="139.9" cy="85.3"/><circle cx="120.8" cy="110.8"/><circle cx="114.3" cy="131.3"/><circle cx="108.3" cy="126.8"/><circle cx="112.9" cy="88.2"/><circle cx="99.2" cy="65.7"/><circle cx="116.7" cy="105.6"/><circle cx="85.0" cy="103.0" class="o"/><circle cx="107.2" cy="116.7"/><circle cx="110.4" cy="133.6"/><circle cx="123.3" cy="133.2"/><circle cx="90.0" cy="124.1"/><circle cx="104.3" cy="85.1"/><circle cx="100.6" cy="129.5"/><circle cx="138.7" cy="130.7"/><circle cx="70.5" cy="119.7"/><circle cx="111.9" cy="130.7"/><circle cx="138.9" cy="129.0"/><circle cx="109.2" cy="89.3" class="o"/><circle cx="121.1" cy="133.1"/><circle cx="106.6" cy="137.3"/><circle cx="128.5" cy="101.5"/><circle cx="75.3" cy="134.9"/><circle cx="144.5" cy="136.8"/><circle cx="135.5" cy="92.1"/><circle cx="122.0" cy="65.1" class="o"/><circle cx="78.3" cy="133.7"/><circle cx="102.5" cy="133.8"/><circle cx="133.9" cy="130.4"/><circle cx="136.5" cy="99.5"/><circle cx="94.0" cy="91.5"/><circle cx="89.1" cy="136.5"/><circle cx="109.6" cy="131.3"/><circle cx="105.3" cy="78.7"/><circle cx="88.6" cy="129.0" class="o"/><circle cx="130.1" cy="103.8"/><circle cx="136.0" cy="125.9"/><circle cx="111.7" cy="126.1"/><circle cx="122.0" cy="104.7"/><circle cx="95.3" cy="92.2"/><circle cx="104.3" cy="129.1"/><circle cx="90.9" cy="131.6"/><circle cx="162.9" cy="138.0"/><circle cx="132.2" cy="134.4"/><circle cx="84.9" cy="125.4"/><circle cx="128.7" cy="109.4"/><circle cx="104.4" cy="87.1"/><circle cx="122.5" cy="137.2"/><circle cx="84.2" cy="136.3"/><circle cx="130.2" cy="129.3"/><circle cx="87.1" cy="126.7" class="o"/><circle cx="79.2" cy="134.1"/><circle cx="105.4" cy="129.3"/><circle cx="103.8" cy="67.6"/><circle cx="86.1" cy="87.5" class="o"/><circle cx="170.6" cy="137.6"/></g>
<rect x="171.4" y="6.4" width="84.0" height="33.2" rx="1.2" fill="#fff" fill-opacity="0.8" stroke="#d0d0d0" stroke-width="0.7"/>
<text class="lt" x="212.7" y="15.5" text-anchor="middle">CoronaryHeartDisease</text>
<circle cx="208.1" cy="23.6" r="2.50" fill="#1f77b4" stroke="#fff" stroke-width="0.4"/>
<text x="223.2" y="25.8" text-anchor="middle">0</text>
<circle cx="208.1" cy="34.2" r="2.50" fill="#ff7f0e" stroke="#fff" stroke-width="0.4"/>
<text x="223.2" y="36.3" text-anchor="middle">1</text>
<rect x="313.6" y="7.3" width="226.6" height="146.9" fill="#fff" stroke="#6c6c6c" stroke-width="1"/>
<text x="327.6" y="165.0" text-anchor="middle">2</text>
<text x="366.4" y="165.0" text-anchor="middle">4</text>
<text x="405.3" y="165.0" text-anchor="middle">6</text>
<text x="444.1" y="165.0" text-anchor="middle">8</text>
<text x="482.9" y="165.0" text-anchor="middle">10</text>
<text x="521.7" y="165.0" text-anchor="middle">12</text>
<text x="308.2" y="140.1" text-anchor="end">5</text>
<text x="308.2" y="119.1" text-anchor="end">10</text>
<text x="308.2" y="98.2" text-anchor="end">15</text>
<text x="308.2" y="77.2" text-anchor="end">20</text>
<text x="308.2" y="56.3" text-anchor="end">25</text>
<text x="308.2" y="35.3" text-anchor="end">30</text>
<text x="308.2" y="14.4" text-anchor="end">35</text>
<path d="M327.6 154.2v2.4M366.4 154.2v2.4M405.3 154.2v2.4M444.1 154.2v2.4M482.9 154.2v2.4M521.7 154.2v2.4M313.6 137.2h-2.1M313.6 116.2h-2.1M313.6 95.3h-2.1M313.6 74.3h-2.1M313.6 53.4h-2.1M313.6 32.4h-2.1M313.6 11.5h-2.1" stroke="#4d4d4d" stroke-width="0.8" fill="none"/>
<text x="425.5" y="175.0" text-anchor="middle">Cholesterol</text>
<text transform="translate(286.8 87.0) rotate(-90)" text-anchor="middle">Glucose</text>
<text class="lab" x="427.4" y="186.5" text-anchor="middle">b</text>
<path d="M400.1 79.3h0M402.0 72.0h0M426.1 91.9h0M404.9 68.4h0M377.0 74.6h0M394.3 92.1h0M379.9 85.3h0M425.6 98.2h0M371.4 118.5h0M398.8 79.8h0M418.7 82.1h0M385.7 100.8h0M358.3 106.9h0M416.7 119.0h0M365.3 112.6h0M414.3 99.4h0M375.3 99.6h0M403.1 105.0h0M414.2 114.8h0M430.1 64.7h0M426.6 84.1h0M372.4 100.6h0M365.4 107.3h0M391.5 83.5h0M429.0 85.9h0M436.8 103.2h0M434.5 105.4h0M370.9 106.0h0M388.7 91.9h0M401.3 101.7h0M375.6 101.8h0M421.7 110.7h0M413.9 113.1h0M420.7 91.0h0M418.2 70.9h0M394.5 112.3h0M416.0 111.2h0M396.6 80.6h0M415.1 99.6h0M394.3 105.6h0M381.7 93.8h0M449.3 71.3h0M416.8 85.0h0M348.0 114.5h0M433.9 82.2h0M363.6 85.8h0M384.5 101.3h0M425.0 107.6h0M406.5 95.6h0M394.9 66.8h0M385.4 87.5h0M388.9 76.0h0M418.4 83.7h0M400.1 84.9h0M402.0 80.9h0M394.3 93.6h0M398.3 106.5h0M423.4 76.7h0M389.6 118.1h0M414.9 72.6h0M446.5 79.3h0M410.4 74.6h0M407.3 107.8h0M412.8 116.6h0M393.5 94.6h0M396.6 95.4h0M380.1 107.5h0M448.9 115.3h0M399.3 98.2h0M413.6 68.4h0M414.6 115.6h0M443.2 112.5h0M355.1 107.2h0M443.0 111.4h0M370.7 66.7h0M386.0 104.0h0M392.8 114.2h0M415.6 97.7h0M403.3 102.4h0M365.6 114.2h0M406.4 100.8h0M420.8 68.4h0M379.5 101.5h0M434.7 93.8h0M414.8 68.3h0M395.6 111.9h0M401.3 117.9h0M433.2 88.1h0M385.8 92.1h0M390.0 85.8h0M390.7 99.8h0M409.7 105.7h0M366.0 105.3h0M352.1 76.8h0M368.9 106.1h0M394.7 97.3h0M371.6 72.1h0M335.5 115.5h0M414.4 76.3h0M392.1 118.2h0M376.7 86.2h0M404.7 68.2h0M368.7 103.7h0M416.5 95.8h0M393.0 70.1h0M404.9 96.8h0M410.2 107.4h0M404.9 99.1h0M378.9 112.0h0M368.6 117.0h0M412.6 110.8h0M440.7 117.5h0M424.9 87.2h0M369.9 74.6h0M352.6 103.0h0M418.3 86.1h0M395.6 68.5h0M407.5 107.1h0M425.6 81.1h0M389.2 79.6h0M366.9 72.0h0M412.7 103.7h0M422.4 114.7h0M380.3 78.4h0M377.0 101.9h0M362.8 69.1h0M394.2 95.8h0M354.5 92.2h0M371.7 115.3h0M406.5 109.2h0M408.9 76.8h0M389.9 92.4h0M423.1 89.4h0M371.9 85.5h0M451.5 92.4h0M418.0 108.9h0M406.9 97.7h0M378.5 94.6h0M404.1 78.0h0M373.3 92.5h0M363.8 70.7h0M406.9 117.7h0M399.7 105.9h0M431.0 75.1h0M421.3 81.7h0M413.6 77.9h0M386.0 66.4h0M400.5 103.8h0M340.9 116.8h0M357.8 93.5h0M379.3 89.0h0M376.2 103.1h0M439.8 89.6h0M406.8 94.6h0M370.1 85.8h0M394.8 91.5h0M393.3 105.1h0M356.8 68.7h0M448.5 93.8h0M418.6 106.9h0M430.6 106.1h0M355.5 100.2h0M421.8 97.4h0M361.2 112.7h0M391.8 116.0h0M411.8 73.7h0M393.9 111.5h0M380.1 101.7h0M348.4 80.9h0M427.2 115.4h0M403.4 99.7h0M341.8 116.5h0M417.9 103.0h0M394.8 77.0h0M353.8 88.6h0M405.4 82.0h0M357.0 103.7h0M386.3 88.4h0M446.6 99.6h0M370.8 89.6h0M391.4 82.0h0M353.4 78.3h0M396.7 80.2h0M367.5 92.2h0M386.0 77.2h0M388.0 96.7h0M386.2 104.9h0M381.7 102.4h0M441.1 92.8h0M386.8 87.8h0M371.6 118.3h0M373.9 95.4h0M374.3 75.9h0M382.8 74.1h0M398.2 97.8h0M405.5 69.2h0M408.1 118.9h0M391.0 95.3h0M390.4 118.1h0M417.8 115.1h0M395.1 80.4h0M424.4 109.5h0M392.7 111.6h0M412.5 92.5h0M399.9 82.5h0M430.7 113.3h0M379.1 81.1h0M452.4 65.1h0M404.4 85.1h0M401.3 98.5h0M430.3 112.6h0M405.2 112.2h0M376.2 90.3h0M385.0 95.3h0M396.2 104.2h0M384.0 88.6h0M347.4 117.2h0M407.2 76.8h0M443.0 103.3h0M396.2 69.3h0M405.3 95.3h0M358.8 106.5h0M364.9 81.2h0M428.8 105.2h0M432.7 75.6h0M397.5 74.7h0M421.2 104.2h0M353.4 97.6h0M394.2 99.0h0M388.3 116.7h0M386.3 111.0h0M434.1 76.8h0M343.0 113.0h0M363.2 104.5h0M429.4 100.8h0M424.3 78.3h0M353.6 116.1h0M407.7 85.6h0M370.3 108.9h0M394.8 96.0h0M366.1 105.9h0M378.6 112.0h0M436.6 115.0h0M411.7 65.5h0M390.5 107.5h0M421.1 108.7h0M386.2 85.7h0M372.6 102.3h0M370.7 116.4h0M360.9 82.7h0M428.6 104.9h0M389.7 93.8h0M362.0 111.4h0M394.8 104.4h0M351.7 109.2h0M449.7 74.7h0M390.8 98.9h0M350.7 98.3h0M411.7 84.3h0M415.2 91.9h0M366.3 68.5h0M399.6 90.8h0M389.4 77.2h0M413.5 114.1h0M388.7 87.4h0M353.8 67.5h0M393.5 86.6h0M449.1 91.3h0M407.2 93.5h0M389.9 102.0h0M442.2 103.0h0M374.9 109.3h0M410.4 71.5h0M398.4 95.6h0M360.8 71.7h0M427.6 88.3h0M403.4 82.4h0M340.0 107.4h0M405.1 99.8h0M415.5 118.2h0M425.3 104.4h0M421.3 95.9h0M407.6 101.2h0M421.3 106.4h0M385.6 107.7h0M399.4 99.6h0M408.9 106.4h0M365.4 91.8h0M379.8 91.2h0M417.4 115.2h0M395.2 115.7h0M409.2 81.3h0M416.4 116.9h0M403.5 109.8h0M398.7 90.0h0M419.5 74.1h0M425.5 105.5h0M406.6 100.2h0M392.2 70.6h0M426.2 112.0h0M398.4 117.9h0M361.1 89.7h0M380.0 117.0h0M376.7 111.9h0M364.9 102.2h0M442.0 109.8h0M352.2 76.1h0M415.7 107.9h0M379.9 86.0h0M349.9 117.6h0M351.3 110.0h0M404.1 90.6h0M449.9 113.1h0M369.0 117.4h0M378.4 114.4h0M389.7 85.2h0M430.2 91.8h0M412.6 93.2h0M405.8 76.2h0M351.4 97.0h0M372.5 90.2h0M398.9 100.9h0M402.8 106.3h0M407.0 79.1h0M366.9 83.8h0M419.5 92.0h0M419.8 85.6h0M365.9 116.1h0M363.4 112.9h0M412.2 86.7h0M382.4 109.6h0M402.7 85.3h0M408.0 73.1h0M431.5 96.8h0M387.1 84.5h0M407.4 101.1h0M431.9 101.2h0M413.0 71.7h0M373.5 67.1h0M397.1 101.1h0M412.3 114.9h0M416.6 111.7h0M393.7 81.5h0M396.4 67.2h0M360.5 110.9h0M376.0 86.2h0M422.1 106.3h0M387.5 111.7h0M414.2 99.7h0M383.9 107.7h0M403.0 110.4h0M411.6 116.9h0M394.2 68.6h0M426.5 84.3h0M392.5 97.2h0M389.0 102.0h0M397.7 93.0h0M378.5 107.4h0M365.3 100.3h0M369.4 104.0h0M418.9 106.9h0M406.1 74.4h0M409.1 92.9h0M365.3 81.6h0M370.7 109.5h0M408.7 105.3h0M435.1 109.6h0M407.9 72.2h0M447.1 116.3h0M374.7 107.5h0M390.8 80.4h0M345.6 93.3h0M413.6 117.4h0M445.7 105.5h0M407.2 97.7h0M360.6 97.0h0M388.7 103.4h0M402.2 106.5h0M400.6 85.6h0M386.1 93.2h0M429.5 71.0h0M419.9 104.0h0M357.2 104.8h0M401.7 104.7h0M399.6 96.5h0M436.0 95.3h0M398.1 117.5h0M401.1 106.6h0M359.8 91.4h0M375.2 101.7h0M408.7 80.0h0M412.1 84.9h0M411.4 73.2h0M404.4 95.3h0M360.7 86.8h0M416.7 119.0h0M371.6 82.4h0M424.2 105.3h0M446.7 110.2h0M427.8 111.4h0M401.2 83.1h0M423.4 107.0h0M421.2 83.5h0M432.1 102.4h0M402.6 103.7h0M385.4 96.7h0M430.8 93.3h0M359.8 106.5h0M400.7 91.9h0M358.6 81.8h0M404.2 88.3h0M463.0 89.9h0M387.3 89.0h0M366.2 119.1h0M393.5 87.2h0M372.9 109.8h0M388.8 101.7h0M397.7 112.1h0M395.3 78.4h0M408.0 96.4h0M434.1 98.3h0M379.2 117.8h0M381.2 78.2h0M416.8 111.0h0M386.8 90.9h0M382.6 94.2h0M435.7 76.7h0M363.9 107.2h0M400.5 82.1h0M407.9 99.6h0M425.3 113.1h0M407.1 68.6h0M437.0 118.3h0M394.1 111.8h0M374.0 93.9h0M347.0 96.8h0M391.4 79.6h0M394.0 100.7h0M377.5 78.8h0M400.0 86.0h0M458.9 117.3h0M348.0 111.3h0M373.7 94.2h0M430.8 111.0h0M398.5 69.3h0M414.0 107.9h0M386.1 99.4h0M415.1 88.6h0M426.7 115.5h0M384.8 84.2h0M376.9 100.3h0M350.4 96.6h0M379.1 111.2h0M351.6 113.0h0M389.3 107.0h0M416.6 104.5h0M377.1 78.0h0M392.8 92.4h0M387.7 107.5h0M360.9 79.8h0M426.3 117.4h0M383.5 80.4h0M410.3 103.3h0M432.0 92.4h0M372.5 75.0h0M429.4 109.5h0M393.6 90.6h0M388.8 72.2h0M414.2 92.7h0M358.6 92.5h0M419.5 84.7h0M408.5 71.8h0M407.5 65.4h0M414.7 96.4h0M395.4 103.8h0M392.2 111.3h0M382.4 114.0h0M402.4 84.6h0M396.3 73.9h0M417.0 73.7h0M395.3 103.8h0M444.7 111.1h0M406.8 81.1h0M376.5 74.5h0M364.3 100.6h0M418.9 75.9h0M378.0 95.2h0M396.6 97.0h0M374.4 110.6h0M417.2 88.4h0M423.4 108.1h0M395.5 114.6h0M406.7 86.7h0M418.5 111.5h0M423.9 82.4h0M388.4 101.2h0M380.1 117.2h0M357.3 116.5h0M426.3 73.8h0M414.2 115.5h0M433.7 106.8h0M385.7 78.7h0M431.5 96.2h0M408.2 68.3h0M373.1 115.2h0M387.3 105.9h0M401.2 85.9h0M392.4 74.6h0M409.1 100.4h0M393.3 68.9h0M438.6 99.8h0M375.3 111.9h0M405.6 87.4h0M360.3 94.2h0M403.7 104.7h0M440.4 71.4h0M377.4 107.4h0M359.5 115.6h0M379.3 74.5h0M368.1 88.1h0M361.4 112.7h0M410.7 86.2h0M364.4 114.4h0M398.6 98.3h0M378.9 102.4h0M454.8 76.6h0M406.9 81.0h0M367.8 75.6h0M393.8 109.5h0M405.3 87.0h0M364.7 81.0h0M432.5 92.1h0M385.7 68.7h0M374.4 108.7h0M383.6 100.6h0M355.2 95.5h0M372.9 91.8h0M430.0 107.6h0M368.6 83.7h0M416.5 76.3h0M376.8 74.9h0M350.4 108.2h0M391.3 101.3h0M393.3 112.5h0M375.5 105.8h0M409.2 95.5h0M367.6 67.5h0M367.4 77.7h0M426.4 106.8h0M432.0 116.0h0M394.0 112.1h0M417.1 105.5h0M369.6 106.2h0M455.9 113.7h0M365.5 81.6h0M363.5 103.6h0M374.1 72.5h0M383.2 99.5h0M429.3 111.5h0M339.0 102.2h0M430.8 105.5h0M341.4 117.4h0M371.0 99.2h0M413.7 92.3h0M363.4 102.9h0M388.6 105.5h0M388.3 69.7h0M407.7 80.7h0M417.1 112.7h0M403.5 116.8h0M422.7 116.3h0M457.8 67.1h0M380.0 77.1h0M402.1 92.5h0M369.9 100.6h0M369.4 97.9h0M385.6 74.9h0M380.5 118.9h0M380.5 83.2h0M394.8 110.5h0M409.0 111.4h0M346.7 84.6h0M361.4 95.3h0M357.2 79.4h0M404.6 74.2h0M369.2 82.5h0M380.4 97.3h0M419.6 65.6h0M374.1 98.2h0M414.7 105.1h0M428.3 71.4h0M397.9 115.0h0M391.2 107.7h0M437.5 112.1h0M383.8 76.2h0M387.2 85.7h0M359.9 88.9h0M371.4 101.3h0M364.2 71.8h0M399.7 113.8h0M386.9 110.9h0M340.9 115.2h0M386.8 111.9h0M384.0 95.0h0M386.7 91.9h0M407.2 112.5h0M397.6 104.6h0M369.2 73.1h0M349.3 83.9h0M376.7 91.9h0M415.3 113.6h0M405.8 100.0h0M385.1 98.5h0M380.2 84.0h0M430.0 92.1h0M423.2 109.8h0M457.4 115.8h0M385.6 97.6h0M417.4 91.2h0M365.3 87.5h0M373.2 102.4h0M417.7 79.7h0M375.2 111.4h0M376.4 100.4h0M371.4 77.2h0M392.4 76.3h0M420.6 67.5h0M391.8 85.3h0M422.9 91.8h0M384.3 98.0h0M419.8 114.5h0M410.8 90.1h0M403.3 118.2h0M434.8 79.6h0M414.6 64.5h0M415.2 92.1h0M381.3 95.1h0M442.4 107.6h0M405.7 98.1h0M451.2 81.6h0M446.3 71.9h0M380.3 117.1h0M397.7 89.5h0M377.5 117.7h0M366.4 90.0h0M375.4 90.4h0M378.3 71.7h0M385.9 101.2h0M451.7 76.4h0M365.4 118.0h0M429.7 118.5h0M344.4 104.9h0M379.3 85.7h0M405.7 101.8h0M418.8 95.3h0M413.7 111.2h0M443.9 86.8h0M366.1 84.0h0M430.7 98.7h0M366.8 89.2h0M414.2 111.1h0M405.5 78.5h0M395.8 70.1h0M357.5 105.4h0M340.1 118.2h0M416.0 109.0h0M395.1 71.7h0M355.8 91.5h0M409.0 102.8h0M380.6 74.1h0M396.7 106.6h0M391.9 95.8h0M407.2 83.5h0M402.9 76.4h0M387.8 83.6h0M387.3 114.2h0M418.1 93.8h0M381.2 69.5h0M348.2 108.5h0M399.3 105.5h0M363.9 113.6h0M451.2 102.5h0M427.7 83.3h0M418.6 98.2h0M385.9 103.7h0M351.8 111.2h0M401.1 116.8h0M402.9 114.6h0M416.2 107.2h0M376.3 97.3h0M408.0 118.1h0M410.8 75.4h0M382.2 106.4h0M388.0 89.3h0M363.2 93.3h0M393.2 85.1h0M402.4 79.3h0M402.4 102.1h0M440.6 100.2h0M386.9 117.3h0M394.1 90.5h0M438.1 86.2h0M363.5 108.0h0M376.1 79.1h0M398.5 90.1h0M442.5 99.9h0M397.2 117.8h0M404.9 119.0h0M377.8 113.6h0M428.1 67.8h0M359.6 68.1h0M379.1 82.9h0M370.1 84.4h0M407.6 95.1h0M401.4 109.4h0M427.8 108.2h0M424.8 68.8h0M392.6 116.9h0M391.0 109.5h0M395.4 90.1h0M386.1 111.3h0M364.9 85.3h0M391.5 89.8h0M401.8 102.6h0M359.1 95.3h0M413.3 106.2h0M465.0 76.2h0M421.5 73.2h0M351.4 118.3h0M383.5 71.2h0M359.9 82.5h0M414.8 77.7h0M416.8 75.9h0M410.5 83.7h0M379.4 116.9h0M420.5 104.8h0M369.1 100.1h0M384.2 80.6h0M394.2 105.8h0M368.6 112.8h0M417.6 95.4h0M373.6 99.6h0M411.9 95.9h0M379.9 107.0h0M386.9 91.7h0M409.0 82.6h0M380.2 80.3h0M356.4 101.2h0M381.8 102.8h0M399.3 71.8h0M389.6 78.3h0M415.8 76.0h0M391.0 93.6h0M400.4 113.3h0M388.4 85.0h0M385.8 86.3h0M421.3 107.0h0M417.2 84.9h0M425.1 106.0h0M353.0 74.3h0M370.5 103.5h0M378.4 83.9h0M381.2 98.4h0M368.3 117.7h0M431.9 96.7h0M394.4 97.4h0M406.4 101.5h0M438.6 87.7h0M362.6 94.2h0M339.2 103.2h0M391.3 92.1h0M459.9 81.4h0M409.5 112.7h0M393.4 98.4h0M441.6 110.8h0M390.3 104.1h0M410.0 78.4h0M420.8 71.0h0M388.8 103.2h0M400.3 115.4h0M410.4 90.1h0M444.9 81.7h0M401.6 80.0h0M408.1 98.2h0M419.6 93.0h0M410.7 74.0h0M349.3 91.4h0M439.1 93.0h0M364.7 92.3h0M369.7 109.5h0M382.5 70.7h0M393.7 85.6h0M407.8 75.4h0M383.0 91.3h0M387.2 102.7h0M416.7 81.1h0M415.9 116.8h0M383.9 76.3h0M405.4 105.3h0M381.2 100.3h0M423.7 108.4h0M391.3 116.8h0M361.7 116.8h0M371.2 103.1h0M361.3 90.4h0M404.9 110.1h0M435.5 114.2h0M392.2 81.4h0M356.6 114.4h0M340.2 114.1h0M362.5 67.5h0M394.5 73.3h0M378.1 114.5h0M363.7 79.6h0M379.9 110.0h0M392.4 104.2h0M385.2 98.4h0M408.7 79.6h0M390.1 96.6h0M337.8 110.2h0M413.2 93.9h0M367.5 88.4h0M397.4 81.4h0M435.7 77.5h0M371.5 92.6h0M399.0 103.8h0M443.2 75.6h0M345.0 109.4h0M374.6 90.7h0M372.7 111.7h0M365.4 110.7h0M352.5 99.5h0M403.6 81.6h0M442.6 72.4h0M401.5 99.5h0M410.9 103.2h0M384.6 79.1h0M349.6 110.2h0M405.9 100.0h0M400.8 76.5h0M340.5 110.6h0M393.0 110.6h0M379.4 83.0h0M425.9 116.4h0M390.3 104.2h0M355.1 119.0h0M415.5 100.8h0M399.5 84.8h0M377.7 102.8h0M407.2 83.5h0M416.5 115.8h0M376.6 97.3h0M348.5 111.3h0M367.0 75.4h0M408.9 73.2h0M406.6 89.7h0M364.6 110.8h0M403.1 86.0h0M348.6 83.4h0M425.7 69.6h0M417.6 101.2h0M390.9 115.2h0M414.5 72.9h0M396.4 111.8h0M409.2 109.5h0M347.8 110.1h0M397.8 80.6h0M422.5 114.1h0M371.0 107.9h0M376.7 114.4h0M442.4 98.0h0M429.1 108.8h0M387.9 112.3h0M419.3 115.2h0M435.6 107.9h0M405.5 68.0h0M366.6 67.3h0M375.8 76.6h0M419.1 99.2h0M393.9 117.3h0M414.9 91.7h0M418.9 100.4h0M426.0 89.2h0M425.2 98.2h0M407.5 102.3h0M387.0 80.4h0M351.3 102.3h0M386.5 114.7h0M350.1 85.9h0M359.2 102.9h0M436.7 73.4h0M447.7 106.2h0M354.1 118.4h0M397.5 67.0h0M368.3 69.6h0M346.5 104.0h0M423.6 66.6h0M404.5 67.3h0M452.9 112.2h0M378.4 104.9h0M409.7 103.5h0M380.3 105.6h0M429.8 107.6h0M385.3 92.1h0M382.5 81.4h0M352.2 113.6h0M411.8 83.4h0M357.5 98.7h0M405.1 106.5h0M392.8 110.9h0M374.4 84.0h0M443.5 75.9h0M362.7 77.5h0M359.1 95.7h0M370.6 69.5h0M415.5 85.6h0M370.8 72.6h0M341.7 109.8h0M371.5 117.5h0M424.2 85.9h0M391.5 102.4h0M432.9 110.8h0M406.1 67.5h0M404.1 79.5h0M417.0 70.4h0M401.6 74.1h0M435.8 105.3h0M422.1 70.0h0M455.6 105.5h0M379.9 109.9h0M391.1 118.8h0M385.0 75.8h0M380.9 66.4h0M416.2 80.6h0M447.3 80.5h0M421.8 65.8h0M388.7 99.9h0M378.7 90.9h0M433.9 80.0h0M417.7 106.0h0M449.5 117.8h0M416.2 79.8h0M416.9 77.3h0M436.3 114.2h0M357.1 72.2h0M384.7 118.4h0M392.0 76.6h0M411.5 91.4h0M349.0 108.4h0M384.0 87.4h0M375.0 117.1h0M392.3 116.1h0M387.8 98.6h0M373.3 77.9h0M440.9 87.4h0M396.4 90.7h0M367.7 72.3h0M390.9 109.2h0M366.8 65.2h0M399.4 77.5h0M436.0 108.5h0M393.6 96.4h0M398.3 76.5h0M440.4 81.7h0M366.6 115.2h0M375.5 92.8h0M407.0 112.5h0M373.5 90.7h0M428.6 103.0h0M377.9 105.4h0M323.7 118.3h0M329.6 79.0h0M329.6 105.8h0M500.4 68.9h0M508.1 96.1h0M467.4 81.5h0M460.6 67.6h0M463.5 102.8h0M465.4 100.3h0M461.5 111.2h0M457.7 114.6h0M337.3 115.0h0M333.4 112.5h0" stroke="#1f77b4" stroke-width="4.76" stroke-linecap="round" fill="none"/>
<path d="M385.2 132.1h0M358.0 127.1h0M331.5 136.7h0M420.0 138.7h0M376.6 138.3h0M360.8 131.7h0M406.2 132.1h0M385.7 135.6h0M371.5 129.6h0M360.2 129.7h0M350.4 126.4h0M347.1 134.2h0M347.5 141.1h0M348.6 125.1h0M407.3 133.4h0M353.1 134.1h0M378.5 131.8h0M374.1 133.7h0M394.0 130.8h0M386.7 140.2h0M392.1 135.2h0M431.7 142.9h0M416.9 134.8h0M443.3 135.1h0M372.8 132.2h0M338.7 132.0h0M380.6 132.9h0M375.8 133.6h0M405.5 135.6h0M413.0 126.4h0M355.0 129.2h0M376.9 138.1h0M368.4 131.2h0M417.3 134.3h0M339.4 139.1h0M420.4 134.1h0M369.7 125.2h0M350.7 123.4h0M432.3 136.4h0M361.7 140.2h0M383.5 145.6h0M359.8 134.9h0M391.6 138.4h0M341.7 127.3h0M397.4 128.9h0M343.2 132.5h0M411.9 129.8h0M397.9 134.1h0M341.0 135.5h0M406.9 127.7h0M362.1 126.2h0M378.8 141.9h0M453.0 136.2h0M345.5 136.0h0M365.6 138.7h0M419.3 140.4h0M401.2 137.1h0M363.1 139.2h0M380.6 133.5h0M336.9 130.1h0M378.1 128.3h0M370.6 131.9h0M334.7 136.8h0M365.0 132.9h0M389.5 140.7h0M365.0 132.8h0M418.5 141.3h0M386.6 142.0h0M358.0 133.4h0M413.6 142.2h0M361.6 141.2h0M379.3 139.0h0M338.3 131.8h0M401.5 126.5h0M365.3 138.5h0M359.4 135.5h0M344.2 136.2h0M354.0 135.7h0M436.1 132.8h0M387.2 142.1h0M409.1 138.5h0M360.3 133.2h0M379.0 134.1h0M405.7 140.4h0M369.0 134.7h0M387.3 139.5h0M379.3 136.6h0M367.7 129.9h0M357.3 139.4h0M370.9 135.3h0M407.7 134.1h0M351.4 135.8h0M365.2 123.8h0M334.3 141.5h0M376.3 125.1h0M351.9 126.2h0M411.4 140.3h0M400.4 140.2h0M376.9 136.9h0M353.6 128.7h0M353.3 142.6h0M384.7 138.3h0M455.6 133.0h0M405.9 135.3h0M386.7 130.2h0M390.8 134.2h0M435.9 130.4h0M366.8 126.9h0M345.6 133.6h0M424.0 133.0h0M363.4 141.1h0M352.2 138.7h0M400.7 137.6h0M333.1 133.1h0M383.9 136.6h0M358.0 140.0h0M391.4 127.8h0M429.3 130.5h0M394.7 137.1h0M396.8 142.8h0M343.6 129.6h0M371.0 123.4h0M355.8 123.5h0M405.5 135.8h0M402.1 132.0h0M340.6 137.7h0M398.5 131.7h0M386.5 137.0h0M409.3 132.8h0M386.9 138.1h0M385.1 122.3h0M392.4 142.5h0M346.2 135.1h0M380.3 142.6h0M386.4 126.5h0M384.1 133.5h0M343.2 126.3h0M404.0 143.0h0M401.0 130.9h0M385.9 136.1h0M368.1 138.7h0M339.9 131.3h0M333.4 139.2h0M370.8 142.4h0M388.3 132.3h0M370.1 139.0h0M333.1 135.1h0M360.1 142.1h0M368.4 133.2h0M346.0 132.0h0M353.0 137.8h0M401.6 134.0h0M376.5 131.1h0M347.8 145.7h0M410.7 132.4h0M428.5 129.4h0M332.8 141.2h0M353.0 141.2h0M385.4 141.5h0M383.5 131.5h0M380.9 140.9h0M367.5 134.1h0M363.2 134.8h0M344.0 135.1h0M390.2 134.7h0M420.8 135.2h0M358.3 130.2h0M371.0 137.8h0M371.6 134.7h0M352.8 136.7h0M417.6 144.4h0M385.3 129.1h0M400.2 134.2h0M376.3 131.1h0M356.7 124.2h0M412.4 139.7h0M338.1 135.1h0M372.0 133.0h0M392.2 130.5h0M426.1 130.8h0M412.9 122.9h0M402.0 135.4h0M364.4 137.3h0M358.1 136.9h0M405.8 137.6h0M368.0 123.7h0M393.5 142.3h0M350.8 136.9h0M364.2 133.0h0M413.5 129.5h0M391.9 145.5h0M371.0 133.4h0M397.8 133.8h0M427.7 134.6h0M364.9 137.1h0M361.5 142.2h0M399.3 128.9h0M381.0 133.8h0M379.9 136.0h0M408.9 138.8h0M350.6 138.9h0M366.8 139.7h0M382.4 139.2h0M348.2 134.0h0M339.4 125.6h0M426.5 129.7h0M340.4 126.9h0M352.4 132.6h0M344.9 135.5h0M400.9 131.3h0M347.8 131.4h0M400.3 136.8h0M376.9 133.1h0M341.3 142.2h0M358.8 137.2h0M394.2 140.8h0M402.9 122.5h0M437.3 138.9h0M372.3 127.0h0M333.3 130.2h0M393.2 139.6h0M336.5 139.0h0M366.6 136.5h0M355.8 141.8h0M373.5 139.9h0M417.3 141.1h0M420.3 136.3h0M382.5 137.4h0M346.1 129.0h0M398.3 129.6h0M408.9 137.4h0M371.2 132.6h0M411.9 141.9h0M403.4 134.2h0M343.6 137.6h0M410.7 130.4h0M383.2 127.9h0M340.0 143.4h0M376.2 143.2h0M421.5 133.9h0M432.5 138.0h0M342.2 123.7h0M398.8 130.5h0M344.3 137.4h0M378.3 140.6h0M429.4 131.9h0M386.5 127.5h0M340.2 136.2h0M355.7 133.7h0M376.6 132.8h0M375.5 134.8h0M423.1 130.7h0M385.9 140.1h0M375.9 133.4h0M423.1 136.7h0M336.5 142.7h0M420.8 129.3h0M382.5 138.5h0M388.4 137.6h0M342.3 129.5h0M417.5 132.2h0M378.6 134.3h0M343.2 133.6h0M373.2 140.8h0M341.4 143.0h0M386.5 134.6h0M387.1 133.3h0M374.7 130.6h0M365.8 142.9h0M394.3 129.9h0M414.6 135.7h0M338.2 143.0h0M417.8 140.1h0M351.3 136.2h0M377.0 132.5h0M407.9 130.3h0M339.9 140.7h0M387.3 133.1h0M364.6 142.1h0M376.7 134.4h0M361.5 132.6h0M377.0 125.9h0M401.5 123.4h0M413.4 139.9h0M416.2 135.3h0M359.1 136.8h0M374.5 135.4h0M414.7 129.0h0M387.8 137.5h0M339.1 124.2h0M362.5 131.2h0M369.8 131.3h0M389.2 129.7h0M352.5 136.6h0M346.7 135.4h0M383.2 139.2h0M377.4 139.5h0M385.5 140.0h0M376.9 135.7h0M385.3 141.3h0M365.3 137.9h0M338.5 136.9h0M366.6 137.4h0M395.3 133.4h0M362.7 142.8h0M373.8 133.0h0M430.5 135.1h0M351.1 137.7h0M355.5 139.9h0M404.0 132.5h0M377.6 135.1h0M360.8 137.1h0M363.5 123.4h0M332.3 135.9h0M423.2 141.9h0M369.6 137.6h0M370.0 138.1h0M354.2 143.4h0M399.1 137.7h0M352.7 134.1h0M407.8 129.8h0M352.8 123.3h0M354.9 136.1h0M375.9 131.6h0M369.0 134.7h0M378.2 139.4h0M373.9 134.4h0M342.4 129.2h0M401.6 134.6h0M367.5 134.4h0M375.3 133.0h0M357.8 137.6h0M371.9 132.3h0M396.1 140.8h0M391.2 124.2h0M373.3 131.7h0M340.8 132.7h0M351.7 130.1h0M387.5 132.0h0M371.2 139.3h0M375.0 129.6h0M360.7 140.7h0M361.0 142.6h0M373.3 137.7h0M355.6 136.0h0M430.6 133.9h0M413.5 133.1h0M384.9 141.0h0M359.4 128.3h0M381.4 132.7h0M371.6 135.6h0M385.2 124.0h0M366.4 126.6h0M359.1 131.8h0M395.3 127.9h0M433.9 131.4h0M334.5 123.3h0M445.6 141.1h0M436.9 132.7h0M412.6 129.8h0M348.8 130.6h0M401.0 136.7h0M416.2 133.8h0M387.2 139.0h0M399.9 134.1h0M420.5 138.7h0M343.4 126.7h0M388.6 132.9h0M391.0 135.8h0M346.2 129.8h0M363.9 136.3h0M376.8 128.0h0M374.0 138.4h0M366.2 131.0h0M384.5 128.8h0M371.8 139.1h0M377.1 139.1h0M355.8 136.5h0M387.8 130.1h0M425.0 130.8h0M380.8 136.1h0M396.5 136.9h0M396.1 138.5h0M346.3 136.7h0M417.2 136.9h0M423.4 134.5h0M423.8 131.9h0M375.4 129.7h0M425.1 131.0h0M404.4 134.5h0M333.4 122.3h0M390.2 133.4h0M404.9 131.4h0M370.8 137.6h0M340.3 127.4h0M406.6 123.7h0M391.8 139.3h0M391.5 135.3h0M418.3 139.0h0M363.5 128.0h0M379.7 131.8h0M391.7 137.0h0M400.4 142.0h0M370.6 137.4h0M334.6 141.0h0M359.1 128.5h0M363.3 131.7h0M356.6 133.5h0M366.9 133.9h0M401.4 139.4h0M393.0 142.9h0M381.5 126.5h0M345.0 135.7h0M380.0 143.5h0M403.8 132.4h0M408.2 127.9h0M386.7 137.6h0M346.3 129.9h0M416.5 140.2h0M355.4 139.9h0M359.6 131.0h0M390.8 128.1h0M363.6 136.0h0M377.5 138.0h0M386.0 132.2h0M334.9 140.1h0M361.4 132.8h0M368.7 134.7h0M348.0 134.7h0M406.4 130.7h0M396.3 131.2h0M371.0 130.6h0M416.9 136.5h0M414.7 128.4h0M369.6 130.9h0M355.0 137.8h0M400.3 133.5h0M383.2 141.8h0M380.8 125.4h0M351.1 130.5h0M345.5 139.7h0M368.2 139.4h0M356.9 123.7h0M398.4 133.6h0M413.6 139.9h0M380.0 133.1h0M386.2 130.4h0M382.2 138.8h0M378.1 135.2h0M391.6 136.4h0M415.9 132.0h0M396.8 132.8h0M417.8 132.8h0M376.1 131.1h0M394.7 139.3h0M410.2 138.1h0M396.4 136.6h0M397.6 134.8h0M344.3 142.1h0M334.9 140.2h0M437.6 132.4h0M340.3 135.7h0M373.5 133.0h0M385.2 131.8h0M363.9 137.1h0M389.3 124.8h0M369.8 139.8h0M367.4 139.5h0M421.2 137.4h0M419.7 141.8h0M401.6 128.7h0M353.3 129.9h0M339.9 128.0h0M341.3 132.4h0M415.2 128.5h0M404.1 137.7h0M399.3 143.9h0M379.0 134.9h0M386.7 132.4h0M399.2 134.0h0M364.1 137.8h0M377.4 137.1h0M356.0 137.8h0M392.6 134.0h0M374.3 133.4h0M443.8 133.0h0M368.7 133.2h0M380.3 133.6h0M390.0 137.3h0M355.1 135.2h0M381.9 129.1h0M402.6 134.0h0M401.9 139.1h0M395.2 135.9h0M332.3 139.6h0M378.8 143.2h0M387.3 132.6h0M407.2 137.1h0M354.2 133.2h0M352.9 127.7h0M354.6 142.5h0M383.7 128.8h0M393.7 131.4h0M401.6 147.0h0M376.0 140.8h0M376.0 135.3h0M357.2 141.1h0M347.4 141.4h0M394.0 137.1h0M419.8 126.6h0M379.1 138.7h0M369.6 134.6h0M389.6 138.3h0M386.5 126.0h0M391.6 124.1h0M432.8 138.8h0M363.8 132.3h0M398.7 136.4h0M371.9 135.8h0M341.3 133.4h0M397.7 137.2h0M403.4 133.3h0M334.6 131.1h0M378.6 129.2h0M384.7 142.3h0M370.8 135.3h0M391.7 138.9h0M369.3 134.0h0M337.0 144.0h0M348.2 127.5h0M353.4 130.0h0M350.2 133.1h0M352.5 134.1h0M355.2 133.4h0M340.3 130.0h0M358.6 137.0h0M391.5 127.5h0M380.0 141.8h0M376.1 132.5h0M437.9 140.5h0M334.6 126.6h0M373.7 136.0h0M361.6 131.4h0M417.5 128.5h0M409.7 128.8h0M393.8 131.8h0M428.1 130.4h0M360.0 142.8h0M373.0 136.3h0M422.3 140.2h0M407.9 132.9h0M333.9 130.7h0M408.5 141.5h0M405.9 136.0h0M344.1 130.1h0M400.4 136.3h0M398.7 137.0h0M379.2 139.1h0M417.7 130.5h0M343.5 130.1h0M415.8 130.4h0M405.9 127.4h0M350.0 125.0h0M363.4 131.6h0M386.8 135.0h0M377.5 122.5h0M407.5 127.4h0M384.2 139.0h0M357.1 141.8h0M366.3 140.4h0M352.9 134.6h0M357.4 136.8h0M374.2 130.2h0M334.3 131.7h0M364.2 141.6h0M384.4 130.9h0M381.9 127.3h0M391.1 135.2h0M369.4 140.6h0M366.5 136.4h0M377.6 125.9h0M401.0 131.2h0M385.9 137.6h0M393.7 127.8h0M406.9 140.4h0M421.3 129.7h0M412.7 132.4h0M415.4 136.6h0M374.0 138.3h0M356.3 122.6h0M360.4 133.6h0M413.3 125.4h0M360.4 129.6h0M331.9 135.1h0M349.9 129.6h0M350.2 144.4h0M352.0 130.7h0M369.3 134.6h0M371.9 134.1h0M400.8 126.3h0M369.5 138.6h0M334.2 126.6h0M396.6 132.0h0M335.6 128.9h0M416.6 137.0h0M396.7 139.3h0M347.6 138.3h0M377.4 127.5h0M341.6 137.6h0M387.3 130.3h0M406.0 137.4h0M338.6 135.7h0M380.7 124.4h0M405.2 142.1h0M351.9 127.2h0M418.5 132.2h0M394.3 131.5h0M409.3 139.6h0M358.3 139.2h0M362.1 138.8h0M386.1 139.1h0M390.3 129.1h0M383.4 141.1h0M346.2 134.8h0M389.6 129.0h0M401.7 131.1h0M346.1 138.6h0M369.2 127.0h0M370.3 132.1h0M356.0 139.7h0M403.0 139.6h0M391.7 123.4h0M337.5 137.8h0M365.7 134.4h0M336.2 134.8h0M370.0 123.2h0M394.0 137.6h0M411.9 136.8h0M390.0 138.0h0M350.6 132.3h0M332.1 129.3h0M366.0 136.1h0M382.1 125.8h0M384.7 123.2h0M332.7 123.0h0M386.0 136.4h0M376.1 142.8h0M451.3 139.5h0M347.7 140.0h0M400.0 141.3h0M387.5 139.9h0M397.6 142.6h0M404.2 144.3h0M400.5 136.9h0M334.3 137.3h0M373.1 138.8h0M358.1 131.4h0M366.8 135.6h0M349.2 132.2h0M361.6 141.4h0M358.0 128.8h0M408.0 138.2h0M374.3 132.2h0M396.4 128.3h0M383.8 132.2h0M337.9 132.6h0M420.7 132.6h0M371.3 144.9h0M401.8 132.1h0M351.1 127.8h0M349.0 136.7h0M357.7 126.7h0M383.1 123.6h0M356.0 137.5h0M388.5 127.8h0M387.9 140.8h0M433.4 131.0h0M387.5 124.7h0M333.2 129.8h0M410.6 129.5h0M400.8 134.7h0M374.1 133.1h0M341.3 123.1h0M446.9 131.9h0M361.2 123.3h0M382.7 128.1h0M394.3 135.5h0M415.1 131.5h0M361.2 141.5h0M367.7 141.7h0M378.7 137.6h0M349.6 128.3h0M389.4 132.5h0M386.1 138.0h0M352.5 139.8h0M355.0 131.2h0M373.5 140.8h0M355.2 142.5h0M355.5 140.3h0M360.6 139.9h0M348.8 135.7h0M396.8 133.7h0M355.5 138.0h0M376.1 125.5h0M407.2 136.9h0M403.8 140.0h0M342.9 133.6h0M388.9 128.9h0M398.0 129.8h0M377.1 134.5h0M338.0 146.1h0M381.2 132.5h0M421.0 137.3h0M355.5 139.5h0M347.2 138.1h0M389.3 138.0h0M378.8 136.7h0M351.1 128.8h0M354.1 137.4h0M345.3 122.9h0M357.1 133.0h0M354.4 126.4h0M370.6 139.9h0M385.4 137.1h0M370.7 141.5h0M353.7 139.6h0M403.3 141.0h0M405.2 137.4h0M388.6 135.4h0M348.3 127.9h0M368.1 136.8h0M345.2 134.5h0M344.2 136.6h0M418.4 133.0h0M395.3 132.3h0M368.2 136.3h0M381.8 130.2h0M393.7 133.4h0M355.9 134.9h0M394.3 131.3h0M436.0 138.3h0M341.0 126.0h0M379.6 131.5h0M342.6 138.3h0M436.7 141.3h0M432.9 136.9h0M411.7 122.9h0M345.5 129.9h0M440.1 132.4h0M352.8 140.3h0M371.9 137.7h0M334.3 131.3h0M373.5 138.1h0M334.8 138.4h0M355.1 137.1h0M369.9 134.3h0M418.9 136.5h0M357.5 134.0h0M415.3 122.2h0M394.5 124.9h0M347.0 130.1h0M347.9 140.5h0M407.2 135.3h0M369.8 137.8h0M439.8 132.4h0M384.2 139.0h0M404.7 127.7h0M338.5 133.2h0M406.3 143.6h0M389.2 142.4h0M413.6 139.4h0M350.4 135.4h0M400.4 135.8h0M435.8 130.3h0M337.3 139.4h0M367.8 142.1h0M338.5 124.6h0M430.2 133.3h0M375.4 127.7h0M402.0 128.3h0M354.5 128.7h0M391.8 130.7h0M348.7 131.4h0M360.6 139.4h0M362.9 135.6h0M346.5 135.9h0M333.8 124.4h0M405.4 134.5h0M418.0 136.0h0M376.1 135.1h0M463.5 141.3h0M359.7 142.5h0M377.7 137.9h0M385.2 142.4h0M381.7 123.3h0M352.4 129.5h0M383.5 142.6h0M381.9 135.2h0M347.6 133.5h0M358.9 140.1h0M372.4 134.7h0M428.2 136.8h0M332.5 140.4h0M368.2 135.3h0M358.6 133.1h0M354.8 133.3h0M371.7 127.3h0M435.9 137.5h0M379.3 137.2h0M384.8 135.6h0M443.2 137.8h0M369.8 126.7h0M356.2 140.6h0M335.2 134.6h0M399.1 132.3h0M381.4 126.0h0M400.5 137.6h0M337.9 130.1h0M392.1 137.2h0M405.6 136.5h0M370.4 133.2h0M352.7 142.4h0M353.1 130.8h0M357.9 135.3h0M377.9 139.8h0M383.1 127.1h0M402.1 124.1h0M359.6 132.7h0M390.7 137.1h0M357.5 138.7h0M401.3 126.9h0M353.7 124.7h0M367.3 141.4h0M398.2 123.9h0M411.1 140.7h0M336.2 138.4h0M389.3 131.8h0M341.2 128.0h0M430.1 134.5h0M357.1 146.2h0M365.2 144.1h0M383.4 142.9h0M342.9 138.1h0M359.1 128.2h0M388.6 141.7h0M332.0 134.7h0M362.7 138.3h0M412.4 126.7h0M371.3 123.7h0M367.7 135.0h0M360.1 138.1h0M383.4 134.3h0M398.2 134.4h0M341.3 135.2h0M349.3 135.5h0M387.6 126.5h0M362.0 135.5h0M358.2 134.1h0M385.6 141.5h0M381.8 135.6h0M357.0 126.3h0M385.9 139.3h0M379.8 141.0h0M427.2 137.5h0M404.2 135.5h0M415.8 138.4h0M361.8 125.3h0M361.2 134.8h0M378.7 134.4h0M393.2 127.9h0M415.7 134.9h0M379.7 140.4h0M381.1 141.7h0M378.0 139.1h0M367.7 135.5h0M362.7 128.7h0M350.2 137.7h0M347.3 136.5h0M376.0 123.9h0M384.2 128.2h0M340.9 143.5h0M357.5 133.0h0M394.5 134.5h0M392.1 133.0h0M394.9 133.4h0M365.5 142.1h0M378.4 136.8h0M416.6 131.6h0M395.7 142.2h0M337.1 136.6h0M415.9 133.9h0M416.5 130.2h0M405.0 131.4h0M375.0 127.4h0M372.5 140.1h0M424.2 131.1h0M405.1 129.2h0M368.5 135.4h0M413.5 134.6h0M394.5 135.9h0M396.7 136.1h0M398.9 142.0h0M431.1 132.5h0M369.7 132.2h0M375.2 134.0h0M397.8 136.6h0M410.1 133.2h0M338.5 135.7h0M422.0 135.3h0M418.0 132.2h0M385.0 128.1h0M409.2 135.3h0M349.1 142.8h0M388.3 132.4h0M425.2 134.4h0M377.3 129.6h0M393.2 130.8h0M356.6 129.3h0M392.3 126.6h0M391.5 128.1h0M378.6 133.3h0M413.2 131.3h0M382.3 139.8h0M398.7 133.6h0M396.0 135.4h0M362.4 129.5h0M335.3 134.1h0M345.6 141.0h0M421.0 135.1h0M395.6 139.6h0M404.7 137.1h0M355.1 123.7h0M370.6 132.1h0M387.4 138.8h0M376.2 129.9h0M354.1 134.6h0M338.6 142.3h0M370.9 143.3h0M372.4 134.4h0M385.2 124.9h0M361.3 129.5h0M354.0 129.1h0M334.3 135.1h0M344.6 139.3h0M376.0 141.2h0M383.0 125.9h0M336.9 138.9h0M364.4 133.7h0M344.8 136.7h0M367.0 132.9h0M387.7 122.3h0M355.6 136.8h0M388.9 139.8h0M386.7 130.7h0M341.3 139.8h0M446.2 136.4h0M350.7 129.4h0M356.9 139.2h0M389.6 127.0h0M390.1 136.8h0M381.0 131.5h0M348.8 133.4h0M407.7 138.0h0M340.2 141.0h0M343.4 137.6h0M353.1 138.1h0M415.2 129.8h0M356.4 131.4h0M342.8 131.2h0M454.5 132.9h0M358.5 129.4h0M365.5 141.2h0M401.9 124.6h0M398.9 132.4h0M395.8 131.6h0M380.1 127.2h0M384.8 140.7h0M343.1 143.2h0M350.0 135.1h0M381.8 132.5h0M357.3 141.4h0M383.5 142.1h0M350.7 132.6h0M384.4 130.8h0M373.2 134.7h0M392.1 141.3h0M358.8 141.9h0M377.4 136.2h0M415.8 139.9h0M400.5 134.3h0M377.3 143.2h0M400.5 137.6h0M411.4 136.6h0M379.2 140.8h0M405.2 125.3h0M349.5 136.3h0M388.2 135.7h0M434.9 137.7h0M394.2 129.5h0M364.8 130.0h0M355.3 141.8h0M388.8 126.9h0M414.8 139.4h0M384.0 131.6h0M366.2 142.9h0M362.5 143.2h0M388.0 134.7h0M356.7 138.5h0M347.9 131.4h0M370.6 134.9h0M396.9 137.9h0M412.5 138.6h0M345.6 138.0h0M427.0 134.3h0M379.0 133.0h0M334.0 130.0h0M392.6 136.6h0M412.1 125.1h0M374.1 125.0h0M384.3 136.9h0M377.6 135.2h0M365.2 135.6h0M412.7 139.8h0M417.4 133.1h0M374.9 146.0h0M348.9 142.5h0M408.1 129.7h0M373.3 127.3h0M409.4 130.3h0M405.7 123.2h0M390.5 129.8h0M392.4 136.9h0M361.1 127.7h0M352.9 124.7h0M352.4 133.3h0M356.5 133.4h0M335.9 138.4h0M362.9 137.7h0M336.2 130.4h0M421.1 129.6h0M384.5 132.9h0M351.3 129.2h0M398.5 135.0h0M413.9 136.8h0M402.2 131.6h0M420.0 138.3h0M356.0 131.6h0M392.9 140.6h0M382.8 145.2h0M333.1 136.8h0M337.5 139.0h0M432.6 138.8h0M387.4 125.2h0M336.4 126.4h0M394.8 132.3h0M439.9 134.9h0M409.2 135.9h0M372.7 135.7h0M397.9 133.3h0M427.1 132.9h0M395.6 136.0h0M361.4 135.0h0M382.2 141.1h0M361.0 132.3h0M341.9 128.1h0M411.4 135.1h0M367.1 142.4h0M372.3 136.1h0M391.1 122.2h0M372.1 139.6h0M366.4 139.3h0M354.1 124.5h0M381.2 101.2h0M384.4 108.5h0M364.2 112.4h0M355.4 119.2h0M362.1 97.5h0M413.7 123.3h0M380.1 118.9h0M359.9 124.7h0M368.4 120.9h0M352.6 113.3h0M341.5 118.6h0M365.2 120.8h0M347.5 97.9h0M372.1 122.8h0M337.1 116.6h0M372.6 114.4h0M382.5 117.0h0M411.8 123.0h0M356.0 120.7h0M344.9 123.3h0M375.2 125.7h0M352.1 124.9h0M339.4 121.5h0M387.7 117.1h0M353.8 120.3h0M356.4 120.0h0M377.8 126.7h0M395.5 122.2h0M360.9 122.8h0M399.3 120.2h0M353.8 126.7h0M363.5 123.6h0M371.8 123.1h0M361.0 114.9h0M361.2 119.5h0M376.7 115.2h0M365.8 121.4h0M408.2 115.4h0M354.2 125.3h0M360.6 113.8h0M395.6 121.0h0M403.8 114.6h0M338.4 117.9h0M396.9 126.1h0M401.0 109.4h0M381.9 118.2h0M414.5 115.6h0M361.3 117.5h0M345.9 117.6h0M337.2 125.1h0M336.1 115.3h0M369.2 121.8h0M380.6 120.5h0M362.0 112.9h0M371.7 122.2h0M352.6 125.1h0M349.4 126.6h0M387.2 120.2h0M413.7 122.2h0M365.3 114.5h0M363.1 126.6h0M392.8 125.9h0M370.9 118.3h0M348.4 123.1h0M377.9 120.2h0M380.9 117.1h0M372.1 120.3h0M382.4 126.1h0M385.5 122.3h0M389.0 113.4h0M371.4 122.2h0M376.0 125.5h0M389.1 118.0h0M342.0 111.1h0M349.8 117.8h0M366.0 122.3h0M386.3 114.3h0M398.0 114.5h0M369.4 117.7h0M433.6 126.4h0M370.9 122.8h0M395.1 117.8h0M338.4 125.0h0M356.1 123.4h0M351.5 118.1h0M395.8 121.2h0M388.5 112.8h0M366.6 112.1h0M370.8 117.1h0M391.2 123.5h0M375.2 118.1h0M378.2 123.6h0M345.8 122.9h0M395.6 120.0h0M381.6 114.4h0M382.8 111.4h0M356.3 108.0h0M362.2 121.0h0M392.9 121.8h0M368.9 124.5h0M348.8 123.2h0M351.0 120.3h0M358.7 123.2h0M380.3 120.8h0M373.1 126.4h0M386.0 119.6h0M340.6 112.8h0M393.2 126.1h0M388.5 124.7h0M357.2 126.3h0M374.5 124.3h0M364.2 110.6h0M380.9 123.9h0M339.2 119.2h0M361.0 124.0h0M406.9 117.9h0M354.7 115.8h0M368.6 101.7h0M345.5 114.4h0M335.4 122.5h0M379.6 121.8h0M350.9 113.3h0M377.6 113.6h0M366.4 110.9h0M351.5 103.2h0M337.9 107.2h0M346.9 119.1h0M342.1 119.9h0M345.3 105.8h0M384.6 111.6h0M361.2 121.7h0M363.9 116.2h0M371.8 109.4h0M359.9 116.1h0M351.2 116.7h0M351.3 99.8h0M377.9 120.2h0M362.6 120.0h0M374.4 124.4h0M400.5 118.4h0M353.8 122.4h0M357.5 104.1h0M344.1 124.7h0M358.3 124.5h0M351.4 116.6h0M346.2 118.1h0M409.0 122.1h0M375.2 113.4h0M373.2 116.6h0M377.9 109.1h0M396.9 125.0h0M422.9 122.2h0M379.6 123.6h0M347.1 120.5h0M346.8 119.2h0M338.5 121.8h0M359.0 124.5h0M362.8 124.9h0M343.4 109.5h0M394.4 124.9h0M352.1 123.6h0M386.4 119.0h0M360.6 102.7h0M358.1 112.0h0M405.4 112.3h0M399.2 124.9h0M365.0 121.5h0M386.2 126.1h0M336.1 122.5h0M341.0 122.5h0M374.8 108.7h0M348.2 119.9h0M393.5 122.9h0M353.7 122.2h0M344.4 119.6h0M358.8 108.5h0M373.5 125.7h0M367.2 115.3h0M388.5 112.0h0M391.7 115.9h0M358.8 107.3h0M392.1 123.1h0M373.8 121.0h0M384.7 121.0h0M371.8 112.5h0M374.7 109.0h0M402.0 119.2h0M368.4 112.6h0M343.5 107.1h0M368.9 121.2h0M356.7 124.3h0M402.8 115.4h0M349.2 106.8h0M385.2 109.2h0M378.3 108.2h0M369.6 112.5h0M382.3 117.7h0M360.7 123.8h0M375.7 112.9h0M365.1 109.7h0M354.4 111.3h0M379.1 121.7h0M368.7 123.9h0M394.0 116.6h0M351.5 122.9h0M360.8 124.0h0M374.8 119.0h0M392.5 115.7h0M370.9 124.8h0M357.9 119.9h0M352.1 122.5h0M367.5 102.3h0M356.2 116.9h0M392.0 122.4h0M400.0 114.6h0M363.3 120.5h0M353.3 101.2h0M358.1 116.8h0M352.3 125.5h0M381.0 126.2h0M365.9 119.9h0M338.1 121.9h0M374.4 115.5h0M391.4 124.5h0M360.3 124.0h0M390.2 117.3h0M382.0 118.5h0M360.7 93.9h0M355.0 115.0h0M342.3 125.6h0M346.7 123.1h0M364.9 120.2h0M351.3 117.8h0M416.2 119.9h0M404.6 125.9h0M343.0 119.0h0M343.9 120.4h0M355.5 122.5h0M383.5 125.2h0M380.6 106.9h0M339.8 125.5h0M337.3 124.9h0M364.4 98.9h0M375.9 103.7h0M345.5 118.3h0M371.7 124.7h0M344.7 99.3h0M379.5 121.6h0M387.7 107.1h0M388.6 116.8h0M372.3 123.5h0M341.9 120.7h0M383.6 110.5h0M364.8 125.8h0M379.9 121.5h0M404.5 123.2h0M382.5 109.6h0M354.9 122.6h0M364.3 121.0h0M384.3 111.6h0M378.9 122.8h0M364.8 123.3h0M369.9 118.6h0M349.7 123.4h0M366.6 125.5h0M358.9 117.6h0M365.1 124.5h0M411.1 124.6h0M370.7 107.5h0M382.9 121.5h0M419.3 122.6h0M349.7 120.7h0M359.6 116.4h0M371.7 126.0h0M373.5 123.9h0M382.4 115.1h0M393.7 122.0h0M372.3 123.1h0M382.8 124.4h0M349.2 119.2h0M374.9 117.3h0M395.4 123.8h0M394.9 123.2h0M337.2 121.5h0M365.7 126.4h0M373.9 101.7h0M381.0 122.3h0M362.6 105.6h0M365.6 125.6h0M387.4 113.4h0M397.7 118.4h0M358.7 114.5h0M366.3 120.9h0M394.0 119.2h0M357.5 117.5h0M383.2 116.2h0M393.6 117.3h0M393.5 115.1h0M362.8 101.5h0M340.8 122.2h0M384.3 110.9h0M358.5 121.7h0M403.4 124.4h0M375.3 120.2h0M389.6 117.0h0M410.2 114.4h0M352.4 124.9h0M380.7 122.9h0M364.9 123.7h0M348.6 119.4h0M360.1 111.8h0M339.3 126.3h0M367.8 116.6h0M410.7 125.8h0M352.1 125.8h0M357.0 119.9h0M354.5 109.2h0M373.8 116.5h0M387.7 120.4h0M351.4 111.5h0M368.8 112.5h0M353.8 126.5h0M423.2 120.3h0M391.4 122.4h0M342.9 124.6h0M344.2 111.5h0M352.4 109.5h0M365.8 125.6h0M350.8 117.1h0M339.3 115.9h0M369.3 111.5h0M361.6 126.2h0M352.7 120.7h0M389.1 123.6h0M339.1 118.6h0M386.2 118.2h0M382.3 120.1h0M375.0 121.6h0M388.8 124.8h0M353.9 123.3h0M339.7 124.0h0M367.6 109.0h0M350.8 115.5h0M379.3 118.8h0M376.3 115.5h0M389.0 117.2h0M354.3 121.2h0M366.5 122.2h0M358.6 109.9h0M387.7 113.2h0M360.0 114.6h0M349.1 124.7h0M358.2 118.9h0M369.1 110.1h0M379.3 103.0h0M347.3 102.1h0M349.2 118.1h0M380.0 124.0h0M367.0 99.6h0M378.0 117.5h0M355.1 123.0h0M379.9 120.9h0M344.5 126.7h0M363.6 124.8h0M347.4 123.9h0M362.3 118.1h0M386.4 118.2h0M399.7 122.5h0M356.2 124.6h0M374.0 117.0h0M369.7 125.9h0M363.1 112.4h0M387.1 104.8h0M378.3 124.2h0M384.7 119.2h0M352.3 125.8h0M366.0 122.9h0M374.1 126.7h0M364.9 122.6h0M404.8 125.6h0M379.0 119.8h0M412.6 124.4h0M366.6 125.8h0M342.9 110.5h0M360.2 102.8h0M357.5 109.3h0M389.3 125.2h0M402.1 116.9h0M356.0 92.7h0M355.9 113.1h0M383.8 124.6h0M361.3 120.5h0M427.4 119.8h0M346.6 122.6h0M351.0 106.8h0M414.0 115.3h0M364.7 121.7h0M407.1 117.9h0M399.1 125.8h0M387.0 124.2h0M380.5 119.9h0M379.3 118.8h0M385.0 103.4h0M379.8 125.8h0M359.1 121.6h0M350.3 119.9h0M393.6 117.9h0M385.0 120.2h0M354.2 117.5h0M382.0 124.8h0M413.1 123.6h0M393.0 116.0h0M368.1 124.4h0M392.5 124.1h0M372.2 113.8h0M369.9 122.4h0M360.2 113.9h0M361.0 126.7h0M363.5 125.8h0M376.0 115.4h0M360.8 126.7h0M345.5 123.3h0M358.2 120.0h0M344.2 119.5h0M381.2 124.5h0M377.2 126.5h0M395.7 125.9h0M361.1 105.7h0M375.2 121.2h0M389.4 118.3h0M366.5 123.1h0M376.3 100.9h0M377.1 114.4h0M368.5 108.7h0M375.3 122.7h0M336.4 126.1h0M346.5 114.6h0M349.8 124.5h0M387.8 113.9h0M344.6 90.1h0M393.6 111.4h0M363.0 82.3h0M422.8 99.8h0M376.6 112.1h0M376.0 107.0h0M366.7 102.7h0M420.3 108.1h0M417.5 82.9h0M391.9 93.8h0M379.1 88.6h0M421.1 109.3h0M381.9 101.6h0M366.1 96.2h0M388.8 84.7h0M407.1 96.8h0M401.4 89.8h0M401.2 111.5h0M384.2 115.4h0M430.9 97.8h0M373.3 101.0h0M410.7 70.6h0M348.9 83.7h0M399.1 81.8h0M394.8 111.1h0M370.2 70.6h0M390.2 105.6h0M379.4 112.2h0M392.5 105.2h0M415.1 81.3h0M387.8 68.1h0M431.4 75.5h0M374.4 108.6h0M425.6 114.1h0M390.1 98.3h0M374.2 98.7h0M358.7 81.4h0M372.8 87.4h0M405.8 98.1h0M387.2 75.1h0M410.0 84.5h0M392.7 81.2h0M367.6 101.1h0M428.7 76.1h0M401.4 109.4h0M374.6 75.2h0M363.5 104.5h0M376.7 104.8h0M411.1 14.4h0M402.3 32.0h0M530.5 134.3h0M509.1 130.5h0M492.6 133.0h0M489.7 108.7h0M471.3 138.0h0M468.3 135.5h0M349.0 64.3h0M338.3 79.4h0M332.5 90.7h0M373.2 60.5h0M377.1 61.8h0M379.1 65.1h0M408.2 69.3h0M409.1 74.3h0M438.3 84.8h0M434.4 94.5h0" stroke="#ff7f0e" stroke-width="4.76" stroke-linecap="round" fill="none"/>
<rect x="455.1" y="6.9" width="84.4" height="30.9" rx="1.2" fill="#fff" fill-opacity="0.8" stroke="#d0d0d0" stroke-width="0.7"/>
<text class="lt" x="496.4" y="15.1" text-anchor="middle">CoronaryHeartDisease</text>
<circle cx="491.5" cy="23.1" r="2.40" fill="#1f77b4"/>
<text x="506.4" y="25.1" text-anchor="middle">0</text>
<circle cx="491.5" cy="32.9" r="2.40" fill="#ff7f0e"/>
<text x="506.4" y="34.9" text-anchor="middle">1</text>
<rect x="32.4" y="216.3" width="226.4" height="147.1" fill="#fff" stroke="#6c6c6c" stroke-width="1"/>
<text x="42.4" y="373.6" text-anchor="middle">2</text>
<text x="82.0" y="373.6" text-anchor="middle">4</text>
<text x="121.6" y="373.6" text-anchor="middle">6</text>
<text x="161.2" y="373.6" text-anchor="middle">8</text>
<text x="200.8" y="373.6" text-anchor="middle">10</text>
<text x="240.4" y="373.6" text-anchor="middle">12</text>
<text x="27.0" y="347.4" text-anchor="end">5</text>
<text x="27.0" y="327.1" text-anchor="end">10</text>
<text x="27.0" y="306.7" text-anchor="end">15</text>
<text x="27.0" y="286.4" text-anchor="end">20</text>
<text x="27.0" y="266.0" text-anchor="end">25</text>
<text x="27.0" y="245.7" text-anchor="end">30</text>
<text x="27.0" y="225.3" text-anchor="end">35</text>
<path d="M42.4 363.4v2.4M82.0 363.4v2.4M121.6 363.4v2.4M161.2 363.4v2.4M200.8 363.4v2.4M240.4 363.4v2.4M32.4 344.5h-2.1M32.4 324.2h-2.1M32.4 303.8h-2.1M32.4 283.5h-2.1M32.4 263.1h-2.1M32.4 242.8h-2.1M32.4 222.4h-2.1" stroke="#4d4d4d" stroke-width="0.8" fill="none"/>
<text x="141.1" y="382.8" text-anchor="middle">Cholesterol</text>
<text transform="translate(10.0 290.4) rotate(-90)" text-anchor="middle">Glucose</text>
<text class="lab" x="135.8" y="396.2" text-anchor="middle">c</text>
<path d="M124.2 347.7h0M103.6 345.4h0M99.8 348.6h0M71.6 342.0h0M86.2 347.2h0M72.8 336.7h0M119.4 350.1h0M82.9 349.9h0M124.3 352.0h0M125.0 340.4h0M100.7 340.3h0M45.3 348.8h0M56.9 338.5h0M120.6 339.6h0M54.8 347.6h0M73.7 341.8h0M120.9 339.3h0M72.5 339.1h0M112.1 343.2h0M81.4 342.4h0M96.0 349.0h0M78.9 343.5h0M89.6 344.8h0M120.1 347.1h0M85.5 343.6h0M70.8 343.8h0M101.9 336.1h0M91.8 353.0h0M102.3 345.4h0M61.9 337.1h0M63.3 342.7h0M98.9 339.7h0M112.5 343.9h0M82.3 340.2h0M100.6 342.4h0M113.2 348.2h0M78.6 344.8h0M80.0 340.0h0M100.6 344.8h0M63.2 338.6h0M138.9 341.8h0M98.7 346.1h0M100.8 343.3h0M52.7 339.9h0M105.7 340.6h0M128.1 337.0h0M101.3 337.0h0M121.4 338.2h0M80.8 347.5h0M113.5 342.6h0M138.7 337.6h0M77.8 345.5h0M47.7 347.8h0M103.0 339.1h0M94.1 339.7h0M154.3 340.7h0M85.9 349.5h0M74.1 340.9h0M74.1 343.6h0M100.9 336.4h0M44.3 344.9h0M84.2 350.0h0M108.6 340.7h0M56.4 354.3h0M68.1 349.7h0M107.3 344.8h0M94.7 343.9h0M62.5 345.6h0M97.7 345.5h0M102.6 339.8h0M177.6 347.1h0M104.6 346.0h0M108.1 342.0h0M105.6 349.0h0M48.5 343.3h0M81.1 335.5h0M90.3 340.4h0M93.5 340.6h0M78.1 349.6h0M93.9 337.3h0M74.9 344.3h0M64.3 346.2h0M81.6 340.4h0M127.1 337.4h0M82.9 338.7h0M98.1 346.2h0M117.8 337.3h0M100.0 347.6h0M61.5 340.2h0M63.2 344.8h0M86.2 349.0h0M80.4 338.7h0M61.0 339.9h0M74.8 346.6h0M114.6 346.6h0M89.9 343.2h0M70.9 336.5h0M92.8 348.8h0M107.9 346.1h0M117.9 338.7h0M85.2 342.8h0M100.5 350.0h0M147.2 342.8h0M75.7 343.1h0M96.9 338.6h0M103.4 340.2h0M96.9 337.1h0M88.9 343.0h0M159.5 350.0h0M104.8 342.3h0M94.6 347.3h0M137.9 350.5h0M122.3 344.8h0M105.7 342.5h0M108.2 344.0h0M141.5 348.5h0M108.4 347.5h0M75.6 339.0h0M110.0 339.1h0M106.7 342.9h0M93.2 341.4h0M113.9 340.7h0M134.8 347.2h0M116.8 337.5h0M95.0 348.5h0M89.7 342.4h0M105.0 341.9h0M57.2 348.0h0M72.9 341.0h0M44.5 350.3h0M78.6 344.0h0M73.1 338.2h0M75.4 340.0h0M53.4 345.6h0M74.4 343.5h0M119.4 341.8h0M55.7 345.0h0M77.5 347.1h0M100.9 348.6h0M110.6 341.0h0M73.4 348.8h0M84.9 345.3h0M116.1 338.2h0M72.0 345.3h0M144.9 340.7h0M103.5 344.8h0M109.9 338.1h0M60.6 342.7h0M105.8 342.3h0M78.7 349.1h0M140.1 343.3h0M126.3 342.8h0M152.3 337.0h0M50.0 356.1h0M70.6 336.2h0M109.8 349.1h0M114.6 344.5h0M113.3 346.6h0M69.4 340.4h0M109.6 342.6h0M69.5 343.3h0M146.4 337.2h0M60.5 341.5h0M83.5 347.0h0M80.8 338.7h0M127.4 342.4h0M175.5 341.0h0M54.6 339.4h0M49.1 344.6h0M89.3 337.0h0M132.0 346.4h0M72.2 342.3h0M66.9 337.8h0M127.2 349.0h0M106.6 340.2h0M103.6 349.3h0M111.1 348.3h0M55.1 338.4h0M71.2 340.4h0M47.9 338.7h0M77.6 349.1h0M137.4 340.0h0M74.4 347.7h0M79.8 351.4h0M109.5 347.5h0M121.7 343.2h0M134.2 355.7h0M102.5 343.2h0M105.5 344.8h0M102.5 338.5h0M59.5 342.9h0M46.1 343.3h0M85.7 340.9h0M92.5 346.0h0M98.3 341.0h0M64.1 346.1h0M66.7 345.7h0M66.2 340.0h0M90.5 349.6h0M92.7 348.9h0M138.6 348.8h0M52.4 345.5h0M118.5 344.4h0M114.0 340.7h0M66.4 343.8h0M69.0 344.6h0M137.0 339.1h0M59.2 340.1h0M88.1 346.8h0M79.8 342.5h0M48.8 342.2h0M72.3 348.4h0M93.1 341.1h0M103.4 345.5h0M104.1 346.6h0M109.9 345.6h0M106.7 348.6h0M122.1 342.9h0M124.7 346.1h0M91.9 340.7h0M53.2 335.5h0M138.9 343.0h0M92.3 339.2h0M135.6 349.0h0M109.9 350.2h0M49.3 344.4h0M126.4 343.4h0M94.7 341.5h0M105.3 345.2h0M124.4 343.0h0M92.9 346.8h0M81.9 339.7h0M63.7 345.2h0M80.8 337.8h0M115.5 345.9h0M83.3 337.2h0M58.7 345.0h0M125.3 345.8h0M134.0 347.2h0M115.5 340.1h0M62.9 341.2h0M121.2 347.5h0M61.7 342.7h0M108.5 345.7h0M51.7 351.3h0M87.4 338.5h0M90.8 338.7h0M105.5 349.4h0M53.3 338.2h0M49.2 347.4h0M121.8 348.3h0M93.5 347.3h0M84.5 343.5h0M99.8 340.9h0M98.1 348.2h0M89.5 336.5h0M61.6 339.0h0M81.0 346.2h0M112.7 349.3h0M61.5 350.9h0M55.3 341.3h0M47.1 343.7h0M117.9 339.2h0M113.2 349.6h0M134.9 348.8h0M96.0 342.1h0M114.4 338.5h0M69.7 338.6h0M86.6 342.2h0M83.5 344.3h0M154.9 344.8h0M103.4 339.5h0M90.2 350.0h0M96.2 343.5h0M126.2 343.7h0M95.7 342.2h0M148.4 345.9h0M63.4 346.1h0M79.4 341.3h0M99.1 339.3h0M113.3 343.2h0M53.9 338.8h0M145.4 342.8h0M133.2 347.6h0M49.8 355.2h0M58.5 339.9h0M82.0 345.8h0M85.2 344.0h0M45.4 340.5h0M89.5 344.8h0M132.0 339.7h0M94.6 340.6h0M69.8 337.5h0M134.3 341.5h0M106.8 347.3h0M135.2 337.1h0M63.8 341.5h0M74.5 336.3h0M102.1 341.0h0M71.8 336.6h0M82.0 342.5h0M99.9 338.5h0M111.9 348.0h0M61.6 341.9h0M93.3 341.4h0M102.3 337.5h0M106.0 343.0h0M49.6 340.3h0M50.6 343.5h0M91.5 343.7h0M106.4 338.4h0M76.2 345.3h0M72.6 345.9h0M78.4 344.0h0M101.4 341.4h0M113.6 344.7h0M59.1 341.4h0M81.7 345.5h0M88.3 339.1h0M104.5 348.8h0M141.6 337.4h0M82.9 340.6h0M50.0 345.1h0M92.1 342.3h0M83.7 339.3h0M114.7 342.5h0M111.3 353.0h0M89.2 343.1h0M148.4 337.0h0M52.4 349.6h0M62.4 337.6h0M105.3 340.5h0M64.4 343.9h0M124.5 342.4h0M92.7 342.5h0M126.6 339.6h0M120.9 347.7h0M72.9 345.7h0M99.5 346.6h0M93.3 346.9h0M52.1 344.9h0M60.0 341.7h0M95.5 346.5h0M103.2 350.5h0M123.5 339.1h0M101.4 346.1h0M77.2 341.9h0M78.8 347.6h0M97.7 338.8h0M112.1 338.8h0M115.6 339.4h0M83.7 348.7h0M65.3 337.8h0M134.3 344.2h0M57.2 339.8h0M136.2 340.2h0M112.7 341.1h0M175.9 344.3h0M54.2 337.4h0M74.6 336.6h0M104.7 344.3h0M113.9 341.8h0M56.7 347.4h0M95.0 338.0h0M63.8 346.2h0M54.6 350.1h0M50.9 345.3h0M140.6 347.7h0M111.3 342.4h0M63.2 337.9h0M114.7 342.0h0M95.1 342.4h0M45.9 341.3h0M111.5 345.2h0M143.9 344.7h0M74.9 340.1h0M53.3 345.3h0M71.6 352.3h0M147.7 344.3h0M127.7 338.4h0M101.2 341.9h0M59.7 345.0h0M136.2 338.8h0M114.7 336.7h0M96.2 345.1h0M120.4 341.4h0M84.2 352.4h0M99.1 342.7h0M91.7 340.8h0M54.9 349.9h0M74.7 339.3h0M96.5 344.7h0M96.8 344.6h0M138.3 341.9h0M94.0 343.8h0M87.9 345.7h0M82.3 349.6h0M55.5 346.5h0M87.3 342.4h0M120.6 341.4h0M94.9 349.4h0M118.8 347.4h0M154.1 343.8h0M143.4 342.3h0M93.1 339.7h0M68.3 348.0h0M78.3 342.6h0M101.0 340.9h0M87.6 342.1h0M68.9 343.7h0M73.6 340.3h0M99.1 344.3h0M66.0 343.9h0M93.3 347.5h0M77.4 337.2h0M72.2 338.7h0M111.8 338.2h0M83.5 344.0h0M57.0 343.5h0M51.1 342.8h0M67.7 347.5h0M58.1 338.7h0M104.8 339.7h0M98.5 342.6h0M72.8 342.5h0M106.9 344.6h0M121.6 341.4h0M125.2 345.3h0M143.6 338.4h0M56.8 341.1h0M79.4 341.5h0M136.3 342.6h0M112.8 336.8h0M90.1 343.4h0M54.6 349.4h0M53.7 343.9h0M74.2 344.6h0M97.9 343.2h0M46.5 339.0h0M53.3 348.7h0M74.7 336.7h0M111.7 339.8h0M61.2 341.8h0M76.1 343.0h0M157.8 341.9h0M137.2 339.8h0M162.0 341.3h0M74.0 342.0h0M152.1 343.9h0M116.7 346.8h0M120.0 345.5h0M99.2 343.7h0M66.1 344.2h0M52.0 337.3h0M114.9 339.6h0M51.9 340.4h0M99.6 344.7h0M123.4 341.4h0M69.6 341.1h0M73.0 341.7h0M74.4 341.7h0M78.6 338.6h0M154.8 344.0h0M84.9 341.3h0M151.2 339.8h0M56.6 337.9h0M91.7 337.4h0M72.9 345.6h0M92.0 341.2h0M117.2 347.6h0M96.4 346.3h0M95.7 344.2h0M85.5 347.1h0M91.4 341.2h0M82.9 336.2h0M56.2 345.6h0M93.9 344.0h0M50.8 337.7h0M142.9 348.2h0M122.5 344.7h0M107.0 348.4h0M80.4 346.4h0M97.4 341.0h0M133.0 342.2h0M68.2 338.2h0M113.0 346.5h0M92.5 343.1h0M95.3 348.0h0M148.7 341.0h0M82.1 339.7h0M122.6 347.6h0M110.6 353.3h0M72.1 342.6h0M111.7 345.1h0M134.9 341.5h0M90.3 337.6h0M59.2 347.7h0M142.2 340.2h0M91.8 347.3h0M66.7 345.4h0M82.2 343.1h0M76.7 345.4h0M58.0 337.5h0M118.3 341.4h0M98.4 337.2h0M64.6 343.5h0M82.6 341.7h0M59.0 347.6h0M113.2 341.6h0M85.4 341.9h0M157.8 346.7h0M69.7 339.8h0M99.7 345.5h0M135.4 339.6h0M80.8 342.6h0M69.8 337.3h0M44.8 341.7h0M97.1 341.3h0M97.6 345.9h0M83.1 348.6h0M135.7 342.7h0M98.8 343.4h0M95.5 342.0h0M80.5 337.2h0M104.4 348.1h0M55.7 343.8h0M80.1 344.4h0M74.1 337.5h0M133.9 339.7h0M54.1 340.9h0M50.2 348.4h0M51.9 347.2h0M82.4 349.3h0M96.6 339.0h0M82.7 353.6h0M115.2 342.6h0M129.0 344.8h0M70.1 339.4h0M127.8 345.2h0M93.0 346.8h0M56.7 340.0h0M65.0 343.6h0M74.3 347.3h0M99.0 344.4h0M59.8 351.3h0M71.3 340.6h0M44.6 340.2h0M111.9 337.6h0M146.7 340.6h0M106.8 344.9h0M66.9 344.1h0M100.2 347.7h0M61.5 345.5h0M46.7 343.3h0M132.0 342.8h0M90.6 342.1h0M125.1 340.3h0M158.2 337.4h0M97.4 341.9h0M121.0 340.8h0M48.7 349.3h0M68.8 339.4h0M99.7 339.2h0M73.8 338.5h0M107.1 344.1h0M111.6 346.4h0M54.8 341.0h0M97.3 339.6h0M71.7 343.7h0M80.0 343.2h0M96.9 346.6h0M114.4 343.6h0M74.3 348.5h0M98.8 339.0h0M151.6 347.5h0M68.5 340.3h0M143.0 338.5h0M51.2 342.7h0M105.0 338.1h0M57.9 349.5h0M108.6 347.4h0M143.1 338.5h0M87.4 339.5h0M101.7 344.1h0M62.2 344.3h0M51.9 348.9h0M89.6 338.4h0M128.4 338.2h0M51.3 339.5h0M115.9 342.3h0M160.8 344.0h0M133.2 345.7h0M54.0 348.0h0M67.8 345.7h0M150.0 342.7h0M82.0 342.2h0M86.4 355.4h0M77.4 342.2h0M108.7 344.9h0M66.5 347.1h0M77.7 344.0h0M114.4 344.4h0M64.3 349.6h0M87.3 342.7h0M51.2 336.6h0M118.6 345.2h0M81.3 353.3h0M101.2 336.5h0M107.1 348.6h0M91.1 339.6h0M82.7 340.7h0M130.2 341.0h0M100.2 337.7h0M58.3 340.4h0M86.6 339.1h0M65.9 339.2h0M72.1 345.0h0M94.6 349.4h0M85.1 342.1h0M93.5 342.9h0M136.6 339.8h0M101.5 338.4h0M65.0 338.4h0M54.5 345.8h0M109.8 338.8h0M62.4 347.2h0M114.3 339.1h0M130.4 349.0h0M100.4 349.7h0M47.3 347.3h0M110.8 340.3h0M98.4 342.3h0M102.0 338.5h0M46.8 348.8h0M96.5 347.2h0M87.7 341.3h0M95.6 338.8h0M91.3 349.8h0M150.8 336.9h0M121.4 341.1h0M101.3 350.1h0M74.4 345.0h0M120.0 336.5h0M65.2 343.9h0M130.1 342.5h0M79.0 346.1h0M89.1 336.6h0M76.0 336.4h0M110.4 342.8h0M129.8 339.7h0M62.0 349.5h0M61.4 344.0h0M124.0 342.7h0M63.8 337.6h0M116.7 345.7h0M152.9 345.7h0M134.8 342.4h0M100.1 339.9h0M98.9 345.1h0M50.7 339.8h0M112.5 344.1h0M66.0 347.0h0M83.4 343.2h0M97.4 344.2h0M106.6 352.4h0M94.3 349.1h0M114.9 346.4h0M133.5 341.2h0M69.9 315.9h0M73.3 316.5h0M56.6 334.2h0M77.2 329.3h0M80.7 328.8h0M83.3 328.8h0M96.1 334.8h0M86.5 331.8h0M94.4 333.2h0M61.4 328.0h0M78.2 325.5h0M81.0 325.7h0M83.4 326.2h0M80.4 331.0h0M83.4 332.2h0M78.3 321.2h0M73.6 331.2h0M95.9 324.6h0M99.4 324.4h0M101.8 324.7h0M88.2 335.3h0M82.3 325.6h0M86.2 326.9h0M90.0 326.0h0M63.3 330.2h0M83.9 324.1h0M67.6 328.8h0M87.5 321.5h0M91.1 322.0h0M55.5 324.0h0M73.1 329.3h0M76.6 330.1h0M79.8 330.0h0M78.6 321.2h0M65.2 327.1h0M68.7 327.4h0M72.2 326.8h0M84.1 332.1h0M86.7 331.1h0M82.6 325.6h0M85.5 324.6h0M84.8 317.8h0M88.4 317.9h0M89.9 317.7h0M76.8 335.4h0M99.1 313.7h0M102.2 314.0h0M103.9 314.4h0M77.9 332.5h0M86.9 323.7h0M90.7 323.2h0M92.2 323.2h0M67.5 319.8h0M125.8 329.7h0M129.3 330.4h0M73.7 333.8h0M93.9 320.9h0M97.1 320.4h0M90.4 326.8h0M93.9 327.1h0M98.0 327.1h0M65.3 330.0h0M77.5 333.5h0M55.0 335.1h0M77.2 329.7h0M79.7 330.2h0M75.2 328.2h0M68.2 313.7h0M70.9 313.4h0M81.2 329.2h0M66.2 332.9h0M89.0 331.3h0M92.2 332.2h0M95.5 331.5h0M60.8 318.4h0M64.6 318.5h0M67.6 318.2h0M67.7 331.9h0M71.3 331.8h0M74.6 331.8h0M93.8 329.7h0M97.4 329.7h0M74.3 325.8h0M61.7 330.4h0M64.5 331.1h0M67.1 330.9h0M94.8 321.1h0M76.3 318.4h0M57.1 325.0h0M60.3 325.4h0M64.2 324.6h0M60.1 327.0h0M72.8 309.3h0M83.8 322.5h0M109.7 319.1h0M113.3 319.2h0M86.0 333.0h0M86.3 317.4h0M86.6 334.2h0M75.9 327.8h0M78.5 328.5h0M82.4 327.9h0M64.0 333.0h0M70.0 327.9h0M72.9 327.9h0M75.8 315.6h0M78.5 314.8h0M84.1 323.3h0M86.7 322.6h0M69.4 330.5h0M54.6 326.8h0M57.6 326.6h0M101.3 322.8h0M58.8 330.6h0M62.3 330.5h0M69.8 334.2h0M69.6 332.4h0M69.2 321.2h0M71.9 320.7h0M102.9 326.1h0M106.8 326.1h0M110.0 326.4h0M77.3 307.2h0M79.3 314.8h0M83.2 335.3h0M83.5 329.9h0M87.3 330.5h0M89.3 329.3h0M100.4 332.8h0M78.1 334.7h0M75.4 320.7h0M64.7 317.2h0M108.2 328.1h0M111.9 328.9h0M115.2 328.8h0M65.6 320.4h0M68.8 319.9h0M73.1 320.0h0M89.3 329.0h0M58.9 334.4h0M62.2 328.2h0M64.8 328.3h0M65.4 312.5h0M68.7 312.8h0M72.7 311.8h0M75.1 312.3h0M79.6 326.2h0M83.0 326.4h0M84.3 326.8h0M70.2 322.1h0M91.1 333.9h0M58.2 329.0h0M60.5 329.4h0M63.4 328.8h0M105.3 332.6h0M102.2 330.1h0M104.8 330.1h0M108.9 330.2h0M93.2 325.1h0M96.2 324.6h0M91.6 329.1h0M95.1 329.8h0M99.1 329.0h0M63.7 335.3h0M64.5 323.7h0M95.0 331.6h0M97.5 332.4h0M101.6 332.2h0M74.9 315.2h0M77.3 315.0h0M79.9 314.9h0M69.7 311.7h0M72.6 312.9h0M82.2 321.3h0M84.6 335.4h0M89.0 309.3h0M67.6 332.5h0M70.1 332.5h0M72.7 332.1h0M78.1 323.7h0M81.9 324.1h0M94.0 326.5h0M96.8 326.1h0M99.2 326.0h0M119.0 330.8h0M122.7 329.9h0M62.8 328.2h0M65.8 328.2h0M68.4 328.7h0M74.5 316.7h0M78.1 315.9h0M82.1 316.5h0M64.7 333.2h0M78.4 331.1h0M61.1 322.0h0M89.7 307.1h0M72.7 320.8h0M75.3 320.3h0M76.0 323.0h0M78.5 323.0h0M71.1 328.3h0M79.7 329.3h0M82.0 329.5h0M57.8 331.5h0M61.1 332.2h0M64.1 332.4h0M83.0 326.3h0M69.5 330.6h0M73.1 331.2h0M76.2 330.3h0M77.4 320.5h0M81.1 319.8h0M84.5 319.6h0M88.9 327.2h0M91.6 326.9h0M95.7 327.3h0M76.4 329.5h0M100.5 331.9h0M103.4 332.2h0M108.2 332.1h0M89.1 330.3h0M109.0 327.0h0M112.6 335.4h0M75.6 318.0h0M78.1 317.4h0M92.0 328.8h0M95.3 329.1h0M85.6 321.1h0M68.7 335.1h0M89.4 326.7h0M105.9 330.6h0M108.3 331.1h0M73.5 322.8h0M75.9 322.0h0M81.9 323.7h0M84.9 323.9h0M72.3 317.5h0M75.7 316.7h0M63.0 331.3h0M81.6 331.0h0M84.8 330.0h0M88.1 330.2h0M103.9 324.7h0M107.0 324.0h0M94.9 332.1h0M78.8 325.9h0M82.6 325.0h0M102.4 324.1h0M106.2 324.5h0M59.9 330.6h0M85.4 322.8h0M88.4 323.0h0M93.6 332.7h0M95.7 327.3h0M79.4 321.5h0M112.3 329.3h0M115.2 330.1h0M58.4 333.0h0M83.4 332.1h0M85.7 331.8h0M90.4 332.0h0M92.3 322.4h0M95.8 322.5h0M97.5 323.2h0M69.6 326.1h0M72.0 326.5h0M97.3 333.9h0M85.1 314.2h0M92.4 320.1h0M80.7 319.5h0M83.5 319.4h0M71.5 334.8h0M70.9 310.9h0M74.0 311.4h0M89.9 313.8h0M94.8 314.0h0M74.8 331.5h0M78.0 331.6h0M81.2 331.0h0M68.6 330.9h0M72.3 331.2h0M74.1 330.9h0M127.2 315.6h0M92.3 325.8h0M67.5 331.0h0M70.4 331.4h0M74.8 331.2h0M117.9 317.9h0M120.5 317.7h0M124.1 318.0h0M112.7 313.6h0M125.5 306.9h0M129.0 305.8h0M67.9 316.8h0M70.8 319.0h0M160.2 308.3h0M165.3 308.6h0M94.6 310.8h0M97.3 310.5h0M99.6 312.6h0M141.1 315.8h0M144.7 315.5h0M111.0 333.2h0M135.0 319.5h0M75.4 330.5h0M78.3 329.6h0M82.9 330.1h0M81.6 331.3h0M84.5 331.3h0M93.8 319.5h0M96.1 318.8h0M98.5 318.8h0M131.5 307.3h0M133.8 306.6h0M84.8 316.7h0M131.3 316.8h0M133.8 323.7h0M119.8 312.5h0M122.4 312.4h0M82.6 333.2h0M96.9 325.7h0M100.3 325.5h0M103.2 325.2h0M135.0 316.6h0M104.6 323.9h0M107.2 324.1h0M65.3 328.8h0M68.1 328.5h0M80.1 326.6h0M82.9 326.4h0M85.6 326.4h0M88.1 304.0h0M110.7 330.4h0M114.1 331.3h0M117.8 330.5h0M121.6 315.6h0M124.0 315.5h0M127.0 315.0h0M147.8 326.8h0M150.8 327.0h0M153.3 327.8h0M93.3 314.7h0M96.4 314.4h0M87.9 313.7h0M105.3 322.8h0M108.7 323.2h0M110.3 324.0h0M141.0 315.7h0M144.6 316.4h0M146.5 316.3h0M78.2 331.0h0M81.8 331.3h0M82.8 331.5h0M87.5 325.3h0M98.6 316.7h0M114.3 330.3h0M117.1 330.8h0M111.4 326.3h0M114.1 325.7h0M116.8 325.8h0M91.6 332.1h0M106.1 324.1h0M109.7 324.1h0M113.3 324.5h0M103.1 324.7h0M106.0 325.2h0M118.6 222.8h0M123.6 227.7h0M125.6 226.9h0M131.5 239.5h0M115.7 243.2h0M125.6 246.8h0M44.4 287.9h0M237.4 342.9h0M231.5 342.9h0M224.6 340.0h0M214.7 341.7h0M201.8 341.7h0M197.8 340.4h0M195.9 345.7h0M185.0 344.9h0M184.0 342.5h0M180.0 312.8h0M176.1 316.8h0M175.1 318.0h0M176.1 329.8h0M168.1 330.3h0M162.2 318.9h0M158.2 320.1h0M151.3 283.9h0M153.3 283.5h0M149.3 284.7h0M58.4 292.4h0M72.1 286.7h0M74.3 276.5h0M75.9 274.5h0M77.8 273.7h0M88.3 268.8h0M99.2 274.1h0M89.1 285.1h0M99.8 285.1h0M61.0 297.7h0M63.6 297.7h0M68.7 296.5h0M79.4 297.7h0M86.0 296.1h0M89.1 297.7h0M99.8 297.7h0M112.7 277.8h0M115.1 277.8h0M125.2 278.2h0M113.9 283.5h0M117.0 283.5h0M127.1 284.3h0M113.3 289.6h0M115.7 289.6h0M111.7 298.1h0M119.0 298.1h0M131.5 300.5h0M143.6 303.8h0M151.9 301.0h0M101.8 298.9h0M105.8 301.4h0" stroke="#1f77b4" stroke-width="4.76" stroke-linecap="round" fill="none"/>
<path d="M97.8 340.2h0M120.7 344.9h0M103.5 344.8h0M97.1 346.8h0M79.4 340.9h0M76.6 336.2h0M118.0 337.8h0M100.1 340.5h0M145.1 342.3h0M141.9 348.1h0M131.8 342.1h0M78.1 345.5h0M80.4 340.3h0M91.8 342.0h0M106.5 343.7h0M85.3 338.7h0M72.8 346.2h0M97.2 343.9h0M56.8 349.3h0M116.3 339.3h0M113.8 350.5h0M56.0 336.7h0M101.7 338.2h0M62.0 337.8h0M135.9 339.4h0M146.9 337.9h0M91.7 338.5h0M73.0 345.2h0M106.8 339.1h0M124.5 339.7h0M49.3 336.6h0M93.5 341.2h0M122.0 343.2h0M97.5 344.1h0M131.6 348.4h0M91.3 344.0h0M92.8 346.7h0M93.6 341.7h0M101.8 341.8h0M69.6 343.7h0M89.8 347.4h0M72.2 336.3h0M97.1 349.5h0M117.7 345.0h0M68.4 338.5h0M108.3 346.1h0M55.4 337.3h0M103.7 347.1h0M130.5 343.8h0M51.2 345.0h0M55.9 343.9h0M59.4 346.2h0M96.0 345.1h0M77.3 338.4h0M96.0 343.9h0M97.2 343.5h0M124.3 344.1h0M72.5 339.0h0M141.9 344.2h0M113.7 344.3h0M78.7 347.1h0M70.6 338.2h0M104.9 340.2h0M99.6 344.3h0M110.0 343.9h0M97.0 336.8h0M65.7 345.5h0M88.3 346.9h0M111.8 345.9h0M64.4 339.5h0M80.5 339.2h0M68.4 347.4h0M102.5 336.1h0M62.7 340.1h0M131.7 338.9h0M77.8 338.5h0M147.4 343.7h0M94.6 347.0h0M63.9 341.0h0M136.3 339.9h0M56.7 345.1h0M83.4 338.7h0M52.4 345.3h0M107.0 347.2h0M55.2 347.5h0M88.6 344.3h0M113.1 341.8h0M93.4 343.2h0M122.4 339.9h0M92.7 337.9h0M148.7 339.2h0M87.3 337.8h0M47.5 342.0h0M103.9 347.2h0M89.6 343.0h0M46.8 341.3h0M95.7 347.2h0M79.4 336.8h0M108.3 342.7h0M69.1 344.1h0M90.4 348.6h0M111.2 338.1h0M153.1 341.0h0M88.2 334.5h0M71.8 345.8h0M65.1 344.2h0M100.3 339.6h0M112.7 340.4h0M136.5 338.0h0M101.4 338.6h0M111.2 346.3h0M89.8 342.1h0M122.2 345.7h0M131.4 340.3h0M97.7 345.0h0M46.6 346.4h0M62.6 336.5h0M109.3 347.2h0M125.6 343.8h0M123.6 342.8h0M133.6 346.2h0M103.8 339.2h0M83.7 339.6h0M72.7 343.3h0M100.8 339.1h0M139.7 348.6h0M142.7 344.4h0M115.1 336.4h0M114.4 342.2h0M61.5 342.0h0M55.8 341.0h0M87.0 346.9h0M121.7 349.8h0M73.3 337.6h0M99.1 338.5h0M91.4 351.8h0M163.3 346.4h0M137.8 338.1h0M87.9 337.1h0M75.6 346.1h0M67.0 344.0h0M93.5 343.1h0M107.8 346.3h0M62.0 340.5h0M100.4 340.5h0M117.4 343.2h0M87.9 345.9h0M80.2 339.8h0M87.6 341.8h0M143.3 336.0h0M82.4 340.1h0M81.2 345.8h0M150.6 343.7h0M72.7 345.4h0M84.3 340.4h0M66.4 339.9h0M108.1 343.3h0M93.4 347.9h0M118.1 344.7h0M121.4 344.9h0M100.6 343.1h0M78.6 340.0h0M107.6 352.5h0M130.5 345.6h0M51.2 341.9h0M116.5 343.1h0M118.4 337.7h0M101.2 335.5h0M78.7 338.5h0M111.9 338.5h0M87.1 336.5h0M112.7 348.8h0M103.0 338.0h0M46.9 346.8h0M94.4 338.7h0M103.0 337.8h0M70.6 343.2h0M135.8 347.3h0M134.1 337.1h0M147.7 341.5h0M94.2 337.1h0M99.5 339.9h0M73.2 343.1h0M128.1 338.4h0M67.8 346.4h0M84.7 337.4h0M84.2 349.4h0M78.5 347.9h0M145.4 346.6h0M76.0 348.0h0M54.4 346.7h0M70.8 343.4h0M106.0 340.4h0M125.9 337.2h0M134.5 343.6h0M119.1 338.4h0M145.3 340.5h0M129.4 343.5h0M103.9 346.7h0M122.3 344.3h0M80.7 339.4h0M113.1 343.0h0M94.8 345.7h0M128.7 345.5h0M51.7 339.6h0M121.1 343.7h0M84.6 346.7h0M68.4 337.5h0M87.9 348.1h0M65.4 337.6h0M129.2 340.0h0M99.6 338.0h0M97.0 345.7h0M94.7 346.4h0M48.2 341.0h0M100.9 345.4h0M94.9 344.9h0M86.1 339.9h0M77.3 344.1h0M134.2 342.9h0M76.9 344.6h0M59.9 347.0h0M80.0 344.0h0M92.4 339.0h0M104.9 343.1h0M168.9 341.1h0M64.1 343.6h0M117.9 346.1h0M59.8 346.0h0M97.6 336.6h0M98.5 340.0h0M88.7 336.0h0M97.8 338.1h0M105.7 342.5h0M50.7 344.9h0M131.7 338.0h0M139.1 335.1h0M66.3 335.7h0M75.3 340.8h0M111.4 341.0h0M69.2 341.4h0M67.2 347.8h0M94.4 343.3h0M82.6 340.4h0M128.5 346.1h0M104.8 343.3h0M133.6 346.6h0M76.9 346.5h0M64.4 342.6h0M73.0 344.4h0M76.9 337.0h0M77.3 342.6h0M59.6 345.5h0M94.7 346.2h0M70.7 342.2h0M62.8 341.9h0M141.2 339.8h0M126.1 335.1h0M111.2 337.4h0M115.8 343.5h0M75.9 341.3h0M57.6 346.5h0M63.0 338.3h0M99.6 343.8h0M72.7 348.4h0M66.0 343.1h0M65.6 346.9h0M95.0 340.0h0M106.0 343.1h0M59.6 338.5h0M125.9 340.6h0M91.5 340.8h0M127.8 341.3h0M48.6 346.6h0M120.1 337.6h0M131.3 341.5h0M54.6 337.3h0M73.5 341.3h0M167.3 347.6h0M145.7 345.2h0M81.6 337.9h0M84.0 337.1h0M76.6 345.9h0M88.7 346.6h0M135.7 341.6h0M57.7 341.6h0M107.4 335.8h0M143.0 344.2h0M109.5 336.2h0M96.0 345.1h0M51.0 347.2h0M51.7 340.9h0M82.6 343.4h0M111.4 345.1h0M67.7 343.5h0M83.6 340.3h0M61.3 345.1h0M49.3 336.4h0M92.5 341.7h0M69.1 337.7h0M97.1 343.8h0M123.6 340.4h0M94.0 341.6h0M66.4 335.8h0M98.1 340.5h0M54.3 337.8h0M133.2 345.6h0M74.2 345.3h0M106.5 340.8h0M127.1 344.8h0M99.2 337.6h0M115.0 340.6h0M67.5 342.1h0M84.4 339.4h0M82.5 339.4h0M108.5 337.0h0M67.5 337.3h0M108.8 345.6h0M68.5 344.9h0M90.0 340.2h0M150.7 337.7h0M137.2 342.4h0M89.2 337.4h0M96.1 349.6h0M84.2 342.1h0M120.8 338.0h0M122.3 344.6h0M97.1 338.0h0M96.9 337.0h0M142.7 343.0h0M110.9 347.1h0M106.1 347.3h0M97.5 346.6h0M127.8 337.2h0M132.0 338.9h0M101.1 347.6h0M78.2 348.4h0M95.1 342.4h0M103.7 337.1h0M136.4 346.6h0M57.4 342.3h0M149.3 337.6h0M96.9 345.6h0M89.1 334.6h0M70.0 345.2h0M85.4 335.1h0M98.4 344.3h0M102.0 340.9h0M66.5 337.4h0M105.5 339.9h0M117.8 339.3h0M60.7 347.3h0M88.1 337.2h0M90.4 336.0h0M47.6 348.5h0M82.7 348.3h0M95.3 347.8h0M58.5 336.4h0M130.4 347.0h0M69.7 337.9h0M142.8 345.2h0M107.9 347.3h0M66.4 335.9h0M61.5 344.1h0M119.9 345.6h0M100.2 336.6h0M86.4 338.0h0M107.4 339.6h0M73.9 339.4h0M93.0 342.2h0M81.4 341.6h0M74.2 336.0h0M102.3 337.8h0M134.6 342.8h0M53.1 345.6h0M58.7 346.2h0M113.2 344.2h0M138.8 343.3h0M59.0 343.1h0M68.9 348.6h0M165.1 348.7h0M61.2 341.9h0M88.8 337.3h0M94.1 340.8h0M52.6 337.1h0M110.7 351.7h0M104.1 347.6h0M74.6 336.2h0M92.4 344.1h0M53.5 344.5h0M77.9 346.0h0M95.4 338.4h0M105.3 337.8h0M84.0 337.0h0M68.8 351.9h0M65.3 338.9h0M133.9 338.4h0M53.7 339.6h0M56.6 337.1h0M90.1 340.6h0M111.6 340.4h0M57.3 339.4h0M110.2 335.5h0M160.4 339.0h0M92.3 344.8h0M56.2 345.2h0M125.8 335.1h0M75.2 340.9h0M102.7 350.2h0M94.5 342.2h0M101.2 342.7h0M147.0 338.3h0M104.2 336.9h0M80.6 340.9h0M105.9 341.6h0M109.7 352.4h0M81.2 339.7h0M61.3 342.6h0M152.0 337.4h0M75.3 336.6h0M73.3 345.1h0M115.5 337.7h0M62.3 344.4h0M134.5 346.0h0M110.8 340.6h0M100.8 336.7h0M105.3 343.8h0M85.5 340.9h0M127.5 345.1h0M105.0 342.3h0M89.8 348.7h0M66.4 345.3h0M129.1 344.6h0M134.7 347.5h0M75.7 342.8h0M90.3 346.2h0M117.3 339.8h0M76.2 342.1h0M47.7 348.2h0M47.2 352.4h0M66.5 343.1h0M140.6 341.6h0M119.9 342.3h0M95.6 340.5h0M114.3 339.6h0M57.2 339.1h0M66.6 342.2h0M147.1 338.5h0M101.9 352.1h0M53.6 338.5h0M95.2 339.9h0M105.3 347.7h0M110.7 339.4h0M135.2 343.7h0M52.2 343.6h0M139.9 345.9h0M62.1 338.6h0M100.7 346.7h0M124.2 335.1h0M108.9 336.5h0M83.1 337.3h0M99.7 343.2h0M103.6 344.9h0M70.7 342.3h0M79.2 343.0h0M136.7 336.3h0M70.7 345.0h0M91.1 341.5h0M113.6 347.3h0M134.8 341.6h0M128.7 343.0h0M67.1 342.5h0M119.8 336.4h0M60.1 341.3h0M113.7 339.6h0M105.3 336.1h0M71.6 349.0h0M118.7 335.3h0M73.8 335.1h0M86.9 345.2h0M111.7 339.8h0M122.7 343.7h0M125.2 337.7h0M120.4 339.4h0M92.9 347.9h0M66.1 341.0h0M106.9 342.6h0M70.5 348.0h0M49.9 341.3h0M119.9 342.6h0M106.1 338.4h0M61.4 344.6h0M108.1 343.8h0M75.1 347.8h0M113.6 344.9h0M67.8 343.4h0M76.9 339.2h0M63.0 340.9h0M71.0 342.4h0M121.0 345.8h0M70.5 344.1h0M136.9 342.7h0M109.3 348.1h0M99.6 343.9h0M96.2 350.4h0M97.8 337.0h0M53.3 343.0h0M140.6 341.1h0M114.0 345.3h0M132.2 353.6h0M155.9 342.4h0M72.8 337.3h0M66.7 342.3h0M105.2 337.9h0M60.9 337.0h0M138.1 344.6h0M113.4 345.2h0M117.4 343.4h0M83.6 345.2h0M100.9 344.6h0M55.6 340.9h0M83.3 343.3h0M89.0 343.0h0M145.7 337.9h0M118.6 340.0h0M134.8 345.7h0M70.2 343.0h0M86.9 340.6h0M88.3 338.7h0M101.0 339.1h0M131.9 350.2h0M117.2 338.3h0M67.4 339.8h0M46.9 346.2h0M111.2 341.1h0M85.6 340.8h0M80.1 354.1h0M101.1 338.6h0M113.0 339.3h0M149.3 343.4h0M91.8 344.6h0M97.0 345.7h0M110.5 344.1h0M128.0 344.1h0M56.5 336.0h0M129.4 348.7h0M65.0 343.0h0M59.7 343.2h0M148.8 344.4h0M133.4 346.4h0M96.0 336.4h0M113.0 342.6h0M68.7 335.8h0M78.3 345.7h0M56.4 338.6h0M80.2 346.7h0M77.3 338.7h0M66.9 347.2h0M123.6 343.3h0M96.7 343.6h0M74.6 343.9h0M119.8 339.8h0M61.7 335.5h0M82.4 338.5h0M119.9 347.3h0M124.8 342.5h0M120.5 341.4h0M91.1 343.7h0M96.3 342.5h0M67.6 346.1h0M93.9 337.7h0M87.9 338.4h0M72.0 343.3h0M99.1 340.9h0M70.9 344.4h0M78.2 343.0h0M128.0 340.6h0M97.5 343.0h0M112.7 342.1h0M84.6 339.9h0M79.9 343.5h0M117.8 347.5h0M102.3 341.5h0M88.6 338.8h0M89.4 340.8h0M142.2 339.2h0M81.0 336.5h0M115.0 348.5h0M110.3 341.0h0M127.8 338.2h0M122.9 343.6h0M144.4 344.0h0M85.6 336.2h0M129.6 337.7h0M75.8 335.8h0M112.9 339.5h0M51.6 341.9h0M86.8 342.0h0M128.0 345.0h0M112.4 343.7h0M48.1 338.7h0M149.1 343.3h0M84.8 343.2h0M85.8 336.7h0M89.3 344.3h0M106.5 336.9h0M62.5 344.7h0M84.5 346.2h0M108.8 346.0h0M151.3 342.0h0M54.9 347.8h0M126.9 346.8h0M99.8 340.9h0M79.3 347.8h0M50.0 345.7h0M102.8 340.4h0M94.4 339.0h0M61.3 339.7h0M118.6 340.5h0M129.5 339.4h0M88.5 344.9h0M54.2 337.4h0M86.5 341.8h0M138.5 340.2h0M63.8 344.0h0M97.3 343.7h0M81.8 336.6h0M78.1 348.2h0M78.2 340.8h0M144.6 339.3h0M61.5 336.9h0M59.7 335.2h0M62.3 341.9h0M121.2 344.2h0M83.4 340.7h0M71.0 344.7h0M85.8 337.9h0M97.0 345.4h0M126.0 348.4h0M79.5 346.8h0M110.5 345.7h0M90.5 344.8h0M57.6 344.2h0M91.1 336.1h0M73.5 348.3h0M86.5 344.1h0M102.8 343.3h0M103.7 335.9h0M54.3 342.8h0M139.3 342.3h0M123.4 345.3h0M95.6 338.4h0M78.0 338.3h0M128.6 344.9h0M77.2 338.0h0M115.2 339.8h0M85.2 348.4h0M68.3 336.6h0M86.2 340.0h0M49.1 336.1h0M96.1 339.8h0M48.5 335.5h0M139.7 343.2h0M57.5 346.9h0M93.9 349.9h0M88.5 336.6h0M114.1 343.1h0M102.5 342.4h0M123.9 344.0h0M91.3 346.6h0M97.6 335.0h0M92.3 336.2h0M109.6 346.0h0M96.5 348.4h0M75.0 346.4h0M103.5 346.5h0M114.8 343.1h0M105.8 343.4h0M141.7 336.4h0M89.7 336.3h0M106.7 342.9h0M76.2 343.1h0M86.3 345.9h0M75.2 346.5h0M68.6 339.0h0M139.2 352.9h0M118.3 338.1h0M78.9 339.0h0M83.7 341.1h0M78.6 339.6h0M135.3 345.8h0M117.0 346.4h0M141.8 347.3h0M46.6 343.6h0M111.5 337.1h0M104.2 339.8h0M117.8 342.2h0M130.0 342.9h0M115.9 349.0h0M58.7 342.4h0M49.4 346.4h0M74.5 344.8h0M98.8 340.6h0M157.4 346.8h0M136.2 334.8h0M128.8 341.0h0M97.5 336.6h0M77.4 340.6h0M67.8 340.2h0M61.2 347.1h0M79.6 346.2h0M133.9 342.2h0M89.2 337.9h0M101.7 336.6h0M125.4 336.0h0M70.1 346.1h0M85.0 347.7h0M125.4 335.1h0M148.2 341.6h0M133.9 336.5h0M128.1 344.6h0M62.4 342.7h0M103.9 344.7h0M99.1 336.9h0M136.9 339.8h0M143.2 337.1h0M70.5 344.1h0M58.5 345.8h0M94.7 337.2h0M112.6 346.3h0M124.0 338.9h0M83.6 335.3h0M87.5 335.2h0M59.0 339.5h0M89.9 344.7h0M59.3 340.3h0M91.7 342.6h0M161.4 342.9h0M84.2 337.3h0M69.2 347.8h0M102.0 343.9h0M88.9 355.2h0M63.7 336.9h0M96.4 337.5h0M116.7 340.4h0M117.6 338.3h0M77.2 343.6h0M95.4 348.5h0M101.5 340.3h0M96.0 345.1h0M104.5 343.9h0M48.7 346.2h0M66.1 337.9h0M119.7 338.3h0M75.1 346.5h0M131.7 344.9h0M90.0 344.9h0M114.0 347.8h0M88.3 346.5h0M99.3 348.1h0M58.6 348.4h0M68.2 341.0h0M47.7 347.1h0M114.8 335.9h0M148.8 344.6h0M106.7 337.7h0M118.8 338.2h0M54.6 345.9h0M131.5 338.5h0M81.8 338.8h0M80.5 352.3h0M125.8 339.5h0M76.3 339.8h0M124.4 347.8h0M67.3 345.4h0M52.3 338.1h0M93.3 346.6h0M128.0 346.6h0M132.4 342.2h0M107.0 341.5h0M125.6 335.5h0M94.9 342.0h0M165.4 347.8h0M70.7 346.9h0M103.1 345.6h0M76.8 345.8h0M57.7 337.5h0M99.1 340.4h0M143.8 341.3h0M63.0 336.0h0M126.5 340.7h0M61.5 349.5h0M98.3 342.8h0M166.3 346.0h0M99.4 341.0h0M102.7 341.8h0M82.4 340.4h0M50.5 339.4h0M71.1 340.7h0M137.7 348.8h0M121.8 340.5h0M75.7 340.7h0M102.6 338.4h0M135.1 345.3h0M75.5 347.2h0M110.7 346.6h0M62.3 338.8h0M134.0 336.4h0M93.1 343.4h0M137.1 344.2h0M130.5 336.7h0M96.7 346.8h0M135.7 337.5h0M108.6 342.6h0M91.8 341.0h0M91.8 341.0h0M48.9 338.8h0M123.2 338.4h0M118.3 341.6h0M69.8 338.8h0M76.8 346.9h0M102.9 336.5h0M148.5 347.4h0M104.7 343.0h0M94.8 339.5h0M156.1 346.8h0M140.7 339.9h0M138.1 347.7h0M114.2 348.3h0M100.4 343.3h0M82.5 319.6h0M85.2 319.3h0M87.9 318.8h0M73.2 333.5h0M109.7 331.1h0M74.8 317.3h0M77.2 318.0h0M84.5 332.4h0M84.9 317.4h0M70.7 321.8h0M65.9 324.3h0M105.7 334.5h0M97.8 322.9h0M100.2 322.8h0M117.4 333.0h0M102.6 322.3h0M106.0 322.5h0M108.4 322.2h0M80.5 322.5h0M83.1 322.1h0M81.8 330.5h0M92.3 312.1h0M95.9 312.6h0M97.1 312.2h0M86.3 328.8h0M90.0 330.5h0M102.2 327.6h0M105.5 326.8h0M89.9 320.2h0M93.2 320.3h0M97.1 320.8h0M70.2 333.4h0M82.1 330.4h0M85.0 329.8h0M74.5 324.4h0M77.6 324.1h0M81.8 324.3h0M108.9 328.1h0M112.5 328.7h0M57.8 326.0h0M88.8 316.0h0M67.0 323.6h0M69.5 323.6h0M71.9 323.3h0M102.0 330.8h0M104.4 331.1h0M108.5 331.3h0M65.7 333.8h0M87.3 322.6h0M89.7 321.4h0M92.3 322.3h0M88.7 321.8h0M85.2 330.4h0M67.6 315.9h0M71.7 324.4h0M75.5 324.7h0M78.7 325.0h0M91.1 307.7h0M72.7 316.1h0M76.5 316.9h0M69.5 316.7h0M72.6 316.2h0M76.0 316.5h0M83.1 310.6h0M80.0 333.5h0M58.2 324.5h0M60.6 324.6h0M67.6 327.3h0M68.6 327.3h0M71.0 326.6h0M75.4 327.8h0M68.3 328.8h0M71.0 329.1h0M71.5 323.0h0M84.9 322.6h0M61.7 314.0h0M64.6 314.0h0M75.3 322.0h0M79.0 323.1h0M89.2 311.8h0M91.7 311.2h0M96.5 311.7h0M58.3 319.8h0M61.1 319.1h0M64.2 320.6h0M96.2 333.2h0M109.4 330.0h0M112.7 329.8h0M116.9 329.9h0M99.7 333.6h0M84.4 322.1h0M86.9 322.5h0M90.4 322.2h0M72.7 329.1h0M75.1 330.0h0M100.8 330.5h0M103.9 330.4h0M106.4 331.5h0M80.1 314.6h0M94.9 323.0h0M96.5 328.5h0M79.1 319.9h0M81.5 320.3h0M78.9 328.0h0M82.4 328.9h0M74.2 324.8h0M76.9 324.8h0M79.5 325.1h0M74.6 330.1h0M78.2 330.6h0M98.9 331.6h0M102.6 331.0h0M104.9 332.4h0M76.5 321.6h0M79.8 322.3h0M83.7 321.8h0M76.0 330.6h0M78.7 331.0h0M82.5 331.2h0M92.4 321.3h0M95.8 319.9h0M78.4 318.3h0M81.7 318.8h0M81.3 311.0h0M75.0 332.7h0M120.1 327.7h0M122.9 327.4h0M71.2 329.1h0M74.1 329.0h0M78.3 329.1h0M88.1 332.7h0M87.4 333.1h0M72.1 331.0h0M74.6 330.6h0M78.7 330.5h0M90.2 324.9h0M93.2 325.0h0M97.8 325.3h0M65.0 319.6h0M67.9 320.1h0M95.7 323.7h0M98.5 323.0h0M87.5 320.5h0M89.8 321.8h0M102.6 321.8h0M105.1 321.8h0M107.9 321.3h0M83.4 334.0h0M84.9 318.4h0M87.4 318.2h0M83.7 317.5h0M98.0 333.4h0M79.2 313.9h0M82.4 314.1h0M81.6 328.5h0M84.7 328.0h0M87.6 328.0h0M74.2 329.7h0M77.9 330.2h0M84.0 330.0h0M63.8 324.4h0M86.6 318.7h0M90.4 318.3h0M67.7 333.7h0M64.3 331.2h0M66.7 331.1h0M69.3 331.6h0M71.2 334.9h0M84.8 320.1h0M87.7 321.0h0M89.5 320.9h0M104.6 325.0h0M108.0 325.7h0M110.4 326.5h0M106.1 331.5h0M80.5 328.2h0M83.8 328.6h0M96.8 328.9h0M99.3 329.5h0M103.1 329.2h0M101.2 318.4h0M57.8 329.0h0M77.8 302.3h0M102.1 332.5h0M77.0 315.7h0M95.8 324.9h0M100.8 328.7h0M82.2 319.9h0M86.1 319.6h0M62.2 327.8h0M79.2 330.9h0M74.7 326.3h0M78.2 326.5h0M76.3 322.5h0M79.6 323.0h0M65.3 332.6h0M76.5 328.3h0M79.2 327.8h0M81.4 327.9h0M119.2 334.6h0M83.1 333.7h0M97.9 333.6h0M103.3 324.5h0M106.5 323.6h0M93.6 328.2h0M94.7 331.7h0M77.6 334.5h0M97.1 322.2h0M100.8 323.2h0M101.7 322.6h0M97.0 329.0h0M74.5 331.6h0M78.1 331.5h0M89.1 310.6h0M97.7 329.6h0M100.4 328.2h0M80.9 331.6h0M84.7 331.7h0M82.2 324.2h0M85.9 325.1h0M62.3 333.1h0M110.2 333.4h0M98.8 316.1h0M92.2 318.9h0M105.7 328.6h0M109.1 330.0h0M74.6 327.8h0M59.9 331.7h0M63.4 331.1h0M67.0 331.3h0M92.7 320.5h0M90.8 331.8h0M94.5 331.5h0M97.4 331.9h0M84.5 310.1h0M96.6 327.3h0M88.9 328.4h0M92.2 328.4h0M96.3 327.6h0M103.1 329.1h0M106.2 328.8h0M109.0 328.9h0M99.8 334.1h0M85.4 308.0h0M88.5 330.5h0M106.3 331.4h0M109.7 330.9h0M74.1 309.1h0M77.4 309.5h0M81.3 309.4h0M99.6 315.8h0M102.7 316.4h0M85.0 319.5h0M87.6 318.9h0M91.6 319.8h0M60.3 332.7h0M81.5 320.8h0M84.2 319.9h0M73.3 327.9h0M76.3 327.8h0M78.1 328.2h0M95.5 332.4h0M83.7 324.7h0M87.1 323.0h0M91.2 322.8h0M106.6 330.9h0M110.0 331.7h0M113.5 331.7h0M94.6 328.3h0M97.8 328.2h0M99.6 328.1h0M68.3 333.0h0M82.0 328.5h0M85.8 328.6h0M88.6 328.0h0M111.8 331.4h0M114.7 331.2h0M118.8 331.8h0M70.1 333.1h0M79.6 333.5h0M88.2 332.8h0M64.1 331.8h0M68.0 331.3h0M68.9 332.6h0M62.7 330.6h0M84.5 330.6h0M67.3 329.3h0M70.9 328.9h0M119.5 331.5h0M122.2 331.9h0M125.2 331.4h0M95.6 313.3h0M74.6 330.5h0M77.2 332.0h0M80.0 331.7h0M118.0 330.1h0M66.4 317.1h0M70.2 316.5h0M85.4 308.8h0M72.1 316.0h0M75.3 315.9h0M78.5 315.7h0M109.2 321.6h0M80.6 334.4h0M75.2 315.8h0M92.6 323.9h0M96.3 324.1h0M98.6 323.6h0M97.9 316.6h0M100.3 316.1h0M96.5 331.1h0M80.1 325.6h0M83.9 325.3h0M111.4 333.3h0M66.5 315.7h0M69.2 315.1h0M71.3 315.2h0M102.6 329.2h0M105.1 329.8h0M84.9 328.8h0M68.6 322.6h0M101.7 326.6h0M105.4 327.3h0M107.9 327.3h0M85.5 333.8h0M112.9 328.6h0M115.4 328.1h0M119.2 327.8h0M70.0 306.2h0M71.9 333.1h0M67.6 326.4h0M70.2 325.8h0M69.4 328.5h0M73.2 328.6h0M76.6 327.8h0M94.9 320.0h0M118.2 305.3h0M120.8 306.3h0M117.9 319.5h0M105.4 306.3h0M74.3 323.2h0M76.7 322.8h0M79.8 324.1h0M135.7 312.9h0M97.1 302.2h0M78.0 311.8h0M81.1 311.9h0M100.6 315.6h0M150.3 310.6h0M152.7 310.7h0M121.4 307.6h0M128.4 308.3h0M112.1 328.2h0M114.0 313.7h0M116.4 313.8h0M120.3 313.9h0M75.2 311.8h0M91.1 311.2h0M120.9 327.9h0M99.0 320.7h0M102.3 320.9h0M104.7 320.3h0M66.0 319.6h0M69.8 319.4h0M122.5 328.1h0M131.8 321.8h0M71.2 323.5h0M73.8 323.5h0M94.5 321.0h0M98.1 320.9h0M78.5 323.3h0M81.9 323.5h0M85.1 323.0h0M91.3 321.6h0M98.0 327.9h0M95.0 307.6h0M147.1 323.6h0M149.8 323.0h0M152.4 322.2h0M87.3 320.1h0M76.4 310.5h0M131.2 330.1h0M134.5 329.7h0M139.8 302.5h0M117.4 315.2h0M106.5 306.5h0M114.0 306.6h0M101.8 316.6h0M104.5 315.7h0M111.4 322.1h0M96.4 329.7h0M100.2 330.2h0M104.0 330.1h0M62.1 331.6h0M64.4 331.1h0M129.5 332.0h0M132.3 331.7h0M136.8 331.4h0M152.1 302.0h0M129.1 326.3h0M71.6 326.9h0M74.2 327.0h0M76.4 327.2h0M76.9 318.1h0M79.7 319.0h0M82.4 317.9h0M112.3 322.9h0M115.1 322.6h0M74.1 310.9h0M79.3 310.7h0M100.1 310.5h0M145.3 312.6h0M149.0 313.2h0M151.4 313.2h0M86.3 331.0h0M89.7 331.3h0M105.6 312.5h0M105.5 309.7h0M86.0 318.6h0M89.6 318.2h0M91.5 318.3h0M111.1 309.1h0M127.5 225.2h0M118.6 242.3h0M249.3 341.7h0M227.5 338.4h0M210.7 340.4h0M207.7 317.6h0M188.9 345.3h0M64.2 273.7h0M53.3 288.3h0M47.4 299.3h0M158.2 283.5h0M173.1 329.4h0M156.3 320.1h0M90.3 270.0h0M92.9 271.2h0M94.7 274.9h0M92.3 285.1h0M96.3 285.1h0M73.7 296.1h0M77.6 297.3h0M86.0 296.5h0M95.5 297.7h0M122.6 278.2h0M122.8 283.5h0M119.6 290.0h0M115.7 298.1h0M135.5 300.5h0M128.1 302.2h0M133.5 301.0h0M136.5 302.2h0M139.0 302.6h0M147.5 304.2h0M155.5 300.5h0M143.2 307.5h0" stroke="#ff7f0e" stroke-width="4.76" stroke-linecap="round" fill="none"/>
<rect x="172.6" y="217.6" width="84.2" height="31.5" rx="1.2" fill="#fff" fill-opacity="0.8" stroke="#d0d0d0" stroke-width="0.7"/>
<text class="lt" x="214.4" y="226.4" text-anchor="middle">CoronaryHeartDisease</text>
<circle cx="209.5" cy="234.5" r="2.40" fill="#1f77b4"/>
<text x="224.1" y="236.7" text-anchor="middle">0</text>
<circle cx="209.5" cy="244.5" r="2.40" fill="#ff7f0e"/>
<text x="224.1" y="246.7" text-anchor="middle">1</text>
<rect x="314.2" y="212.0" width="232.7" height="150.8" fill="#fff" stroke="#6c6c6c" stroke-width="1"/>
<text x="325.9" y="373.6" text-anchor="middle">2</text>
<text x="359.2" y="373.6" text-anchor="middle">4</text>
<text x="392.4" y="373.6" text-anchor="middle">6</text>
<text x="425.7" y="373.6" text-anchor="middle">8</text>
<text x="459.0" y="373.6" text-anchor="middle">10</text>
<text x="492.3" y="373.6" text-anchor="middle">12</text>
<text x="525.6" y="373.6" text-anchor="middle">14</text>
<text x="308.8" y="363.4" text-anchor="end">0</text>
<text x="308.8" y="343.1" text-anchor="end">5</text>
<text x="308.8" y="322.8" text-anchor="end">10</text>
<text x="308.8" y="302.5" text-anchor="end">15</text>
<text x="308.8" y="282.2" text-anchor="end">20</text>
<text x="308.8" y="261.9" text-anchor="end">25</text>
<text x="308.8" y="241.6" text-anchor="end">30</text>
<text x="308.8" y="221.3" text-anchor="end">35</text>
<path d="M325.9 362.8v2.4M359.2 362.8v2.4M392.4 362.8v2.4M425.7 362.8v2.4M459.0 362.8v2.4M492.3 362.8v2.4M525.6 362.8v2.4M314.2 360.5h-2.1M314.2 340.2h-2.1M314.2 319.9h-2.1M314.2 299.6h-2.1M314.2 279.3h-2.1M314.2 259.0h-2.1M314.2 238.7h-2.1M314.2 218.4h-2.1" stroke="#4d4d4d" stroke-width="0.8" fill="none"/>
<text x="409.9" y="382.9" text-anchor="middle">Cholesterol</text>
<text transform="translate(294.6 284.4) rotate(-90)" text-anchor="middle">Glucose</text>
<text class="lab" x="427.4" y="396.0" text-anchor="middle">d</text>
<path d="M395.6 338.8h0M384.8 338.6h0M346.4 337.1h0M391.5 339.2h0M368.2 340.3h0M331.5 339.2h0M358.5 335.5h0M372.4 345.2h0M419.0 334.5h0M417.7 341.9h0M411.8 341.1h0M407.4 342.7h0M337.5 341.0h0M410.4 338.7h0M330.4 338.9h0M379.4 338.9h0M354.5 340.8h0M371.0 343.9h0M386.0 338.7h0M386.4 339.3h0M412.4 337.6h0M428.2 336.3h0M347.6 347.8h0M398.6 340.7h0M357.9 341.0h0M383.1 343.2h0M449.9 346.9h0M383.2 337.1h0M360.6 336.6h0M411.4 338.1h0M376.6 339.7h0M398.2 341.6h0M370.9 339.8h0M344.1 340.1h0M358.0 349.5h0M365.2 337.5h0M395.2 336.3h0M346.0 341.1h0M379.9 340.3h0M352.8 331.8h0M402.1 343.8h0M398.6 342.9h0M351.2 340.4h0M391.1 340.2h0M393.6 338.9h0M390.7 339.5h0M346.1 336.3h0M389.4 340.7h0M368.3 342.4h0M367.7 335.6h0M391.8 338.6h0M371.0 342.9h0M387.4 337.3h0M388.1 338.4h0M358.7 338.8h0M352.6 343.2h0M373.0 342.3h0M412.6 335.5h0M396.3 347.7h0M378.2 337.6h0M398.6 337.7h0M363.2 334.2h0M398.3 341.2h0M369.6 342.9h0M386.4 344.2h0M341.5 341.4h0M388.1 337.2h0M392.2 344.6h0M397.7 337.7h0M329.2 339.7h0M333.4 336.2h0M437.5 339.2h0M416.4 339.3h0M376.2 342.0h0M348.3 342.1h0M341.5 340.3h0M327.6 343.1h0M367.2 336.3h0M377.7 341.4h0M325.7 340.8h0M389.2 340.5h0M339.0 334.3h0M373.8 336.4h0M361.9 333.5h0M413.4 340.1h0M397.7 340.0h0M359.3 337.2h0M367.9 340.1h0M406.9 334.9h0M421.1 339.1h0M352.3 342.8h0M413.7 342.6h0M411.3 346.1h0M398.9 343.4h0M340.6 339.6h0M343.1 342.9h0M391.1 343.8h0M412.6 342.4h0M344.1 339.8h0M395.1 341.9h0M408.0 340.8h0M387.2 337.4h0M329.8 341.4h0M390.4 343.7h0M400.2 336.2h0M404.1 337.6h0M405.1 340.8h0M423.3 339.7h0M334.8 339.3h0M363.3 338.7h0M384.8 338.4h0M369.2 340.2h0M377.7 331.8h0M349.4 336.7h0M409.4 341.2h0M380.2 339.7h0M352.4 340.2h0M352.1 344.5h0M347.0 334.4h0M332.7 335.1h0M416.4 338.4h0M349.2 340.1h0M362.5 333.2h0M399.9 345.4h0M389.0 345.5h0M360.3 344.4h0M398.1 343.5h0M388.1 344.3h0M396.5 342.6h0M382.8 342.6h0M387.6 346.2h0M370.2 339.6h0M335.3 338.1h0M424.3 340.5h0M400.7 339.1h0M428.4 338.5h0M384.2 337.0h0M358.4 341.3h0M378.0 341.4h0M378.8 344.6h0M362.7 342.9h0M379.0 332.3h0M372.1 338.0h0M373.0 341.2h0M414.4 336.8h0M359.1 342.9h0M360.5 341.2h0M411.9 331.4h0M343.3 343.3h0M382.0 340.4h0M331.1 340.4h0M399.9 340.5h0M327.1 343.6h0M362.4 336.0h0M364.8 343.3h0M372.1 339.4h0M383.6 339.1h0M360.2 342.9h0M378.7 340.3h0M365.4 347.9h0M404.4 340.4h0M407.5 346.4h0M398.9 341.8h0M384.5 342.3h0M336.2 335.4h0M370.4 340.9h0M414.8 337.8h0M372.4 337.3h0M428.6 341.7h0M398.4 340.3h0M375.3 343.6h0M343.8 335.6h0M376.2 344.3h0M370.9 336.7h0M376.5 345.3h0M362.2 340.6h0M403.9 341.7h0M371.9 340.7h0M391.8 340.4h0M362.4 347.0h0M329.1 335.7h0M406.6 336.4h0M371.1 345.9h0M357.8 340.6h0M396.3 339.8h0M419.5 337.5h0M378.4 342.2h0M353.3 345.0h0M384.7 339.5h0M379.1 336.5h0M377.1 339.1h0M348.7 339.4h0M392.0 338.8h0M351.8 344.2h0M384.4 335.7h0M353.2 338.2h0M405.3 338.2h0M377.3 337.2h0M336.9 342.3h0M340.3 341.3h0M326.9 335.3h0M389.6 337.5h0M386.7 342.0h0M398.3 337.8h0M386.4 344.7h0M370.7 344.0h0M423.1 330.6h0M373.0 341.7h0M347.3 339.6h0M420.0 345.4h0M367.3 340.8h0M379.3 342.1h0M399.5 335.0h0M366.1 342.2h0M388.0 335.4h0M355.0 346.1h0M374.5 343.5h0M360.5 345.4h0M402.1 346.6h0M376.6 338.4h0M388.0 346.0h0M428.1 336.9h0M425.6 339.2h0M371.7 341.0h0M348.1 329.2h0M363.5 335.6h0M347.0 336.5h0M403.0 338.1h0M385.0 344.0h0M381.6 343.8h0M405.7 337.1h0M393.7 336.8h0M387.5 330.1h0M347.7 343.9h0M333.6 338.0h0M332.5 343.5h0M377.3 344.5h0M384.5 337.7h0M375.5 341.2h0M332.1 340.8h0M388.2 344.3h0M376.1 342.7h0M429.0 331.8h0M358.3 330.1h0M408.9 336.5h0M366.0 344.2h0M379.3 342.7h0M367.5 346.6h0M353.3 338.7h0M414.2 341.8h0M407.9 342.5h0M376.3 337.9h0M401.4 343.0h0M351.2 341.3h0M353.8 344.6h0M417.0 343.3h0M410.6 344.8h0M362.1 341.7h0M399.0 343.0h0M411.1 340.1h0M395.4 342.4h0M348.2 335.6h0M372.5 341.1h0M397.3 339.7h0M367.7 345.3h0M333.6 334.9h0M409.5 344.3h0M358.3 340.1h0M353.6 340.9h0M378.3 344.5h0M397.0 338.3h0M372.3 339.7h0M353.1 340.5h0M375.2 338.6h0M360.4 339.7h0M409.1 340.1h0M360.9 349.5h0M340.8 342.0h0M366.7 335.4h0M345.4 339.5h0M435.5 340.3h0M396.2 344.2h0M419.4 340.6h0M327.2 340.5h0M370.7 340.3h0M378.3 340.3h0M361.2 341.6h0M387.0 342.7h0M371.8 346.7h0M401.4 343.4h0M348.1 338.1h0M359.0 341.4h0M389.8 343.1h0M335.1 337.8h0M394.1 338.9h0M391.9 340.0h0M358.5 337.6h0M443.2 338.3h0M359.3 338.1h0M357.1 339.5h0M393.1 343.4h0M371.1 344.4h0M365.5 341.4h0M378.4 345.4h0M374.9 344.3h0M333.6 342.0h0M391.8 336.7h0M396.0 338.8h0M369.1 338.2h0M342.9 338.6h0M416.2 342.8h0M401.1 337.9h0M331.5 344.3h0M374.5 340.7h0M370.7 342.6h0M363.3 340.8h0M401.2 334.9h0M391.8 339.0h0M350.2 349.5h0M360.3 341.4h0M394.9 338.3h0M437.2 337.5h0M341.3 343.1h0M340.4 339.5h0M413.7 335.6h0M395.1 345.0h0M398.6 339.7h0M387.8 336.1h0M385.5 345.3h0M338.5 335.9h0M370.8 341.4h0M374.2 343.0h0M385.6 345.2h0M376.9 342.7h0M340.3 340.8h0M386.5 343.5h0M327.6 342.7h0M373.5 340.3h0M341.1 342.6h0M372.5 338.9h0M408.3 339.2h0M347.4 339.8h0M395.3 335.0h0M355.2 340.1h0M366.0 342.4h0M388.5 343.3h0M382.3 342.0h0M386.2 337.2h0M429.3 342.4h0M392.9 339.4h0M362.8 339.0h0M346.3 340.1h0M417.8 332.0h0M424.3 343.5h0M411.7 341.5h0M389.4 339.9h0M399.2 338.5h0M354.6 347.3h0M393.3 342.9h0M341.3 337.7h0M380.8 340.1h0M337.4 349.5h0M397.5 340.5h0M377.4 337.5h0M403.3 334.1h0M391.1 334.5h0M388.7 339.1h0M363.2 336.6h0M379.4 340.8h0M391.5 335.4h0M383.6 335.1h0M408.6 341.2h0M409.7 336.6h0M389.0 339.6h0M366.8 339.4h0M407.7 338.6h0M347.8 339.2h0M392.8 338.6h0M339.9 339.0h0M347.4 342.7h0M400.5 338.9h0M385.6 342.9h0M382.6 344.5h0M352.9 332.4h0M401.3 338.1h0M420.8 335.2h0M359.1 336.2h0M367.1 339.4h0M457.6 343.7h0M351.7 341.1h0M353.3 345.2h0M398.1 341.9h0M331.4 338.6h0M384.7 340.6h0M330.4 340.0h0M391.2 342.8h0M340.9 338.9h0M335.4 345.5h0M361.3 338.6h0M399.1 341.1h0M388.0 338.6h0M379.3 338.0h0M339.8 342.2h0M327.7 341.8h0M388.3 338.4h0M351.5 336.7h0M383.7 341.3h0M355.3 337.2h0M356.5 343.2h0M385.6 341.6h0M420.8 337.7h0M385.4 339.4h0M368.1 342.8h0M361.2 339.7h0M400.9 340.5h0M376.3 338.7h0M392.0 341.6h0M378.2 340.7h0M391.4 343.4h0M355.5 340.9h0M369.4 343.1h0M362.4 342.5h0M360.3 340.4h0M391.7 342.1h0M404.3 340.4h0M409.8 341.9h0M356.2 338.6h0M332.0 340.7h0M361.0 340.6h0M389.9 338.3h0M350.9 342.7h0M357.9 339.3h0M406.4 336.2h0M400.7 336.8h0M393.6 345.4h0M329.4 338.7h0M365.4 343.6h0M418.8 343.1h0M395.0 335.5h0M373.2 346.6h0M381.6 338.0h0M381.5 340.4h0M354.9 337.4h0M346.7 343.0h0M383.6 335.0h0M337.5 342.7h0M387.5 343.5h0M347.6 341.9h0M405.8 343.2h0M394.3 346.3h0M408.3 337.0h0M439.7 338.6h0M413.4 344.9h0M351.5 329.4h0M384.4 340.9h0M347.2 344.8h0M372.8 334.0h0M362.1 336.7h0M373.9 340.4h0M350.3 337.7h0M388.9 337.9h0M346.5 341.9h0M334.1 337.3h0M393.9 337.0h0M383.5 341.0h0M408.5 335.7h0M340.6 340.3h0M402.7 347.8h0M402.1 340.7h0M388.7 340.5h0M350.6 340.7h0M338.4 341.4h0M374.1 341.4h0M356.4 339.9h0M363.4 335.8h0M385.5 349.5h0M372.4 339.3h0M361.4 345.2h0M382.3 335.5h0M414.0 342.4h0M388.5 335.8h0M345.6 340.2h0M353.8 343.0h0M367.7 347.0h0M347.9 339.3h0M336.1 334.9h0M353.3 339.2h0M401.4 337.3h0M354.0 349.5h0M341.5 343.2h0M397.3 345.5h0M359.9 339.4h0M375.4 341.7h0M329.9 346.7h0M381.8 342.2h0M353.9 335.8h0M396.8 334.2h0M387.1 337.8h0M354.1 343.5h0M337.0 343.9h0M378.2 342.5h0M390.0 332.8h0M329.3 334.8h0M394.4 339.5h0M359.3 339.6h0M390.8 344.4h0M394.6 342.0h0M441.7 340.6h0M368.1 343.2h0M397.4 343.3h0M332.6 336.9h0M394.0 344.7h0M380.6 336.9h0M393.7 336.2h0M419.6 336.7h0M386.6 340.6h0M381.3 342.6h0M344.3 337.7h0M400.8 334.9h0M361.7 339.8h0M413.0 332.1h0M362.5 336.7h0M394.4 340.8h0M349.0 343.0h0M361.9 341.2h0M392.3 342.6h0M333.0 337.0h0M375.0 338.9h0M345.1 341.5h0M401.6 341.6h0M330.7 341.6h0M347.7 342.2h0M358.5 336.4h0M384.8 338.4h0M403.8 337.2h0M343.3 345.9h0M348.1 344.7h0M377.5 337.9h0M348.1 347.7h0M364.7 341.6h0M392.4 349.0h0M332.1 343.0h0M332.1 341.1h0M343.4 338.5h0M361.4 336.0h0M397.7 335.5h0M384.2 345.5h0M344.5 338.0h0M330.3 341.8h0M344.7 337.8h0M349.3 335.9h0M404.0 338.2h0M398.7 334.3h0M362.3 337.6h0M402.3 344.3h0M353.9 338.6h0M347.1 338.4h0M424.0 344.8h0M361.3 331.8h0M365.2 345.2h0M373.7 338.6h0M337.9 334.8h0M374.8 345.6h0M351.7 343.0h0M379.6 344.8h0M353.5 341.0h0M373.7 341.4h0M371.6 336.7h0M348.7 335.7h0M336.0 340.8h0M358.7 338.7h0M330.4 338.9h0M352.4 343.7h0M388.4 342.8h0M350.3 341.5h0M355.8 337.0h0M372.3 341.8h0M340.1 337.1h0M325.9 340.0h0M368.8 338.3h0M342.9 336.1h0M347.1 335.1h0M364.7 337.2h0M356.9 338.0h0M388.6 345.1h0M342.3 342.2h0M407.4 341.5h0M341.5 338.4h0M357.0 337.5h0M367.1 338.5h0M370.4 346.9h0M360.9 338.0h0M361.1 340.3h0M355.1 334.2h0M405.6 343.1h0M341.4 345.4h0M376.8 338.3h0M367.8 341.7h0M326.4 336.7h0M410.5 342.2h0M390.3 342.6h0M344.0 345.1h0M432.4 342.3h0M363.3 342.6h0M329.7 339.2h0M408.8 345.8h0M383.5 344.5h0M350.9 345.7h0M368.5 346.1h0M448.2 340.8h0M335.4 340.8h0M394.7 338.7h0M361.3 344.6h0M344.6 335.9h0M392.0 339.3h0M400.1 341.5h0M362.0 343.3h0M411.7 337.8h0M396.6 341.9h0M409.6 336.7h0M367.5 346.3h0M337.8 333.0h0M422.3 336.5h0M337.1 325.4h0M369.0 337.3h0M366.6 327.8h0M381.9 334.1h0M355.0 339.1h0M418.4 324.2h0M382.6 345.5h0M337.7 343.2h0M337.3 340.8h0M347.6 338.1h0M393.9 335.9h0M339.8 314.3h0M378.2 300.8h0M349.0 333.4h0M326.2 335.6h0M349.0 344.1h0M388.5 331.9h0M398.5 323.4h0M386.8 305.7h0M405.3 335.9h0M383.1 339.8h0M387.5 346.9h0M388.6 328.9h0M342.9 346.9h0M358.5 345.8h0M365.9 346.6h0M391.6 336.6h0M385.1 310.6h0M336.2 348.0h0M376.5 342.6h0M390.3 325.9h0M370.3 322.7h0M366.6 303.0h0M379.3 346.0h0M336.0 324.9h0M383.3 346.9h0M371.6 339.8h0M354.1 329.8h0M387.5 338.5h0M411.2 338.9h0M365.6 337.2h0M378.7 343.4h0M372.1 345.3h0M412.7 315.2h0M413.0 298.0h0M366.9 326.2h0M379.4 341.6h0M393.6 338.7h0M408.6 334.9h0M326.6 334.9h0M394.8 343.9h0M329.8 346.0h0M340.5 348.4h0M415.2 320.6h0M420.6 329.3h0M361.1 304.2h0M410.7 340.9h0M370.8 320.2h0M351.5 317.6h0M376.6 324.7h0M326.6 335.4h0M401.2 345.5h0M396.9 304.0h0M391.5 333.0h0M435.0 324.7h0M347.0 326.0h0M370.1 345.9h0M361.1 307.0h0M401.3 332.9h0M398.2 294.6h0M342.1 336.9h0M343.8 339.9h0M355.4 331.4h0M342.4 325.9h0M433.6 333.7h0M373.7 294.6h0M348.2 321.1h0M363.4 348.2h0M330.2 333.7h0M375.6 321.9h0M397.4 345.6h0M383.4 345.4h0M405.1 320.9h0M377.8 327.1h0M411.7 334.4h0M336.5 344.5h0M388.2 319.7h0M368.4 348.7h0M358.9 346.5h0M398.7 324.5h0M373.7 340.6h0M370.7 336.7h0M412.1 341.2h0M371.8 338.7h0M356.7 325.8h0M331.0 342.7h0M369.4 336.1h0M408.6 323.2h0M383.4 330.8h0M411.5 333.8h0M404.7 342.5h0M344.1 347.4h0M364.3 327.5h0M397.4 342.6h0M394.5 338.9h0M352.4 341.2h0M406.0 323.1h0M364.5 317.8h0M368.4 341.8h0M418.4 329.0h0M363.1 332.6h0M378.5 346.3h0M376.8 298.4h0M426.0 345.3h0M365.0 342.8h0M418.7 319.7h0M340.8 314.8h0M325.9 348.4h0M356.2 336.6h0M363.1 304.1h0M399.8 294.7h0M403.4 335.6h0M356.3 333.2h0M424.2 332.9h0M400.4 344.8h0M390.9 333.8h0M353.6 323.4h0M367.8 313.6h0M375.8 334.7h0M418.9 347.7h0M385.6 328.0h0M381.3 325.5h0M363.5 347.5h0M360.6 324.9h0M396.3 343.8h0M364.7 331.0h0M371.5 328.8h0M419.4 341.6h0M414.0 296.3h0M371.0 335.4h0M368.6 335.6h0M424.6 341.1h0M332.7 342.2h0M358.3 347.0h0M394.9 325.1h0M403.4 342.9h0M364.1 315.5h0M380.7 326.2h0M346.1 346.9h0M349.5 310.1h0M354.8 341.1h0M332.2 339.8h0M357.1 326.0h0M332.4 332.5h0M387.6 338.0h0M386.2 324.0h0M374.3 335.9h0M372.4 311.2h0M392.8 338.7h0M364.1 348.6h0M337.5 340.2h0M408.6 327.4h0M343.8 323.1h0M413.9 320.6h0M391.9 335.1h0M413.0 309.6h0M342.3 313.3h0M391.5 300.3h0M379.8 324.1h0M394.0 336.9h0M339.5 306.3h0M340.9 316.9h0M386.3 308.2h0M418.6 344.8h0M371.5 299.1h0M376.9 345.8h0M338.2 326.1h0M357.0 343.3h0M395.3 345.4h0M388.4 327.4h0M371.3 341.3h0M353.5 329.2h0M392.3 335.6h0M372.7 344.6h0M369.9 304.2h0M386.8 323.7h0M353.0 308.1h0M352.9 328.7h0M377.2 318.6h0M343.0 344.4h0M366.3 336.7h0M346.0 346.3h0M377.4 335.6h0M406.5 335.4h0M380.4 324.3h0M428.2 337.8h0M362.5 343.2h0M412.2 301.9h0M349.3 329.0h0M346.2 347.5h0M352.9 335.0h0M332.7 325.5h0M406.8 345.1h0M400.8 313.0h0M367.1 307.7h0M384.3 327.6h0M355.1 316.6h0M383.9 325.1h0M418.4 317.2h0M395.7 333.2h0M363.0 327.1h0M373.4 321.4h0M383.1 297.4h0M434.9 344.5h0M378.2 331.4h0M378.1 344.0h0M364.5 347.0h0M397.1 320.1h0M388.5 348.5h0M409.7 345.5h0M357.3 293.4h0M362.6 326.1h0M366.2 307.9h0M401.4 337.7h0M371.6 336.3h0M358.2 348.4h0M356.2 339.7h0M402.8 342.5h0M362.7 337.0h0M360.3 317.3h0M335.4 309.4h0M357.4 347.9h0M398.1 301.6h0M401.0 313.8h0M415.6 329.6h0M337.9 324.1h0M404.7 348.5h0M411.0 346.9h0M370.4 327.6h0M361.8 337.9h0M345.8 320.7h0M414.6 341.2h0M408.8 308.5h0M367.0 336.3h0M394.5 327.4h0M377.9 334.1h0M392.3 344.3h0M376.7 325.0h0M335.0 324.7h0M330.9 310.6h0M334.9 348.6h0M365.6 337.8h0M354.7 348.5h0M425.1 324.4h0M333.2 310.6h0M400.7 344.8h0M351.5 345.2h0M333.1 345.6h0M340.9 337.4h0M353.0 343.6h0M379.6 331.3h0M406.4 313.6h0M388.2 334.9h0M331.4 329.1h0M372.7 331.4h0M341.8 308.6h0M335.3 336.7h0M406.3 341.8h0M387.5 327.9h0M329.7 345.9h0M335.9 329.4h0M348.6 341.7h0M384.0 333.4h0M373.7 338.5h0M368.1 339.1h0M372.7 347.2h0M375.3 323.2h0M385.4 328.0h0M334.4 343.7h0M337.0 315.7h0M340.0 335.1h0M388.1 335.5h0M405.2 345.3h0M393.3 344.2h0M411.6 340.6h0M353.1 308.3h0M385.0 342.1h0M346.2 326.1h0M343.4 338.8h0M379.9 343.6h0M414.0 340.2h0M356.0 321.8h0M357.1 329.2h0M407.1 327.5h0M375.6 315.9h0M426.6 327.3h0M377.4 319.4h0M410.7 327.8h0M359.5 330.2h0M402.4 330.5h0M408.2 339.2h0M374.6 310.6h0M402.4 326.6h0M409.4 345.6h0M352.9 333.0h0M414.0 324.5h0M356.5 330.2h0M329.2 344.1h0M389.5 329.3h0M344.1 347.7h0M356.2 348.4h0M335.1 347.1h0M389.9 307.7h0M391.9 338.8h0M362.4 306.4h0M372.7 333.8h0M337.0 315.7h0M403.3 334.9h0M386.1 346.9h0M327.7 348.7h0M389.2 304.3h0M397.6 343.0h0M342.7 342.7h0M330.9 333.9h0M380.9 343.3h0M361.9 331.9h0M361.8 322.8h0M352.0 340.7h0M402.5 340.5h0M340.8 310.6h0M386.7 348.4h0M351.6 338.9h0M394.3 336.3h0M421.6 335.7h0M381.9 298.1h0M376.4 319.4h0M368.5 327.7h0M357.7 344.5h0M352.1 343.4h0M364.4 335.3h0M351.8 342.5h0M396.4 344.0h0M362.8 337.3h0M353.3 330.1h0M364.2 343.2h0M337.5 326.4h0M389.1 312.2h0M422.7 340.9h0M378.0 300.7h0M357.1 329.3h0M392.2 332.6h0M329.3 337.5h0M368.3 295.8h0M369.3 331.9h0M377.3 308.0h0M364.5 323.5h0M382.5 347.9h0M407.7 333.4h0M411.5 333.2h0M368.0 343.2h0M366.2 344.3h0M381.0 324.6h0M438.9 328.6h0M350.1 343.0h0M391.4 345.2h0M371.2 341.3h0M406.2 304.6h0M412.7 327.5h0M409.7 304.6h0M404.6 336.2h0M353.5 346.9h0M406.4 332.8h0M406.8 344.7h0M371.3 332.1h0M400.3 302.8h0M371.8 307.6h0M359.9 296.3h0M389.4 299.6h0M378.7 294.7h0M382.4 294.3h0M352.0 302.8h0M372.3 296.6h0M391.1 298.6h0M389.9 218.8h0M394.1 223.7h0M395.8 222.9h0M400.4 235.0h0M387.6 239.1h0M396.4 242.8h0M366.0 232.0h0M328.0 283.0h0M536.4 335.3h0M474.5 274.4h0M476.6 327.6h0M479.0 335.7h0M484.8 338.6h0M490.6 344.7h0M470.6 337.8h0M465.7 339.0h0M459.8 337.8h0M455.7 341.0h0M450.0 329.4h0M340.9 356.0h0M385.8 352.8h0M324.2 339.0h0M366.0 261.4h0M386.0 261.0h0M353.3 271.2h0M367.0 274.0h0M378.5 270.8h0M385.0 273.2h0M386.0 276.1h0M387.6 278.9h0M401.4 271.6h0M395.8 274.0h0M348.3 277.3h0M361.3 280.1h0M364.2 281.3h0M394.9 282.1h0M383.0 284.6h0M390.8 286.6h0M339.0 287.8h0M355.8 290.7h0M367.5 289.0h0M374.1 287.4h0M421.1 275.2h0M418.1 280.1h0M435.4 281.7h0M430.0 291.5h0M429.0 298.0h0M433.0 304.5h0M436.5 313.6h0M401.9 293.1h0M415.7 295.5h0M409.1 303.7h0M425.1 314.4h0M424.1 319.1h0M431.0 325.6h0M439.0 325.2h0M442.0 324.0h0M342.5 291.5h0M379.1 291.1h0M387.4 290.3h0M397.4 289.9h0M392.4 294.7h0M407.4 291.9h0M419.1 307.7h0M414.1 311.0h0" stroke="#1f77b4" stroke-width="4.76" stroke-linecap="round" fill="none"/>
<path d="M384.7 335.1h0M415.0 342.4h0M391.3 333.7h0M365.0 329.2h0M397.4 327.1h0M382.7 335.8h0M404.1 327.4h0M359.6 334.8h0M351.3 333.7h0M364.4 344.1h0M399.6 333.4h0M391.8 344.7h0M370.0 336.8h0M373.1 341.4h0M365.6 334.8h0M364.0 341.2h0M355.7 343.5h0M334.0 342.7h0M372.8 338.1h0M404.1 341.2h0M390.9 340.5h0M359.3 337.4h0M336.1 327.8h0M379.8 330.2h0M358.1 326.4h0M399.6 338.9h0M362.2 343.0h0M333.4 340.8h0M381.2 338.8h0M343.7 339.6h0M374.2 335.6h0M373.6 336.1h0M383.2 337.5h0M392.1 345.6h0M395.5 333.9h0M424.9 333.8h0M405.2 342.3h0M356.8 336.1h0M351.6 334.3h0M351.4 334.3h0M360.5 339.4h0M393.0 340.0h0M402.0 330.4h0M377.1 329.2h0M371.9 336.4h0M347.5 342.5h0M376.8 344.7h0M443.5 335.3h0M385.0 333.7h0M382.6 340.5h0M351.2 329.7h0M345.7 333.2h0M385.2 336.1h0M333.9 335.3h0M368.5 338.6h0M362.4 341.1h0M371.1 348.4h0M393.5 335.8h0M372.7 335.0h0M384.5 331.2h0M334.8 338.6h0M359.3 343.0h0M368.6 348.0h0M342.1 338.9h0M341.8 338.9h0M389.9 334.4h0M340.9 340.0h0M379.7 337.8h0M369.4 340.3h0M408.7 336.4h0M383.0 343.4h0M366.5 344.3h0M377.9 329.0h0M379.1 345.3h0M387.0 332.3h0M368.4 342.8h0M371.8 340.8h0M359.7 339.1h0M343.8 344.4h0M351.8 331.8h0M341.6 342.6h0M368.3 332.8h0M367.1 336.4h0M334.8 340.3h0M364.6 340.6h0M344.5 332.9h0M370.1 349.7h0M348.3 341.6h0M336.1 341.0h0M412.7 332.8h0M395.3 335.2h0M393.5 335.4h0M386.6 337.2h0M377.4 329.7h0M386.7 326.8h0M336.0 338.9h0M389.2 338.3h0M360.3 337.1h0M353.0 331.0h0M377.2 341.0h0M375.4 338.3h0M393.3 327.0h0M401.9 337.0h0M403.6 340.8h0M372.0 333.1h0M371.8 336.1h0M350.6 347.6h0M370.5 335.6h0M414.8 338.4h0M361.6 339.6h0M350.2 339.5h0M350.0 338.5h0M370.8 338.9h0M348.3 334.4h0M407.1 336.7h0M388.5 336.0h0M421.1 343.7h0M360.1 335.3h0M393.3 339.4h0M410.1 338.4h0M371.8 332.7h0M381.6 328.2h0M354.3 342.9h0M414.2 333.3h0M340.5 328.9h0M354.6 336.4h0M333.6 341.9h0M353.2 340.8h0M372.2 329.9h0M341.0 341.7h0M332.4 339.9h0M337.7 342.9h0M395.8 332.0h0M406.7 331.0h0M339.3 338.6h0M346.7 341.4h0M363.5 336.5h0M369.6 342.7h0M365.7 335.8h0M367.2 333.0h0M364.0 333.5h0M373.0 329.9h0M391.5 341.0h0M375.9 342.6h0M393.9 333.5h0M361.6 342.2h0M386.3 338.1h0M410.3 335.4h0M355.0 331.8h0M351.0 326.7h0M357.4 338.8h0M337.0 332.8h0M357.3 344.6h0M362.9 338.8h0M368.7 343.6h0M390.2 341.3h0M414.5 334.6h0M379.4 338.2h0M330.8 330.7h0M361.2 341.0h0M374.5 340.3h0M366.5 335.4h0M354.1 342.2h0M419.4 338.7h0M342.7 338.9h0M372.8 329.7h0M344.7 335.4h0M391.8 331.8h0M395.9 338.4h0M397.4 337.2h0M360.9 334.1h0M331.7 344.5h0M370.6 338.1h0M372.4 341.9h0M350.7 332.9h0M373.8 337.0h0M400.5 334.1h0M356.3 341.8h0M373.2 344.3h0M355.7 344.8h0M336.8 331.7h0M372.3 327.6h0M353.5 338.9h0M352.0 340.5h0M379.4 338.2h0M405.5 337.9h0M395.3 335.7h0M380.9 330.5h0M380.3 342.2h0M371.8 342.6h0M377.1 333.7h0M387.9 340.1h0M343.5 339.4h0M401.9 340.4h0M360.1 329.1h0M344.0 341.3h0M394.9 343.4h0M376.0 342.2h0M390.8 341.2h0M330.7 332.6h0M349.7 337.3h0M373.8 336.9h0M372.8 338.8h0M416.2 338.8h0M354.1 339.1h0M363.3 338.4h0M356.2 344.4h0M354.5 340.6h0M387.2 330.2h0M380.7 336.7h0M387.3 338.4h0M403.0 340.9h0M370.8 329.8h0M369.9 338.5h0M377.1 336.5h0M339.2 331.7h0M357.4 342.2h0M403.0 340.7h0M365.6 334.3h0M393.4 331.5h0M351.9 330.7h0M363.3 342.2h0M372.0 334.9h0M335.7 333.0h0M368.5 341.8h0M349.2 341.3h0M369.2 332.0h0M398.4 326.8h0M385.1 339.3h0M423.7 336.3h0M383.8 330.2h0M372.9 330.4h0M377.2 331.9h0M330.5 342.8h0M359.7 332.5h0M359.5 326.7h0M333.3 325.7h0M391.0 336.4h0M390.5 335.2h0M351.2 344.2h0M352.1 344.0h0M375.7 335.6h0M384.3 334.9h0M343.6 335.6h0M384.8 335.1h0M414.6 332.1h0M349.7 337.0h0M402.4 327.9h0M365.6 335.6h0M346.0 338.6h0M379.2 336.4h0M384.6 337.1h0M339.8 337.4h0M412.1 341.3h0M356.4 339.5h0M381.6 343.1h0M373.7 335.6h0M346.0 333.9h0M360.7 342.7h0M378.7 337.5h0M373.3 326.8h0M362.8 330.7h0M355.0 344.0h0M418.6 340.1h0M354.4 334.3h0M366.0 342.9h0M368.6 331.6h0M383.8 338.7h0M445.2 337.6h0M359.7 339.4h0M363.4 341.4h0M355.3 338.9h0M330.1 341.8h0M351.1 337.8h0M331.0 337.8h0M354.3 333.7h0M358.7 337.3h0M333.0 329.8h0M357.3 344.0h0M371.4 338.3h0M351.1 338.9h0M389.1 328.4h0M384.3 337.5h0M387.7 333.1h0M356.7 336.5h0M356.0 343.9h0M393.3 330.7h0M339.4 339.2h0M423.2 337.2h0M396.5 334.0h0M350.1 344.1h0M380.6 330.0h0M376.7 332.1h0M336.2 346.6h0M407.2 338.6h0M395.1 333.3h0M374.2 337.9h0M365.6 340.8h0M344.9 333.9h0M367.8 342.9h0M347.1 339.2h0M361.0 341.0h0M391.2 329.5h0M335.6 339.8h0M397.2 329.0h0M367.3 342.1h0M404.4 337.9h0M387.3 334.6h0M382.4 337.2h0M370.3 327.0h0M357.6 346.4h0M350.1 338.9h0M381.8 343.5h0M373.9 334.4h0M365.3 339.5h0M373.4 335.9h0M341.7 342.3h0M332.4 328.5h0M341.3 336.2h0M399.6 347.2h0M408.5 334.1h0M333.3 342.7h0M343.6 340.3h0M377.7 337.9h0M370.1 335.2h0M388.2 330.7h0M418.2 333.3h0M367.3 335.8h0M336.7 337.6h0M362.1 334.4h0M352.9 331.1h0M335.0 342.2h0M383.7 328.4h0M352.1 332.4h0M369.1 340.9h0M385.3 327.4h0M362.7 336.0h0M391.2 334.7h0M376.2 333.7h0M419.5 335.4h0M352.2 342.1h0M360.1 330.4h0M346.5 342.7h0M358.8 334.8h0M335.2 330.7h0M357.4 334.1h0M365.2 337.1h0M349.2 334.8h0M370.5 343.3h0M357.5 327.4h0M364.6 339.1h0M414.4 341.5h0M351.5 326.1h0M370.8 344.4h0M370.3 336.4h0M382.0 342.5h0M361.5 344.0h0M386.6 338.9h0M374.5 346.0h0M337.2 329.1h0M368.7 332.4h0M336.4 342.2h0M403.7 334.7h0M362.9 337.9h0M360.2 330.3h0M369.4 327.8h0M365.5 336.1h0M360.7 328.2h0M337.1 327.1h0M390.8 337.3h0M406.3 337.8h0M383.0 326.5h0M381.6 344.3h0M381.2 327.6h0M401.2 341.8h0M376.3 338.9h0M392.2 335.1h0M372.5 336.5h0M345.5 342.1h0M389.9 338.2h0M368.3 333.7h0M376.7 330.8h0M346.0 343.9h0M348.4 340.7h0M349.9 331.4h0M348.7 331.3h0M422.3 343.1h0M360.6 343.3h0M392.9 336.4h0M371.1 340.9h0M410.7 335.4h0M366.1 331.7h0M364.3 331.7h0M361.0 331.8h0M331.0 335.3h0M392.3 339.0h0M356.3 339.2h0M385.3 331.2h0M367.6 343.5h0M356.5 329.9h0M369.9 329.6h0M413.2 338.6h0M356.6 328.2h0M367.9 337.8h0M364.7 343.1h0M356.5 337.1h0M363.4 343.6h0M399.0 336.2h0M358.9 343.9h0M428.3 335.4h0M394.9 335.4h0M396.7 345.3h0M375.7 329.0h0M376.5 340.1h0M349.4 337.2h0M353.5 341.3h0M363.8 337.3h0M370.1 332.2h0M364.5 336.3h0M388.0 333.6h0M374.7 341.0h0M377.4 329.9h0M398.4 340.3h0M383.5 336.8h0M353.5 335.3h0M373.6 341.3h0M379.8 328.9h0M395.2 337.7h0M367.2 340.0h0M397.4 348.7h0M368.8 339.5h0M392.2 327.2h0M347.3 327.9h0M354.9 327.2h0M387.6 336.7h0M342.7 334.2h0M339.6 332.7h0M389.7 332.5h0M428.6 334.1h0M362.1 340.4h0M373.9 341.0h0M377.7 343.4h0M341.4 334.7h0M351.3 343.3h0M341.8 333.5h0M353.9 339.6h0M366.0 333.0h0M362.2 338.5h0M355.0 340.1h0M340.7 338.3h0M373.0 326.7h0M330.4 344.3h0M371.8 332.5h0M392.9 338.1h0M359.5 336.7h0M383.2 337.2h0M399.1 334.5h0M333.2 340.4h0M376.7 327.6h0M361.7 332.8h0M409.6 332.3h0M334.4 330.6h0M369.7 339.9h0M357.2 330.2h0M349.7 335.1h0M385.3 339.4h0M355.4 335.1h0M338.2 332.1h0M390.7 340.9h0M383.1 335.7h0M365.2 332.8h0M365.5 340.2h0M374.2 333.4h0M346.5 341.9h0M409.6 332.6h0M403.7 336.4h0M356.2 335.9h0M341.0 337.1h0M370.8 335.0h0M377.1 331.3h0M353.3 330.4h0M358.9 330.1h0M390.2 328.3h0M364.4 339.2h0M375.4 326.6h0M362.0 343.0h0M337.1 332.9h0M343.3 338.2h0M350.1 336.0h0M330.9 340.3h0M346.9 331.7h0M334.4 343.0h0M343.6 339.0h0M408.5 343.3h0M367.2 334.1h0M354.7 344.5h0M344.0 340.1h0M398.7 347.1h0M371.7 341.6h0M386.7 337.5h0M373.9 332.2h0M382.2 338.2h0M333.7 334.8h0M405.6 337.8h0M332.5 339.5h0M350.3 334.6h0M355.5 341.8h0M355.9 330.4h0M354.4 340.0h0M347.7 338.3h0M384.2 330.6h0M333.6 332.3h0M408.5 342.3h0M411.5 341.9h0M363.3 333.0h0M343.3 332.2h0M411.8 341.3h0M343.5 333.9h0M387.2 343.4h0M366.0 336.5h0M343.9 335.8h0M348.5 350.5h0M371.5 335.7h0M353.7 328.3h0M353.8 329.5h0M356.3 336.3h0M393.9 334.2h0M366.7 337.2h0M409.3 336.5h0M392.8 338.8h0M364.4 339.9h0M376.4 344.5h0M363.4 335.4h0M352.3 326.4h0M383.9 337.7h0M381.5 343.6h0M363.6 337.6h0M360.1 329.4h0M349.2 343.8h0M338.7 338.5h0M364.5 335.2h0M346.7 330.8h0M380.7 330.2h0M380.7 341.4h0M408.1 340.1h0M351.0 335.7h0M339.4 338.4h0M370.2 344.5h0M332.3 339.2h0M339.8 342.1h0M358.6 334.9h0M389.5 339.8h0M378.4 340.5h0M373.3 326.4h0M357.0 337.6h0M373.1 330.4h0M368.7 347.1h0M365.7 339.1h0M398.3 336.0h0M340.1 335.3h0M386.4 333.1h0M365.5 331.1h0M390.1 336.8h0M363.2 337.0h0M352.2 343.9h0M366.4 335.0h0M341.9 339.1h0M365.7 337.1h0M379.0 330.2h0M399.5 335.0h0M402.5 337.3h0M389.3 342.8h0M364.5 343.7h0M352.4 341.0h0M340.7 334.8h0M363.2 339.7h0M359.3 336.9h0M361.9 344.3h0M353.3 340.7h0M388.6 335.7h0M365.5 330.9h0M353.5 331.1h0M410.6 343.0h0M406.8 333.3h0M394.9 330.4h0M338.4 339.8h0M343.3 337.1h0M390.8 342.9h0M388.9 330.1h0M398.6 346.3h0M383.7 343.2h0M344.3 328.9h0M392.5 332.6h0M369.3 334.0h0M382.3 342.3h0M382.0 327.5h0M410.6 338.0h0M421.8 336.0h0M366.8 340.1h0M352.3 335.0h0M358.8 333.1h0M370.2 338.3h0M355.3 337.7h0M369.1 333.1h0M411.2 339.6h0M354.9 335.5h0M330.3 344.0h0M370.5 329.6h0M358.9 335.5h0M384.2 337.9h0M348.2 339.1h0M330.2 330.9h0M404.5 341.3h0M395.6 337.3h0M374.5 338.7h0M352.8 326.0h0M411.2 338.9h0M350.5 344.2h0M363.3 343.4h0M404.4 341.0h0M339.4 336.6h0M395.6 335.5h0M349.2 335.3h0M336.4 342.2h0M347.4 331.8h0M332.5 340.6h0M347.5 342.0h0M362.2 337.4h0M418.5 334.2h0M380.9 332.9h0M366.3 330.7h0M399.9 338.4h0M380.7 340.9h0M353.4 333.0h0M344.2 331.3h0M385.5 333.2h0M434.1 344.2h0M348.4 327.0h0M401.0 335.7h0M361.4 338.8h0M367.4 335.2h0M362.9 342.5h0M378.4 342.1h0M350.8 342.5h0M408.9 342.5h0M349.7 338.5h0M398.6 327.9h0M351.6 336.6h0M406.5 339.7h0M378.2 344.0h0M397.7 342.8h0M368.3 331.2h0M380.1 342.3h0M350.7 344.0h0M365.9 342.6h0M368.5 336.0h0M354.9 340.7h0M349.3 333.7h0M347.9 331.4h0M361.0 331.5h0M396.2 334.1h0M402.2 330.0h0M372.7 343.6h0M346.7 334.2h0M361.6 327.4h0M351.4 332.5h0M331.5 334.0h0M363.8 339.9h0M357.0 336.1h0M362.1 330.3h0M348.3 327.0h0M370.9 333.4h0M377.6 326.2h0M397.0 334.6h0M337.6 339.4h0M380.9 337.6h0M379.1 332.5h0M360.7 336.1h0M361.3 336.5h0M376.1 342.5h0M360.5 334.4h0M392.5 330.7h0M330.0 336.7h0M395.6 330.4h0M384.1 333.9h0M429.5 341.6h0M361.8 335.8h0M363.4 333.4h0M427.6 340.1h0M359.1 339.0h0M366.3 332.0h0M362.6 337.0h0M353.9 337.7h0M350.5 337.3h0M362.7 350.6h0M341.6 338.9h0M407.4 336.7h0M350.7 334.6h0M377.0 334.3h0M388.7 340.4h0M363.6 342.9h0M400.0 331.8h0M348.8 334.6h0M380.5 336.4h0M358.5 339.5h0M352.4 329.7h0M377.3 333.7h0M357.5 335.2h0M380.4 336.5h0M379.4 332.0h0M343.4 342.4h0M380.3 343.0h0M360.6 334.7h0M431.8 341.2h0M386.7 342.4h0M425.0 340.8h0M376.1 338.0h0M362.8 335.1h0M383.3 336.2h0M365.0 337.9h0M386.0 337.1h0M378.8 342.9h0M365.0 326.8h0M364.5 333.5h0M334.7 335.9h0M388.7 333.6h0M335.3 337.4h0M362.3 345.4h0M334.2 337.9h0M354.7 343.5h0M388.0 342.0h0M360.6 342.3h0M330.4 347.9h0M379.1 336.5h0M339.7 333.1h0M400.4 330.8h0M331.2 340.7h0M335.8 332.6h0M390.0 327.3h0M367.2 341.6h0M380.4 347.9h0M413.4 343.9h0M353.8 326.2h0M394.8 329.5h0M384.9 329.3h0M358.8 332.2h0M380.1 343.0h0M345.0 334.4h0M337.0 339.1h0M372.1 336.8h0M384.2 339.0h0M364.5 341.2h0M364.5 325.7h0M369.9 344.4h0M339.9 340.3h0M351.0 339.5h0M406.2 336.6h0M361.8 345.0h0M367.6 347.5h0M333.6 336.6h0M349.6 342.4h0M360.2 338.8h0M374.4 331.1h0M346.6 337.8h0M349.6 339.0h0M336.7 340.1h0M343.7 327.7h0M337.5 337.3h0M396.1 334.2h0M371.1 330.7h0M366.6 338.7h0M334.1 335.2h0M399.6 332.1h0M331.4 334.2h0M332.3 340.9h0M398.8 342.8h0M376.8 328.9h0M375.6 331.2h0M366.5 334.3h0M382.4 327.3h0M370.1 339.4h0M330.8 343.4h0M370.2 331.8h0M365.4 330.9h0M424.5 336.9h0M332.9 330.9h0M418.6 338.3h0M367.3 336.9h0M373.7 337.0h0M334.6 333.6h0M341.8 336.8h0M333.9 330.2h0M367.5 335.1h0M406.4 341.8h0M379.3 332.1h0M362.2 330.6h0M382.5 329.9h0M330.4 338.7h0M415.8 338.6h0M359.6 343.1h0M355.0 344.6h0M369.5 337.5h0M330.8 341.1h0M407.6 332.7h0M374.3 335.7h0M375.0 340.0h0M370.3 330.7h0M416.6 338.8h0M368.2 335.5h0M385.2 341.3h0M360.4 343.4h0M366.4 337.3h0M363.1 338.4h0M401.1 333.7h0M381.0 333.1h0M423.0 332.4h0M349.4 336.7h0M366.7 339.7h0M386.7 335.5h0M366.1 330.2h0M370.2 341.0h0M349.4 332.8h0M387.0 339.6h0M350.1 336.5h0M374.3 344.3h0M359.2 345.1h0M406.7 346.3h0M358.2 332.6h0M355.1 334.4h0M341.1 333.2h0M378.0 342.6h0M406.3 340.6h0M400.0 332.1h0M332.7 344.3h0M355.3 342.7h0M371.6 339.2h0M420.3 335.3h0M350.7 340.3h0M356.3 330.5h0M339.5 332.5h0M336.7 338.2h0M333.2 334.5h0M348.4 334.2h0M382.1 332.9h0M394.6 340.2h0M354.1 332.1h0M389.3 339.4h0M403.3 331.2h0M394.6 343.3h0M353.2 340.5h0M384.6 337.8h0M381.4 338.5h0M374.5 331.1h0M363.7 333.6h0M355.5 333.4h0M362.6 335.8h0M354.3 336.0h0M390.7 333.1h0M370.9 334.8h0M403.3 333.5h0M405.5 336.3h0M373.0 330.1h0M368.2 341.1h0M385.0 340.4h0M362.7 335.1h0M396.4 330.1h0M415.3 338.8h0M344.0 342.8h0M385.4 334.0h0M348.2 336.6h0M345.8 336.3h0M368.4 339.3h0M379.0 338.0h0M396.2 331.4h0M406.2 336.5h0M334.1 331.5h0M354.9 336.7h0M352.8 338.2h0M348.0 335.9h0M392.9 335.7h0M349.4 337.6h0M356.7 329.0h0M370.9 334.2h0M406.3 340.3h0M386.1 333.5h0M381.9 339.1h0M343.8 329.9h0M365.4 337.3h0M387.7 340.3h0M358.8 331.3h0M373.1 350.1h0M339.8 327.2h0M348.2 331.1h0M350.2 340.5h0M390.1 333.7h0M349.7 338.1h0M335.8 340.6h0M406.1 341.1h0M385.4 334.0h0M358.8 328.3h0M371.8 342.5h0M339.7 329.1h0M398.1 330.8h0M364.7 329.5h0M376.3 337.3h0M388.7 339.9h0M401.3 330.0h0M376.5 340.7h0M385.8 336.3h0M387.1 343.2h0M334.7 343.4h0M380.4 335.2h0M395.2 336.4h0M388.6 337.1h0M334.8 343.6h0M369.3 343.6h0M359.9 339.2h0M351.1 331.8h0M379.7 333.6h0M351.6 340.8h0M370.1 335.9h0M362.4 338.6h0M389.4 327.5h0M351.9 337.3h0M403.1 342.3h0M334.8 342.6h0M362.8 328.3h0M383.9 340.2h0M368.9 341.5h0M339.5 341.8h0M367.3 341.8h0M427.4 336.0h0M368.7 327.0h0M401.3 340.6h0M354.2 343.3h0M382.8 329.0h0M379.2 332.0h0M339.0 338.4h0M336.9 332.9h0M399.6 339.5h0M391.7 332.0h0M341.1 335.0h0M424.4 343.7h0M408.1 339.0h0M337.0 342.1h0M356.8 339.8h0M355.5 333.6h0M355.2 336.2h0M364.6 337.8h0M332.0 336.4h0M336.5 329.8h0M338.3 341.1h0M378.5 339.5h0M362.9 337.7h0M416.8 336.2h0M364.9 338.9h0M404.9 327.6h0M355.0 315.7h0M358.0 312.1h0M372.0 324.4h0M375.6 324.8h0M396.6 323.6h0M368.7 322.4h0M383.6 328.2h0M362.1 325.5h0M380.6 329.6h0M386.3 330.0h0M371.5 321.1h0M385.9 324.0h0M367.6 328.9h0M346.2 307.3h0M355.8 326.8h0M349.4 326.7h0M348.8 304.8h0M377.2 323.7h0M341.9 322.4h0M352.3 314.0h0M364.7 312.4h0M367.7 329.3h0M372.4 313.9h0M350.1 311.0h0M359.1 328.2h0M358.4 308.2h0M396.6 327.1h0M366.5 329.3h0M341.8 304.9h0M361.7 323.9h0M358.7 320.2h0M384.0 326.3h0M364.8 328.1h0M380.6 327.5h0M381.3 326.4h0M385.4 325.1h0M349.2 314.2h0M340.2 317.8h0M372.8 327.2h0M348.4 312.2h0M342.3 309.7h0M359.7 327.5h0M349.8 322.8h0M342.2 311.9h0M367.8 311.6h0M364.5 315.6h0M366.9 326.6h0M364.5 325.2h0M382.8 329.9h0M373.5 313.0h0M349.6 316.7h0M350.0 326.2h0M382.1 328.7h0M342.3 328.8h0M357.0 321.7h0M359.0 326.3h0M342.2 310.9h0M345.7 323.0h0M352.9 329.3h0M363.4 327.5h0M368.0 319.5h0M390.0 320.8h0M342.9 321.9h0M356.4 317.7h0M367.7 309.1h0M378.0 327.2h0M374.8 319.9h0M383.2 323.3h0M388.1 325.7h0M356.6 320.1h0M398.4 329.7h0M354.2 318.9h0M353.3 326.3h0M386.0 324.0h0M390.2 325.7h0M378.2 321.4h0M388.8 323.2h0M387.1 321.5h0M341.8 318.8h0M354.9 325.8h0M370.3 305.0h0M375.7 322.1h0M375.0 323.5h0M367.1 325.7h0M382.9 323.8h0M367.3 308.9h0M359.2 320.7h0M390.7 324.7h0M371.2 315.5h0M370.6 320.7h0M352.2 323.3h0M380.6 320.2h0M340.7 325.5h0M377.8 327.6h0M349.6 318.3h0M398.3 329.3h0M374.8 319.9h0M388.5 314.2h0M374.9 322.4h0M357.6 321.4h0M362.8 315.4h0M343.4 319.4h0M350.9 324.0h0M357.4 324.3h0M387.4 321.6h0M377.6 309.1h0M363.0 307.9h0M353.0 329.0h0M347.6 316.8h0M382.9 325.7h0M342.7 322.0h0M406.9 325.5h0M364.9 309.9h0M372.2 326.9h0M349.2 324.4h0M344.8 322.2h0M348.1 326.8h0M377.0 325.0h0M378.1 318.4h0M351.6 317.4h0M377.6 326.2h0M370.4 326.8h0M372.8 327.0h0M343.5 326.5h0M410.3 326.4h0M349.0 320.3h0M352.8 320.9h0M365.9 323.3h0M365.8 323.6h0M392.5 322.6h0M393.1 323.2h0M346.2 315.7h0M408.8 326.3h0M369.2 326.3h0M357.1 323.3h0M342.9 310.7h0M376.0 327.6h0M343.2 328.6h0M400.5 329.2h0M366.0 326.3h0M388.5 328.4h0M380.7 328.4h0M346.0 327.1h0M387.4 327.5h0M408.2 324.5h0M392.8 318.9h0M344.4 325.0h0M339.2 328.5h0M345.7 311.8h0M346.2 316.8h0M385.6 318.4h0M349.0 310.2h0M357.5 329.0h0M379.0 329.5h0M360.1 325.3h0M342.8 310.7h0M353.1 326.4h0M354.5 322.7h0M354.0 305.8h0M377.6 321.4h0M366.6 322.6h0M344.4 329.9h0M384.4 329.1h0M397.6 320.1h0M365.1 316.5h0M359.3 325.5h0M373.6 329.9h0M388.8 329.8h0M358.6 316.8h0M351.2 323.3h0M355.9 321.8h0M353.1 325.5h0M350.5 322.7h0M340.3 318.2h0M396.0 329.7h0M363.6 324.0h0M340.6 313.6h0M380.7 327.8h0M354.4 301.7h0M376.5 322.5h0M369.8 306.4h0M371.3 322.7h0M379.7 325.7h0M357.8 326.4h0M384.5 323.5h0M344.5 322.4h0M388.3 317.0h0M340.9 322.5h0M354.7 304.0h0M339.2 318.8h0M341.6 324.5h0M352.1 307.8h0M360.0 302.1h0M376.8 316.1h0M359.7 323.5h0M354.0 298.3h0M355.7 312.6h0M366.6 324.8h0M342.6 326.6h0M392.0 324.6h0M358.4 311.7h0M384.3 316.9h0M356.4 327.3h0M351.5 322.9h0M416.4 328.6h0M376.0 308.7h0M382.1 329.0h0M379.1 315.5h0M395.1 318.6h0M367.4 329.5h0M345.7 312.0h0M378.3 325.5h0M383.0 328.0h0M397.2 323.6h0M345.2 302.9h0M389.8 324.0h0M369.6 322.1h0M374.5 318.0h0M342.3 324.7h0M348.5 329.1h0M346.0 325.0h0M368.7 321.8h0M339.3 309.4h0M367.7 308.0h0M411.0 329.4h0M349.2 309.3h0M385.7 328.0h0M344.0 328.5h0M359.4 324.9h0M376.6 327.6h0M352.0 313.5h0M349.0 319.0h0M376.5 318.5h0M380.3 314.0h0M353.8 329.0h0M358.0 312.7h0M383.4 318.6h0M352.7 320.9h0M383.3 321.1h0M377.3 319.8h0M366.1 323.7h0M381.8 314.8h0M359.3 329.1h0M354.9 322.4h0M373.4 325.8h0M345.8 328.8h0M378.9 327.7h0M368.4 313.0h0M347.9 315.4h0M373.8 308.1h0M364.4 323.5h0M338.9 324.6h0M362.1 324.4h0M366.2 328.4h0M362.5 328.3h0M349.6 323.4h0M389.3 322.0h0M349.2 324.9h0M362.5 323.9h0M379.8 328.9h0M375.0 325.6h0M344.5 324.7h0M361.8 310.9h0M350.3 317.1h0M368.8 309.8h0M369.2 314.3h0M362.8 328.7h0M372.3 323.6h0M353.4 325.1h0M385.6 318.1h0M353.4 323.9h0M370.0 318.7h0M350.0 325.2h0M356.1 311.9h0M338.5 322.1h0M366.7 321.4h0M392.6 329.5h0M357.8 312.0h0M356.6 310.6h0M374.4 318.7h0M379.3 318.9h0M354.2 311.6h0M359.9 300.4h0M370.3 328.3h0M371.3 320.1h0M357.6 322.0h0M402.9 326.7h0M359.7 319.7h0M357.0 328.2h0M359.9 326.2h0M352.7 317.1h0M393.6 325.3h0M355.8 319.2h0M382.8 328.8h0M358.2 303.3h0M356.4 315.8h0M377.9 314.9h0M348.2 315.4h0M372.5 327.3h0M339.9 329.9h0M357.3 319.0h0M361.2 328.5h0M356.0 323.9h0M361.9 320.3h0M364.9 312.9h0M357.5 324.3h0M347.6 327.9h0M342.7 318.0h0M392.7 322.6h0M356.3 318.3h0M352.0 319.6h0M372.2 325.9h0M372.3 322.4h0M361.5 316.2h0M361.5 310.5h0M377.2 324.2h0M372.6 307.3h0M371.2 319.5h0M368.0 325.7h0M341.2 325.2h0M358.7 299.5h0M381.9 322.6h0M370.8 321.2h0M354.4 318.7h0M360.9 329.4h0M393.9 328.9h0M377.8 322.7h0M382.3 328.1h0M354.8 320.1h0M366.7 319.6h0M357.1 327.1h0M341.9 329.4h0M345.4 309.2h0M391.5 328.4h0M358.3 309.8h0M380.9 319.0h0M341.7 327.9h0M365.6 318.9h0M376.3 328.1h0M374.0 327.3h0M347.1 318.9h0M377.3 329.1h0M348.9 329.1h0M348.5 324.7h0M352.4 308.4h0M349.7 328.6h0M362.8 317.4h0M365.8 327.0h0M354.7 321.9h0M350.6 328.7h0M360.3 322.7h0M356.2 321.1h0M378.1 315.4h0M369.1 313.5h0M382.3 324.5h0M393.1 325.2h0M348.5 328.9h0M382.2 324.6h0M359.3 328.4h0M349.5 328.2h0M382.6 327.6h0M361.4 325.8h0M364.9 326.3h0M374.2 326.3h0M338.9 315.7h0M355.0 304.9h0M358.5 329.8h0M359.7 323.8h0M338.4 326.3h0M397.0 325.3h0M405.2 327.9h0M391.1 320.1h0M373.6 316.1h0M367.3 320.1h0M402.5 326.7h0M355.6 316.9h0M368.5 328.0h0M382.5 326.6h0M358.0 327.8h0M390.5 324.8h0M381.3 328.1h0M354.6 328.9h0M343.3 325.2h0M383.2 328.7h0M349.2 312.1h0M352.7 316.1h0M367.1 324.5h0M365.2 327.2h0M349.0 319.2h0M374.0 306.8h0M353.6 329.5h0M357.2 322.8h0M370.3 307.6h0M361.3 313.8h0M340.1 321.6h0M377.8 327.0h0M404.1 326.9h0M389.1 325.9h0M343.9 329.2h0M349.9 312.6h0M356.8 320.4h0M352.7 327.8h0M350.6 305.9h0M371.4 318.0h0M359.0 322.2h0M369.8 329.9h0M385.2 328.9h0M355.3 320.7h0M368.9 312.3h0M393.0 323.2h0M401.0 325.3h0M373.0 310.6h0M377.7 323.6h0M389.7 327.3h0M370.5 314.9h0M339.3 322.8h0M353.7 296.5h0M357.7 326.7h0M340.3 323.5h0M372.7 319.9h0M386.6 322.5h0M358.0 328.0h0M347.9 321.8h0M347.2 327.7h0M369.0 325.8h0M375.6 328.2h0M349.0 324.7h0M351.8 319.0h0M354.7 322.1h0M345.6 329.4h0M382.0 313.2h0M338.8 312.1h0M360.0 309.0h0M370.7 329.0h0M386.1 326.5h0M368.1 326.0h0M359.3 303.9h0M356.1 308.2h0M392.1 322.9h0M352.6 319.3h0M347.0 325.3h0M362.6 326.2h0M380.9 328.6h0M385.4 318.6h0M367.1 306.4h0M377.9 329.2h0M377.4 328.7h0M358.1 326.2h0M377.0 314.1h0M364.4 310.7h0M376.2 324.0h0M344.0 321.0h0M403.2 329.3h0M382.2 327.7h0M369.6 326.0h0M352.7 325.8h0M355.2 323.5h0M372.2 314.5h0M385.4 308.6h0M381.3 311.6h0M374.0 300.7h0M342.9 299.8h0M373.7 311.3h0M338.9 295.7h0M347.8 305.6h0M359.0 314.6h0M351.9 315.0h0M381.0 307.3h0M373.8 310.3h0M361.8 295.4h0M391.7 309.7h0M379.9 296.7h0M373.1 305.8h0M359.7 299.3h0M358.6 300.1h0M350.5 297.7h0M376.1 306.3h0M348.7 314.0h0M373.9 310.5h0M400.2 294.1h0M368.8 314.7h0M409.3 294.0h0M377.3 305.0h0M379.7 295.0h0M353.9 296.9h0M341.7 300.8h0M385.8 310.2h0M399.1 294.3h0M389.0 302.6h0M349.3 312.9h0M404.9 309.9h0M383.3 315.4h0M362.8 309.4h0M367.8 314.8h0M388.8 313.5h0M383.1 298.7h0M396.4 296.4h0M371.1 309.4h0M340.6 314.6h0M367.1 312.1h0M367.1 301.7h0M348.9 313.4h0M400.3 300.1h0M385.5 297.2h0M377.4 298.9h0M372.4 308.3h0M399.4 297.7h0M386.6 312.1h0M355.9 293.2h0M382.7 299.3h0M388.5 301.9h0M385.0 301.3h0M386.4 297.7h0M342.4 312.7h0M347.9 314.4h0M367.9 309.5h0M397.0 308.3h0M354.3 301.4h0M352.5 300.6h0M377.1 310.7h0M396.4 307.7h0M337.1 314.6h0M345.6 292.8h0M361.8 301.9h0M348.0 297.5h0M340.3 296.4h0M394.6 294.8h0M375.5 315.6h0M398.3 313.3h0M383.2 296.0h0M397.4 221.2h0M389.9 238.3h0M498.9 337.4h0M481.5 334.1h0M466.5 336.1h0M464.3 313.0h0M449.0 340.6h0M344.4 269.6h0M334.5 283.8h0M330.0 294.7h0M423.1 279.3h0M421.6 315.0h0M435.5 325.4h0M365.0 265.1h0M367.6 267.1h0M369.0 270.8h0M393.4 273.6h0M367.0 280.1h0M372.0 280.1h0M392.9 278.9h0M389.9 285.0h0M351.3 289.4h0M361.3 289.9h0M421.6 296.4h0M415.1 300.0h0M410.1 302.8h0M403.9 297.6h0M407.9 298.4h0" stroke="#ff7f0e" stroke-width="4.76" stroke-linecap="round" fill="none"/>
<rect x="459.1" y="213.5" width="84.0" height="30.6" rx="1.2" fill="#fff" fill-opacity="0.8" stroke="#d0d0d0" stroke-width="0.7"/>
<text class="lt" x="500.8" y="222.3" text-anchor="middle">CoronaryHeartDisease</text>
<circle cx="495.8" cy="230.1" r="2.40" fill="#1f77b4"/>
<text x="510.5" y="231.9" text-anchor="middle">0</text>
<circle cx="495.8" cy="239.5" r="2.40" fill="#ff7f0e"/>
<text x="510.5" y="241.7" text-anchor="middle">1</text>
</svg></body></html>
